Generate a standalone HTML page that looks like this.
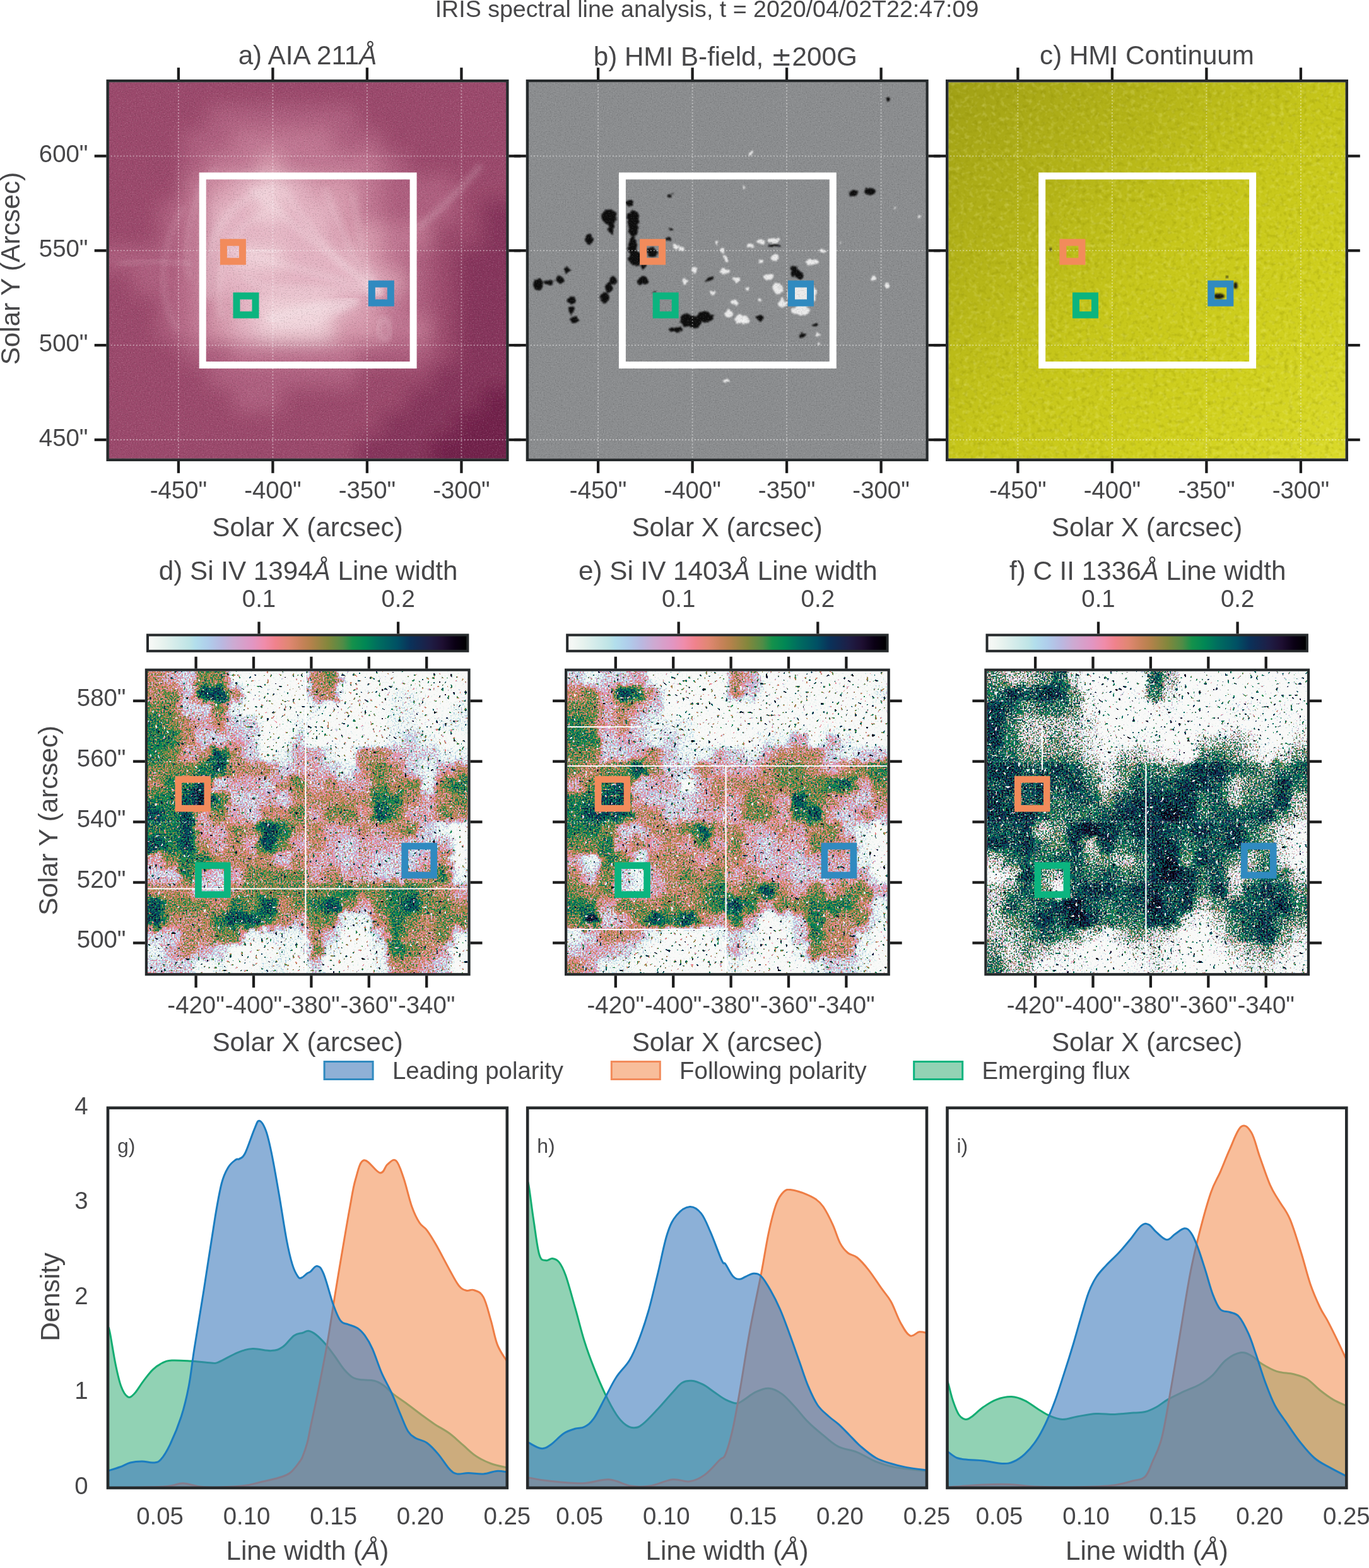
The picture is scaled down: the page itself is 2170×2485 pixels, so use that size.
<!DOCTYPE html>
<html><head><meta charset="utf-8"><title>IRIS spectral line analysis</title>
<style>html,body{margin:0;padding:0;background:#fff;} svg{display:block;}</style></head>
<body><svg xmlns="http://www.w3.org/2000/svg" width="2170" height="2485" viewBox="0 0 2170 2485" font-family='"Liberation Sans", Arial, sans-serif' fill="#474749">
<rect x="0" y="0" width="2170" height="2485" fill="#ffffff"/>
<defs><linearGradient id="cbar" x1="0" x2="1" y1="0" y2="0"><stop offset="0.0" stop-color="rgb(250, 250, 248)"/><stop offset="0.05" stop-color="rgb(230, 242, 238)"/><stop offset="0.13" stop-color="rgb(190, 228, 230)"/><stop offset="0.15" stop-color="rgb(178, 222, 236)"/><stop offset="0.19" stop-color="rgb(175, 205, 235)"/><stop offset="0.23" stop-color="rgb(185, 185, 225)"/><stop offset="0.27" stop-color="rgb(205, 170, 210)"/><stop offset="0.327" stop-color="rgb(225, 150, 195)"/><stop offset="0.366" stop-color="rgb(240, 140, 170)"/><stop offset="0.4" stop-color="rgb(240, 130, 140)"/><stop offset="0.44" stop-color="rgb(225, 135, 115)"/><stop offset="0.48" stop-color="rgb(200, 130, 90)"/><stop offset="0.51" stop-color="rgb(180, 130, 75)"/><stop offset="0.564" stop-color="rgb(130, 135, 60)"/><stop offset="0.61" stop-color="rgb(80, 140, 70)"/><stop offset="0.64" stop-color="rgb(20, 145, 75)"/><stop offset="0.68" stop-color="rgb(0, 135, 85)"/><stop offset="0.72" stop-color="rgb(0, 110, 95)"/><stop offset="0.78" stop-color="rgb(0, 80, 100)"/><stop offset="0.82" stop-color="rgb(10, 50, 90)"/><stop offset="0.88" stop-color="rgb(30, 30, 70)"/><stop offset="0.92" stop-color="rgb(30, 15, 50)"/><stop offset="0.96" stop-color="rgb(10, 0, 20)"/><stop offset="1.0" stop-color="rgb(0, 0, 0)"/></linearGradient><filter id="mblur" x="-5%" y="-5%" width="110%" height="110%"><feGaussianBlur stdDeviation="5"/></filter>
<filter id="ablur" x="-5%" y="-5%" width="110%" height="110%"><feGaussianBlur stdDeviation="14"/></filter>
<filter id="lblur" x="-20%" y="-20%" width="140%" height="140%"><feGaussianBlur stdDeviation="5"/></filter>
<filter id="rough" x="-10%" y="-10%" width="120%" height="120%"><feTurbulence type="fractalNoise" baseFrequency="0.12" numOctaves="2" seed="8" result="t"/><feDisplacementMap in="SourceGraphic" in2="t" scale="9" xChannelSelector="R" yChannelSelector="G" result="d"/><feGaussianBlur in="d" stdDeviation="1.2"/></filter>
<filter id="bblur" x="-20%" y="-20%" width="140%" height="140%"><feGaussianBlur stdDeviation="1.5"/></filter>
<filter id="grainw" x="0" y="0" width="100%" height="100%"><feTurbulence type="fractalNoise" baseFrequency="0.5" numOctaves="1" seed="3"/><feColorMatrix type="matrix" values="0 0 0 0 1  0 0 0 0 1  0 0 0 0 1  2.2 0 0 0 -1.15"/></filter>
<filter id="graind" x="0" y="0" width="100%" height="100%"><feTurbulence type="fractalNoise" baseFrequency="0.5" numOctaves="1" seed="11"/><feColorMatrix type="matrix" values="0 0 0 0 0  0 0 0 0 0  0 0 0 0 0  2.2 0 0 0 -1.15"/></filter>
<linearGradient id="cgrad" x1="0" y1="0" x2="1" y2="1"><stop offset="0" stop-color="#a0a016"/><stop offset="0.25" stop-color="#b2b218"/><stop offset="0.5" stop-color="#c6c61a"/><stop offset="0.75" stop-color="#d0d01e"/><stop offset="1" stop-color="#dada2a"/></linearGradient>
<pattern id="speck" x="0" y="0" width="108.0" height="108.0" patternUnits="userSpaceOnUse"><rect x="0.0" y="3.6" width="3.6" height="3.6" fill="#ffffff"/><rect x="0.0" y="7.2" width="3.6" height="3.6" fill="#c0e4ea"/><rect x="0.0" y="10.8" width="3.6" height="3.6" fill="#ffffff"/><rect x="0.0" y="18.0" width="3.6" height="3.6" fill="#ffffff"/><rect x="0.0" y="25.2" width="3.6" height="3.6" fill="#ffffff"/><rect x="0.0" y="32.4" width="3.6" height="3.6" fill="#ffffff"/><rect x="0.0" y="46.8" width="3.6" height="3.6" fill="#c8d0f0"/><rect x="0.0" y="50.4" width="3.6" height="3.6" fill="#e88aa8"/><rect x="0.0" y="54.0" width="3.6" height="3.6" fill="#ffffff"/><rect x="0.0" y="61.2" width="3.6" height="3.6" fill="#ffffff"/><rect x="0.0" y="75.6" width="3.6" height="3.6" fill="#e88aa8"/><rect x="0.0" y="86.4" width="3.6" height="3.6" fill="#ffffff"/><rect x="3.6" y="10.8" width="3.6" height="3.6" fill="#e88aa8"/><rect x="3.6" y="14.4" width="3.6" height="3.6" fill="#1e7a50"/><rect x="3.6" y="36.0" width="3.6" height="3.6" fill="#c8d0f0"/><rect x="3.6" y="39.6" width="3.6" height="3.6" fill="#0e3c48"/><rect x="3.6" y="43.2" width="3.6" height="3.6" fill="#9a7a48"/><rect x="3.6" y="54.0" width="3.6" height="3.6" fill="#c0e4ea"/><rect x="3.6" y="97.2" width="3.6" height="3.6" fill="#1e7a50"/><rect x="7.2" y="14.4" width="3.6" height="3.6" fill="#9a7a48"/><rect x="7.2" y="28.8" width="3.6" height="3.6" fill="#1e7a50"/><rect x="7.2" y="32.4" width="3.6" height="3.6" fill="#e88aa8"/><rect x="7.2" y="46.8" width="3.6" height="3.6" fill="#c8d0f0"/><rect x="7.2" y="82.8" width="3.6" height="3.6" fill="#ffffff"/><rect x="7.2" y="86.4" width="3.6" height="3.6" fill="#e88aa8"/><rect x="7.2" y="90.0" width="3.6" height="3.6" fill="#ffffff"/><rect x="7.2" y="97.2" width="3.6" height="3.6" fill="#c8d0f0"/><rect x="10.8" y="3.6" width="3.6" height="3.6" fill="#c0e4ea"/><rect x="10.8" y="50.4" width="3.6" height="3.6" fill="#e88aa8"/><rect x="10.8" y="57.6" width="3.6" height="3.6" fill="#ffffff"/><rect x="10.8" y="61.2" width="3.6" height="3.6" fill="#ffffff"/><rect x="10.8" y="75.6" width="3.6" height="3.6" fill="#e88aa8"/><rect x="10.8" y="82.8" width="3.6" height="3.6" fill="#1e7a50"/><rect x="10.8" y="97.2" width="3.6" height="3.6" fill="#9a7a48"/><rect x="14.4" y="3.6" width="3.6" height="3.6" fill="#ffffff"/><rect x="14.4" y="25.2" width="3.6" height="3.6" fill="#c0e4ea"/><rect x="14.4" y="50.4" width="3.6" height="3.6" fill="#1e7a50"/><rect x="14.4" y="90.0" width="3.6" height="3.6" fill="#e88aa8"/><rect x="18.0" y="3.6" width="3.6" height="3.6" fill="#ffffff"/><rect x="18.0" y="14.4" width="3.6" height="3.6" fill="#0e3c48"/><rect x="18.0" y="43.2" width="3.6" height="3.6" fill="#e88aa8"/><rect x="18.0" y="57.6" width="3.6" height="3.6" fill="#0e3c48"/><rect x="18.0" y="64.8" width="3.6" height="3.6" fill="#ffffff"/><rect x="18.0" y="82.8" width="3.6" height="3.6" fill="#0e3c48"/><rect x="18.0" y="86.4" width="3.6" height="3.6" fill="#c8d0f0"/><rect x="18.0" y="97.2" width="3.6" height="3.6" fill="#ffffff"/><rect x="18.0" y="100.8" width="3.6" height="3.6" fill="#ffffff"/><rect x="18.0" y="104.4" width="3.6" height="3.6" fill="#9a7a48"/><rect x="21.6" y="3.6" width="3.6" height="3.6" fill="#9a7a48"/><rect x="21.6" y="18.0" width="3.6" height="3.6" fill="#ffffff"/><rect x="21.6" y="28.8" width="3.6" height="3.6" fill="#ffffff"/><rect x="21.6" y="43.2" width="3.6" height="3.6" fill="#1e7a50"/><rect x="21.6" y="46.8" width="3.6" height="3.6" fill="#c0e4ea"/><rect x="21.6" y="64.8" width="3.6" height="3.6" fill="#0e3c48"/><rect x="21.6" y="90.0" width="3.6" height="3.6" fill="#ffffff"/><rect x="21.6" y="97.2" width="3.6" height="3.6" fill="#9a7a48"/><rect x="25.2" y="3.6" width="3.6" height="3.6" fill="#ffffff"/><rect x="25.2" y="32.4" width="3.6" height="3.6" fill="#c0e4ea"/><rect x="25.2" y="36.0" width="3.6" height="3.6" fill="#e88aa8"/><rect x="28.8" y="10.8" width="3.6" height="3.6" fill="#ffffff"/><rect x="28.8" y="28.8" width="3.6" height="3.6" fill="#1e7a50"/><rect x="28.8" y="39.6" width="3.6" height="3.6" fill="#0e3c48"/><rect x="28.8" y="43.2" width="3.6" height="3.6" fill="#ffffff"/><rect x="28.8" y="50.4" width="3.6" height="3.6" fill="#ffffff"/><rect x="28.8" y="68.4" width="3.6" height="3.6" fill="#c8d0f0"/><rect x="28.8" y="86.4" width="3.6" height="3.6" fill="#0e3c48"/><rect x="28.8" y="90.0" width="3.6" height="3.6" fill="#c0e4ea"/><rect x="32.4" y="7.2" width="3.6" height="3.6" fill="#e88aa8"/><rect x="32.4" y="14.4" width="3.6" height="3.6" fill="#1e7a50"/><rect x="32.4" y="25.2" width="3.6" height="3.6" fill="#ffffff"/><rect x="32.4" y="68.4" width="3.6" height="3.6" fill="#ffffff"/><rect x="32.4" y="75.6" width="3.6" height="3.6" fill="#ffffff"/><rect x="32.4" y="82.8" width="3.6" height="3.6" fill="#e88aa8"/><rect x="32.4" y="86.4" width="3.6" height="3.6" fill="#ffffff"/><rect x="36.0" y="0.0" width="3.6" height="3.6" fill="#c0e4ea"/><rect x="36.0" y="18.0" width="3.6" height="3.6" fill="#1e7a50"/><rect x="36.0" y="28.8" width="3.6" height="3.6" fill="#9a7a48"/><rect x="36.0" y="36.0" width="3.6" height="3.6" fill="#0e3c48"/><rect x="36.0" y="46.8" width="3.6" height="3.6" fill="#ffffff"/><rect x="36.0" y="57.6" width="3.6" height="3.6" fill="#9a7a48"/><rect x="36.0" y="93.6" width="3.6" height="3.6" fill="#e88aa8"/><rect x="39.6" y="10.8" width="3.6" height="3.6" fill="#ffffff"/><rect x="39.6" y="14.4" width="3.6" height="3.6" fill="#1e7a50"/><rect x="39.6" y="21.6" width="3.6" height="3.6" fill="#c8d0f0"/><rect x="39.6" y="46.8" width="3.6" height="3.6" fill="#9a7a48"/><rect x="39.6" y="50.4" width="3.6" height="3.6" fill="#0e3c48"/><rect x="39.6" y="79.2" width="3.6" height="3.6" fill="#c8d0f0"/><rect x="39.6" y="82.8" width="3.6" height="3.6" fill="#1e7a50"/><rect x="39.6" y="90.0" width="3.6" height="3.6" fill="#c0e4ea"/><rect x="39.6" y="97.2" width="3.6" height="3.6" fill="#ffffff"/><rect x="39.6" y="100.8" width="3.6" height="3.6" fill="#ffffff"/><rect x="43.2" y="7.2" width="3.6" height="3.6" fill="#c0e4ea"/><rect x="43.2" y="14.4" width="3.6" height="3.6" fill="#c8d0f0"/><rect x="43.2" y="36.0" width="3.6" height="3.6" fill="#c0e4ea"/><rect x="43.2" y="50.4" width="3.6" height="3.6" fill="#c0e4ea"/><rect x="43.2" y="64.8" width="3.6" height="3.6" fill="#e88aa8"/><rect x="43.2" y="68.4" width="3.6" height="3.6" fill="#ffffff"/><rect x="43.2" y="72.0" width="3.6" height="3.6" fill="#0e3c48"/><rect x="43.2" y="86.4" width="3.6" height="3.6" fill="#ffffff"/><rect x="43.2" y="100.8" width="3.6" height="3.6" fill="#ffffff"/><rect x="46.8" y="10.8" width="3.6" height="3.6" fill="#9a7a48"/><rect x="46.8" y="18.0" width="3.6" height="3.6" fill="#1e7a50"/><rect x="46.8" y="43.2" width="3.6" height="3.6" fill="#1e7a50"/><rect x="46.8" y="57.6" width="3.6" height="3.6" fill="#ffffff"/><rect x="46.8" y="75.6" width="3.6" height="3.6" fill="#9a7a48"/><rect x="46.8" y="79.2" width="3.6" height="3.6" fill="#1e7a50"/><rect x="46.8" y="86.4" width="3.6" height="3.6" fill="#e88aa8"/><rect x="50.4" y="0.0" width="3.6" height="3.6" fill="#c0e4ea"/><rect x="50.4" y="3.6" width="3.6" height="3.6" fill="#ffffff"/><rect x="50.4" y="10.8" width="3.6" height="3.6" fill="#9a7a48"/><rect x="50.4" y="14.4" width="3.6" height="3.6" fill="#c0e4ea"/><rect x="50.4" y="28.8" width="3.6" height="3.6" fill="#e88aa8"/><rect x="50.4" y="32.4" width="3.6" height="3.6" fill="#ffffff"/><rect x="50.4" y="36.0" width="3.6" height="3.6" fill="#c0e4ea"/><rect x="50.4" y="57.6" width="3.6" height="3.6" fill="#0e3c48"/><rect x="50.4" y="72.0" width="3.6" height="3.6" fill="#ffffff"/><rect x="50.4" y="97.2" width="3.6" height="3.6" fill="#0e3c48"/><rect x="50.4" y="100.8" width="3.6" height="3.6" fill="#0e3c48"/><rect x="54.0" y="0.0" width="3.6" height="3.6" fill="#e88aa8"/><rect x="54.0" y="39.6" width="3.6" height="3.6" fill="#ffffff"/><rect x="54.0" y="43.2" width="3.6" height="3.6" fill="#1e7a50"/><rect x="54.0" y="50.4" width="3.6" height="3.6" fill="#1e7a50"/><rect x="54.0" y="72.0" width="3.6" height="3.6" fill="#c8d0f0"/><rect x="54.0" y="90.0" width="3.6" height="3.6" fill="#c8d0f0"/><rect x="57.6" y="0.0" width="3.6" height="3.6" fill="#c0e4ea"/><rect x="57.6" y="3.6" width="3.6" height="3.6" fill="#9a7a48"/><rect x="57.6" y="39.6" width="3.6" height="3.6" fill="#ffffff"/><rect x="57.6" y="43.2" width="3.6" height="3.6" fill="#c0e4ea"/><rect x="57.6" y="68.4" width="3.6" height="3.6" fill="#e88aa8"/><rect x="57.6" y="75.6" width="3.6" height="3.6" fill="#c0e4ea"/><rect x="57.6" y="79.2" width="3.6" height="3.6" fill="#e88aa8"/><rect x="57.6" y="90.0" width="3.6" height="3.6" fill="#ffffff"/><rect x="61.2" y="7.2" width="3.6" height="3.6" fill="#1e7a50"/><rect x="61.2" y="32.4" width="3.6" height="3.6" fill="#e88aa8"/><rect x="61.2" y="57.6" width="3.6" height="3.6" fill="#c8d0f0"/><rect x="61.2" y="75.6" width="3.6" height="3.6" fill="#c8d0f0"/><rect x="61.2" y="104.4" width="3.6" height="3.6" fill="#ffffff"/><rect x="64.8" y="21.6" width="3.6" height="3.6" fill="#ffffff"/><rect x="64.8" y="39.6" width="3.6" height="3.6" fill="#1e7a50"/><rect x="64.8" y="54.0" width="3.6" height="3.6" fill="#1e7a50"/><rect x="64.8" y="75.6" width="3.6" height="3.6" fill="#1e7a50"/><rect x="64.8" y="104.4" width="3.6" height="3.6" fill="#c8d0f0"/><rect x="68.4" y="7.2" width="3.6" height="3.6" fill="#9a7a48"/><rect x="68.4" y="18.0" width="3.6" height="3.6" fill="#e88aa8"/><rect x="68.4" y="32.4" width="3.6" height="3.6" fill="#0e3c48"/><rect x="68.4" y="46.8" width="3.6" height="3.6" fill="#1e7a50"/><rect x="68.4" y="57.6" width="3.6" height="3.6" fill="#e88aa8"/><rect x="68.4" y="90.0" width="3.6" height="3.6" fill="#e88aa8"/><rect x="68.4" y="100.8" width="3.6" height="3.6" fill="#ffffff"/><rect x="72.0" y="0.0" width="3.6" height="3.6" fill="#ffffff"/><rect x="72.0" y="7.2" width="3.6" height="3.6" fill="#ffffff"/><rect x="72.0" y="14.4" width="3.6" height="3.6" fill="#9a7a48"/><rect x="72.0" y="39.6" width="3.6" height="3.6" fill="#c0e4ea"/><rect x="72.0" y="46.8" width="3.6" height="3.6" fill="#c8d0f0"/><rect x="72.0" y="61.2" width="3.6" height="3.6" fill="#ffffff"/><rect x="72.0" y="75.6" width="3.6" height="3.6" fill="#e88aa8"/><rect x="72.0" y="93.6" width="3.6" height="3.6" fill="#9a7a48"/><rect x="72.0" y="97.2" width="3.6" height="3.6" fill="#c0e4ea"/><rect x="72.0" y="104.4" width="3.6" height="3.6" fill="#0e3c48"/><rect x="75.6" y="32.4" width="3.6" height="3.6" fill="#e88aa8"/><rect x="75.6" y="72.0" width="3.6" height="3.6" fill="#ffffff"/><rect x="75.6" y="75.6" width="3.6" height="3.6" fill="#e88aa8"/><rect x="75.6" y="79.2" width="3.6" height="3.6" fill="#9a7a48"/><rect x="75.6" y="104.4" width="3.6" height="3.6" fill="#1e7a50"/><rect x="79.2" y="25.2" width="3.6" height="3.6" fill="#e88aa8"/><rect x="79.2" y="32.4" width="3.6" height="3.6" fill="#c8d0f0"/><rect x="79.2" y="36.0" width="3.6" height="3.6" fill="#ffffff"/><rect x="79.2" y="46.8" width="3.6" height="3.6" fill="#c8d0f0"/><rect x="79.2" y="61.2" width="3.6" height="3.6" fill="#ffffff"/><rect x="79.2" y="75.6" width="3.6" height="3.6" fill="#ffffff"/><rect x="79.2" y="100.8" width="3.6" height="3.6" fill="#1e7a50"/><rect x="82.8" y="10.8" width="3.6" height="3.6" fill="#e88aa8"/><rect x="82.8" y="14.4" width="3.6" height="3.6" fill="#e88aa8"/><rect x="82.8" y="18.0" width="3.6" height="3.6" fill="#e88aa8"/><rect x="82.8" y="50.4" width="3.6" height="3.6" fill="#9a7a48"/><rect x="82.8" y="75.6" width="3.6" height="3.6" fill="#e88aa8"/><rect x="82.8" y="104.4" width="3.6" height="3.6" fill="#0e3c48"/><rect x="86.4" y="0.0" width="3.6" height="3.6" fill="#0e3c48"/><rect x="86.4" y="7.2" width="3.6" height="3.6" fill="#1e7a50"/><rect x="86.4" y="10.8" width="3.6" height="3.6" fill="#e88aa8"/><rect x="86.4" y="32.4" width="3.6" height="3.6" fill="#ffffff"/><rect x="86.4" y="43.2" width="3.6" height="3.6" fill="#ffffff"/><rect x="86.4" y="54.0" width="3.6" height="3.6" fill="#c0e4ea"/><rect x="86.4" y="57.6" width="3.6" height="3.6" fill="#ffffff"/><rect x="86.4" y="79.2" width="3.6" height="3.6" fill="#0e3c48"/><rect x="86.4" y="86.4" width="3.6" height="3.6" fill="#0e3c48"/><rect x="90.0" y="0.0" width="3.6" height="3.6" fill="#ffffff"/><rect x="90.0" y="18.0" width="3.6" height="3.6" fill="#ffffff"/><rect x="90.0" y="21.6" width="3.6" height="3.6" fill="#ffffff"/><rect x="90.0" y="32.4" width="3.6" height="3.6" fill="#0e3c48"/><rect x="90.0" y="39.6" width="3.6" height="3.6" fill="#0e3c48"/><rect x="90.0" y="54.0" width="3.6" height="3.6" fill="#9a7a48"/><rect x="90.0" y="75.6" width="3.6" height="3.6" fill="#9a7a48"/><rect x="90.0" y="90.0" width="3.6" height="3.6" fill="#ffffff"/><rect x="93.6" y="0.0" width="3.6" height="3.6" fill="#9a7a48"/><rect x="93.6" y="3.6" width="3.6" height="3.6" fill="#e88aa8"/><rect x="93.6" y="7.2" width="3.6" height="3.6" fill="#c0e4ea"/><rect x="93.6" y="10.8" width="3.6" height="3.6" fill="#0e3c48"/><rect x="93.6" y="14.4" width="3.6" height="3.6" fill="#e88aa8"/><rect x="93.6" y="25.2" width="3.6" height="3.6" fill="#c0e4ea"/><rect x="93.6" y="79.2" width="3.6" height="3.6" fill="#ffffff"/><rect x="93.6" y="104.4" width="3.6" height="3.6" fill="#9a7a48"/><rect x="97.2" y="3.6" width="3.6" height="3.6" fill="#0e3c48"/><rect x="97.2" y="10.8" width="3.6" height="3.6" fill="#9a7a48"/><rect x="97.2" y="21.6" width="3.6" height="3.6" fill="#ffffff"/><rect x="97.2" y="25.2" width="3.6" height="3.6" fill="#0e3c48"/><rect x="97.2" y="36.0" width="3.6" height="3.6" fill="#c0e4ea"/><rect x="97.2" y="50.4" width="3.6" height="3.6" fill="#ffffff"/><rect x="97.2" y="64.8" width="3.6" height="3.6" fill="#9a7a48"/><rect x="100.8" y="32.4" width="3.6" height="3.6" fill="#c8d0f0"/><rect x="100.8" y="36.0" width="3.6" height="3.6" fill="#1e7a50"/><rect x="100.8" y="46.8" width="3.6" height="3.6" fill="#1e7a50"/><rect x="100.8" y="50.4" width="3.6" height="3.6" fill="#c0e4ea"/><rect x="100.8" y="54.0" width="3.6" height="3.6" fill="#0e3c48"/><rect x="100.8" y="100.8" width="3.6" height="3.6" fill="#0e3c48"/><rect x="104.4" y="3.6" width="3.6" height="3.6" fill="#ffffff"/><rect x="104.4" y="57.6" width="3.6" height="3.6" fill="#9a7a48"/><rect x="104.4" y="68.4" width="3.6" height="3.6" fill="#ffffff"/><rect x="104.4" y="93.6" width="3.6" height="3.6" fill="#0e3c48"/><rect x="104.4" y="104.4" width="3.6" height="3.6" fill="#e88aa8"/></pattern>
<filter id="mapf" x="-2%" y="-2%" width="104%" height="104%" color-interpolation-filters="sRGB"><feGaussianBlur in="SourceGraphic" stdDeviation="5" result="f0"/><feTurbulence type="fractalNoise" baseFrequency="0.07" numOctaves="2" seed="21" result="dt"/><feDisplacementMap in="f0" in2="dt" scale="22" xChannelSelector="R" yChannelSelector="G" result="f"/><feTurbulence type="fractalNoise" baseFrequency="0.42" numOctaves="1" seed="4" result="t"/><feColorMatrix in="t" type="matrix" values="1 0 0 0 0  1 0 0 0 0  1 0 0 0 0  0 0 0 0 1" result="n"/><feComposite in="f" in2="n" operator="arithmetic" k1="0" k2="1" k3="0.8" k4="-0.4" result="s"/><feTurbulence type="fractalNoise" baseFrequency="0.22" numOctaves="1" seed="9" result="t2"/><feColorMatrix in="t2" type="matrix" values="0 2.0 0 0 -0.5  0 2.0 0 0 -0.5  0 2.0 0 0 -0.5  1 0 0 0 0" result="sp0"/><feComponentTransfer in="sp0" result="sp"><feFuncA type="discrete" tableValues="0 0 0 0 0 0 0 0 0 0 0 0 0 1 1 1 1 1 1 1"/></feComponentTransfer><feComposite in="sp" in2="s" operator="over" result="v0"/><feComponentTransfer in="v0" result="v"><feFuncR type="table" tableValues="0 0.01 0.07 0.24 0.4 0.5 0.6 0.7 0.8 0.9 1.0"/><feFuncG type="table" tableValues="0 0.01 0.07 0.24 0.4 0.5 0.6 0.7 0.8 0.9 1.0"/><feFuncB type="table" tableValues="0 0.01 0.07 0.24 0.4 0.5 0.6 0.7 0.8 0.9 1.0"/></feComponentTransfer><feComponentTransfer in="v"><feFuncR type="table" tableValues="0.980 0.941 0.902 0.853 0.804 0.755 0.698 0.691 0.696 0.721 0.765 0.811 0.845 0.880 0.917 0.941 0.941 0.904 0.858 0.797 0.732 0.651 0.561 0.463 0.356 0.196 0.059 0.010 0.000 0.000 0.000 0.000 0.020 0.046 0.078 0.111 0.118 0.108 0.059 0.025 0.000"/><feFuncG type="table" tableValues="0.980 0.965 0.949 0.932 0.915 0.898 0.871 0.829 0.784 0.735 0.696 0.660 0.625 0.591 0.565 0.539 0.510 0.522 0.525 0.512 0.510 0.515 0.524 0.534 0.545 0.559 0.559 0.534 0.480 0.422 0.373 0.324 0.255 0.190 0.157 0.124 0.088 0.051 0.015 0.000 0.000"/><feFuncB type="table" tableValues="0.973 0.953 0.933 0.924 0.914 0.904 0.925 0.923 0.912 0.887 0.853 0.818 0.793 0.767 0.707 0.636 0.549 0.488 0.426 0.365 0.314 0.278 0.251 0.245 0.266 0.284 0.304 0.328 0.353 0.374 0.382 0.391 0.373 0.346 0.314 0.281 0.235 0.181 0.108 0.049 0.000"/></feComponentTransfer></filter>
<filter id="mapff" x="-2%" y="-2%" width="104%" height="104%" color-interpolation-filters="sRGB"><feGaussianBlur in="SourceGraphic" stdDeviation="5" result="f0"/><feTurbulence type="fractalNoise" baseFrequency="0.07" numOctaves="2" seed="21" result="dt"/><feDisplacementMap in="f0" in2="dt" scale="22" xChannelSelector="R" yChannelSelector="G" result="f"/><feTurbulence type="fractalNoise" baseFrequency="0.42" numOctaves="1" seed="4" result="t"/><feColorMatrix in="t" type="matrix" values="1 0 0 0 0  1 0 0 0 0  1 0 0 0 0  0 0 0 0 1" result="n"/><feComposite in="f" in2="n" operator="arithmetic" k1="0" k2="1" k3="1.3" k4="-0.65" result="s"/><feTurbulence type="fractalNoise" baseFrequency="0.22" numOctaves="1" seed="9" result="t2"/><feColorMatrix in="t2" type="matrix" values="0 2.0 0 0 -0.5  0 2.0 0 0 -0.5  0 2.0 0 0 -0.5  1 0 0 0 0" result="sp0"/><feComponentTransfer in="sp0" result="sp"><feFuncA type="discrete" tableValues="0 0 0 0 0 0 0 0 0 0 0 0 0 1 1 1 1 1 1 1"/></feComponentTransfer><feComposite in="sp" in2="s" operator="over" result="v0"/><feComponentTransfer in="v0" result="v"><feFuncR type="table" tableValues="0 0 0.01 0.05 0.3 0.62 0.7 0.77 0.85 0.92 1"/><feFuncG type="table" tableValues="0 0 0.01 0.05 0.3 0.62 0.7 0.77 0.85 0.92 1"/><feFuncB type="table" tableValues="0 0 0.01 0.05 0.3 0.62 0.7 0.77 0.85 0.92 1"/></feComponentTransfer><feComponentTransfer in="v"><feFuncR type="table" tableValues="0.980 0.941 0.902 0.853 0.804 0.755 0.698 0.691 0.696 0.721 0.765 0.811 0.845 0.880 0.917 0.941 0.941 0.904 0.858 0.797 0.732 0.651 0.561 0.463 0.356 0.196 0.059 0.010 0.000 0.000 0.000 0.000 0.020 0.046 0.078 0.111 0.118 0.108 0.059 0.025 0.000"/><feFuncG type="table" tableValues="0.980 0.965 0.949 0.932 0.915 0.898 0.871 0.829 0.784 0.735 0.696 0.660 0.625 0.591 0.565 0.539 0.510 0.522 0.525 0.512 0.510 0.515 0.524 0.534 0.545 0.559 0.559 0.534 0.480 0.422 0.373 0.324 0.255 0.190 0.157 0.124 0.088 0.051 0.015 0.000 0.000"/><feFuncB type="table" tableValues="0.973 0.953 0.933 0.924 0.914 0.904 0.925 0.923 0.912 0.887 0.853 0.818 0.793 0.767 0.707 0.636 0.549 0.488 0.426 0.365 0.314 0.278 0.251 0.245 0.266 0.284 0.304 0.328 0.353 0.374 0.382 0.391 0.373 0.346 0.314 0.281 0.235 0.181 0.108 0.049 0.000"/></feComponentTransfer></filter>
<filter id="grainc" x="0" y="0" width="100%" height="100%"><feTurbulence type="fractalNoise" baseFrequency="0.14" numOctaves="2" seed="5"/><feColorMatrix type="matrix" values="0 0 0 0 0.25  0 0 0 0 0.25  0 0 0 0 0  -2.4 0 0 0 1.2"/></filter>
<filter id="graincw" x="0" y="0" width="100%" height="100%"><feTurbulence type="fractalNoise" baseFrequency="0.14" numOctaves="2" seed="15"/><feColorMatrix type="matrix" values="0 0 0 0 1  0 0 0 0 1  0 0 0 0 0.5  -2.4 0 0 0 1.2"/></filter></defs>
<text x="1120.5" y="27.0" font-size="37.6" text-anchor="middle">IRIS spectral line analysis, t = 2020/04/02T22:47:09</text>
<g id="img0"><clipPath id="pclip0"><rect x="172.7" y="130.2" width="629.6" height="596.6"/></clipPath>
<g clip-path="url(#pclip0)">
<g filter="url(#ablur)">
<rect x="133.3" y="92.9" width="40.0" height="37.9" fill="#9b486c"/>
<rect x="172.7" y="92.9" width="40.0" height="37.9" fill="#9b486c"/>
<rect x="212.0" y="92.9" width="40.0" height="37.9" fill="#9b486c"/>
<rect x="251.4" y="92.9" width="40.0" height="37.9" fill="#9b486c"/>
<rect x="290.8" y="92.9" width="40.0" height="37.9" fill="#9b486c"/>
<rect x="330.1" y="92.9" width="40.0" height="37.9" fill="#9b486c"/>
<rect x="369.4" y="92.9" width="40.0" height="37.9" fill="#9b486c"/>
<rect x="408.8" y="92.9" width="40.0" height="37.9" fill="#9b486c"/>
<rect x="448.1" y="92.9" width="40.0" height="37.9" fill="#9b486c"/>
<rect x="487.5" y="92.9" width="40.0" height="37.9" fill="#9b486c"/>
<rect x="526.9" y="92.9" width="40.0" height="37.9" fill="#9b486c"/>
<rect x="566.2" y="92.9" width="40.0" height="37.9" fill="#9b486c"/>
<rect x="605.5" y="92.9" width="40.0" height="37.9" fill="#9b486c"/>
<rect x="644.9" y="92.9" width="40.0" height="37.9" fill="#9b486c"/>
<rect x="684.2" y="92.9" width="40.0" height="37.9" fill="#9b486c"/>
<rect x="723.6" y="92.9" width="40.0" height="37.9" fill="#9b486c"/>
<rect x="763.0" y="92.9" width="40.0" height="37.9" fill="#9b486c"/>
<rect x="802.3" y="92.9" width="40.0" height="37.9" fill="#9b486c"/>
<rect x="133.3" y="130.2" width="40.0" height="37.9" fill="#9b486c"/>
<rect x="172.7" y="130.2" width="40.0" height="37.9" fill="#9b486c"/>
<rect x="212.0" y="130.2" width="40.0" height="37.9" fill="#9b486c"/>
<rect x="251.4" y="130.2" width="40.0" height="37.9" fill="#9b486c"/>
<rect x="290.8" y="130.2" width="40.0" height="37.9" fill="#9b486c"/>
<rect x="330.1" y="130.2" width="40.0" height="37.9" fill="#9b486c"/>
<rect x="369.4" y="130.2" width="40.0" height="37.9" fill="#9b486c"/>
<rect x="408.8" y="130.2" width="40.0" height="37.9" fill="#9b486c"/>
<rect x="448.1" y="130.2" width="40.0" height="37.9" fill="#9b486c"/>
<rect x="487.5" y="130.2" width="40.0" height="37.9" fill="#9b486c"/>
<rect x="526.9" y="130.2" width="40.0" height="37.9" fill="#9b486c"/>
<rect x="566.2" y="130.2" width="40.0" height="37.9" fill="#9b486c"/>
<rect x="605.5" y="130.2" width="40.0" height="37.9" fill="#9b486c"/>
<rect x="644.9" y="130.2" width="40.0" height="37.9" fill="#9b486c"/>
<rect x="684.2" y="130.2" width="40.0" height="37.9" fill="#9b486c"/>
<rect x="723.6" y="130.2" width="40.0" height="37.9" fill="#9b486c"/>
<rect x="763.0" y="130.2" width="40.0" height="37.9" fill="#9b486c"/>
<rect x="802.3" y="130.2" width="40.0" height="37.9" fill="#9b486c"/>
<rect x="133.3" y="167.5" width="40.0" height="37.9" fill="#9b486c"/>
<rect x="172.7" y="167.5" width="40.0" height="37.9" fill="#9b486c"/>
<rect x="212.0" y="167.5" width="40.0" height="37.9" fill="#9b486c"/>
<rect x="251.4" y="167.5" width="40.0" height="37.9" fill="#9b486c"/>
<rect x="290.8" y="167.5" width="40.0" height="37.9" fill="#9b486c"/>
<rect x="330.1" y="167.5" width="40.0" height="37.9" fill="#ae5e7f"/>
<rect x="369.4" y="167.5" width="40.0" height="37.9" fill="#ae5e7f"/>
<rect x="408.8" y="167.5" width="40.0" height="37.9" fill="#ae5e7f"/>
<rect x="448.1" y="167.5" width="40.0" height="37.9" fill="#ae5e7f"/>
<rect x="487.5" y="167.5" width="40.0" height="37.9" fill="#ae5e7f"/>
<rect x="526.9" y="167.5" width="40.0" height="37.9" fill="#ae5e7f"/>
<rect x="566.2" y="167.5" width="40.0" height="37.9" fill="#9b486c"/>
<rect x="605.5" y="167.5" width="40.0" height="37.9" fill="#9b486c"/>
<rect x="644.9" y="167.5" width="40.0" height="37.9" fill="#9b486c"/>
<rect x="684.2" y="167.5" width="40.0" height="37.9" fill="#9b486c"/>
<rect x="723.6" y="167.5" width="40.0" height="37.9" fill="#9b486c"/>
<rect x="763.0" y="167.5" width="40.0" height="37.9" fill="#9b486c"/>
<rect x="802.3" y="167.5" width="40.0" height="37.9" fill="#9b486c"/>
<rect x="133.3" y="204.8" width="40.0" height="37.9" fill="#9b486c"/>
<rect x="172.7" y="204.8" width="40.0" height="37.9" fill="#9b486c"/>
<rect x="212.0" y="204.8" width="40.0" height="37.9" fill="#9b486c"/>
<rect x="251.4" y="204.8" width="40.0" height="37.9" fill="#9b486c"/>
<rect x="290.8" y="204.8" width="40.0" height="37.9" fill="#ae5e7f"/>
<rect x="330.1" y="204.8" width="40.0" height="37.9" fill="#ae5e7f"/>
<rect x="369.4" y="204.8" width="40.0" height="37.9" fill="#c07692"/>
<rect x="408.8" y="204.8" width="40.0" height="37.9" fill="#c07692"/>
<rect x="448.1" y="204.8" width="40.0" height="37.9" fill="#c07692"/>
<rect x="487.5" y="204.8" width="40.0" height="37.9" fill="#c07692"/>
<rect x="526.9" y="204.8" width="40.0" height="37.9" fill="#ae5e7f"/>
<rect x="566.2" y="204.8" width="40.0" height="37.9" fill="#ae5e7f"/>
<rect x="605.5" y="204.8" width="40.0" height="37.9" fill="#9b486c"/>
<rect x="644.9" y="204.8" width="40.0" height="37.9" fill="#9b486c"/>
<rect x="684.2" y="204.8" width="40.0" height="37.9" fill="#9b486c"/>
<rect x="723.6" y="204.8" width="40.0" height="37.9" fill="#9b486c"/>
<rect x="763.0" y="204.8" width="40.0" height="37.9" fill="#9b486c"/>
<rect x="802.3" y="204.8" width="40.0" height="37.9" fill="#9b486c"/>
<rect x="133.3" y="242.1" width="40.0" height="37.9" fill="#9b486c"/>
<rect x="172.7" y="242.1" width="40.0" height="37.9" fill="#9b486c"/>
<rect x="212.0" y="242.1" width="40.0" height="37.9" fill="#9b486c"/>
<rect x="251.4" y="242.1" width="40.0" height="37.9" fill="#9b486c"/>
<rect x="290.8" y="242.1" width="40.0" height="37.9" fill="#ae5e7f"/>
<rect x="330.1" y="242.1" width="40.0" height="37.9" fill="#c07692"/>
<rect x="369.4" y="242.1" width="40.0" height="37.9" fill="#c07692"/>
<rect x="408.8" y="242.1" width="40.0" height="37.9" fill="#d698ac"/>
<rect x="448.1" y="242.1" width="40.0" height="37.9" fill="#c07692"/>
<rect x="487.5" y="242.1" width="40.0" height="37.9" fill="#c07692"/>
<rect x="526.9" y="242.1" width="40.0" height="37.9" fill="#c07692"/>
<rect x="566.2" y="242.1" width="40.0" height="37.9" fill="#c07692"/>
<rect x="605.5" y="242.1" width="40.0" height="37.9" fill="#ae5e7f"/>
<rect x="644.9" y="242.1" width="40.0" height="37.9" fill="#9b486c"/>
<rect x="684.2" y="242.1" width="40.0" height="37.9" fill="#9b486c"/>
<rect x="723.6" y="242.1" width="40.0" height="37.9" fill="#9b486c"/>
<rect x="763.0" y="242.1" width="40.0" height="37.9" fill="#9b486c"/>
<rect x="802.3" y="242.1" width="40.0" height="37.9" fill="#9b486c"/>
<rect x="133.3" y="279.3" width="40.0" height="37.9" fill="#9b486c"/>
<rect x="172.7" y="279.3" width="40.0" height="37.9" fill="#9b486c"/>
<rect x="212.0" y="279.3" width="40.0" height="37.9" fill="#9b486c"/>
<rect x="251.4" y="279.3" width="40.0" height="37.9" fill="#9b486c"/>
<rect x="290.8" y="279.3" width="40.0" height="37.9" fill="#c07692"/>
<rect x="330.1" y="279.3" width="40.0" height="37.9" fill="#d698ac"/>
<rect x="369.4" y="279.3" width="40.0" height="37.9" fill="#e4b4c3"/>
<rect x="408.8" y="279.3" width="40.0" height="37.9" fill="#f0d0d8"/>
<rect x="448.1" y="279.3" width="40.0" height="37.9" fill="#e4b4c3"/>
<rect x="487.5" y="279.3" width="40.0" height="37.9" fill="#d698ac"/>
<rect x="526.9" y="279.3" width="40.0" height="37.9" fill="#d698ac"/>
<rect x="566.2" y="279.3" width="40.0" height="37.9" fill="#c07692"/>
<rect x="605.5" y="279.3" width="40.0" height="37.9" fill="#ae5e7f"/>
<rect x="644.9" y="279.3" width="40.0" height="37.9" fill="#ae5e7f"/>
<rect x="684.2" y="279.3" width="40.0" height="37.9" fill="#ae5e7f"/>
<rect x="723.6" y="279.3" width="40.0" height="37.9" fill="#9b486c"/>
<rect x="763.0" y="279.3" width="40.0" height="37.9" fill="#9b486c"/>
<rect x="802.3" y="279.3" width="40.0" height="37.9" fill="#9b486c"/>
<rect x="133.3" y="316.6" width="40.0" height="37.9" fill="#9b486c"/>
<rect x="172.7" y="316.6" width="40.0" height="37.9" fill="#9b486c"/>
<rect x="212.0" y="316.6" width="40.0" height="37.9" fill="#9b486c"/>
<rect x="251.4" y="316.6" width="40.0" height="37.9" fill="#ae5e7f"/>
<rect x="290.8" y="316.6" width="40.0" height="37.9" fill="#c07692"/>
<rect x="330.1" y="316.6" width="40.0" height="37.9" fill="#e4b4c3"/>
<rect x="369.4" y="316.6" width="40.0" height="37.9" fill="#e4b4c3"/>
<rect x="408.8" y="316.6" width="40.0" height="37.9" fill="#f0d0d8"/>
<rect x="448.1" y="316.6" width="40.0" height="37.9" fill="#e4b4c3"/>
<rect x="487.5" y="316.6" width="40.0" height="37.9" fill="#e4b4c3"/>
<rect x="526.9" y="316.6" width="40.0" height="37.9" fill="#d698ac"/>
<rect x="566.2" y="316.6" width="40.0" height="37.9" fill="#c07692"/>
<rect x="605.5" y="316.6" width="40.0" height="37.9" fill="#ae5e7f"/>
<rect x="644.9" y="316.6" width="40.0" height="37.9" fill="#ae5e7f"/>
<rect x="684.2" y="316.6" width="40.0" height="37.9" fill="#ae5e7f"/>
<rect x="723.6" y="316.6" width="40.0" height="37.9" fill="#9b486c"/>
<rect x="763.0" y="316.6" width="40.0" height="37.9" fill="#86345c"/>
<rect x="802.3" y="316.6" width="40.0" height="37.9" fill="#86345c"/>
<rect x="133.3" y="353.9" width="40.0" height="37.9" fill="#9b486c"/>
<rect x="172.7" y="353.9" width="40.0" height="37.9" fill="#9b486c"/>
<rect x="212.0" y="353.9" width="40.0" height="37.9" fill="#9b486c"/>
<rect x="251.4" y="353.9" width="40.0" height="37.9" fill="#ae5e7f"/>
<rect x="290.8" y="353.9" width="40.0" height="37.9" fill="#c07692"/>
<rect x="330.1" y="353.9" width="40.0" height="37.9" fill="#e4b4c3"/>
<rect x="369.4" y="353.9" width="40.0" height="37.9" fill="#e4b4c3"/>
<rect x="408.8" y="353.9" width="40.0" height="37.9" fill="#e4b4c3"/>
<rect x="448.1" y="353.9" width="40.0" height="37.9" fill="#e4b4c3"/>
<rect x="487.5" y="353.9" width="40.0" height="37.9" fill="#e4b4c3"/>
<rect x="526.9" y="353.9" width="40.0" height="37.9" fill="#d698ac"/>
<rect x="566.2" y="353.9" width="40.0" height="37.9" fill="#d698ac"/>
<rect x="605.5" y="353.9" width="40.0" height="37.9" fill="#c07692"/>
<rect x="644.9" y="353.9" width="40.0" height="37.9" fill="#c07692"/>
<rect x="684.2" y="353.9" width="40.0" height="37.9" fill="#9b486c"/>
<rect x="723.6" y="353.9" width="40.0" height="37.9" fill="#9b486c"/>
<rect x="763.0" y="353.9" width="40.0" height="37.9" fill="#86345c"/>
<rect x="802.3" y="353.9" width="40.0" height="37.9" fill="#86345c"/>
<rect x="133.3" y="391.2" width="40.0" height="37.9" fill="#ae5e7f"/>
<rect x="172.7" y="391.2" width="40.0" height="37.9" fill="#ae5e7f"/>
<rect x="212.0" y="391.2" width="40.0" height="37.9" fill="#ae5e7f"/>
<rect x="251.4" y="391.2" width="40.0" height="37.9" fill="#ae5e7f"/>
<rect x="290.8" y="391.2" width="40.0" height="37.9" fill="#c07692"/>
<rect x="330.1" y="391.2" width="40.0" height="37.9" fill="#e4b4c3"/>
<rect x="369.4" y="391.2" width="40.0" height="37.9" fill="#f0d0d8"/>
<rect x="408.8" y="391.2" width="40.0" height="37.9" fill="#f0d0d8"/>
<rect x="448.1" y="391.2" width="40.0" height="37.9" fill="#e4b4c3"/>
<rect x="487.5" y="391.2" width="40.0" height="37.9" fill="#e4b4c3"/>
<rect x="526.9" y="391.2" width="40.0" height="37.9" fill="#e4b4c3"/>
<rect x="566.2" y="391.2" width="40.0" height="37.9" fill="#d698ac"/>
<rect x="605.5" y="391.2" width="40.0" height="37.9" fill="#c07692"/>
<rect x="644.9" y="391.2" width="40.0" height="37.9" fill="#ae5e7f"/>
<rect x="684.2" y="391.2" width="40.0" height="37.9" fill="#9b486c"/>
<rect x="723.6" y="391.2" width="40.0" height="37.9" fill="#86345c"/>
<rect x="763.0" y="391.2" width="40.0" height="37.9" fill="#86345c"/>
<rect x="802.3" y="391.2" width="40.0" height="37.9" fill="#86345c"/>
<rect x="133.3" y="428.5" width="40.0" height="37.9" fill="#9b486c"/>
<rect x="172.7" y="428.5" width="40.0" height="37.9" fill="#9b486c"/>
<rect x="212.0" y="428.5" width="40.0" height="37.9" fill="#ae5e7f"/>
<rect x="251.4" y="428.5" width="40.0" height="37.9" fill="#ae5e7f"/>
<rect x="290.8" y="428.5" width="40.0" height="37.9" fill="#c07692"/>
<rect x="330.1" y="428.5" width="40.0" height="37.9" fill="#e4b4c3"/>
<rect x="369.4" y="428.5" width="40.0" height="37.9" fill="#e4b4c3"/>
<rect x="408.8" y="428.5" width="40.0" height="37.9" fill="#e4b4c3"/>
<rect x="448.1" y="428.5" width="40.0" height="37.9" fill="#e4b4c3"/>
<rect x="487.5" y="428.5" width="40.0" height="37.9" fill="#e4b4c3"/>
<rect x="526.9" y="428.5" width="40.0" height="37.9" fill="#e4b4c3"/>
<rect x="566.2" y="428.5" width="40.0" height="37.9" fill="#e4b4c3"/>
<rect x="605.5" y="428.5" width="40.0" height="37.9" fill="#d698ac"/>
<rect x="644.9" y="428.5" width="40.0" height="37.9" fill="#ae5e7f"/>
<rect x="684.2" y="428.5" width="40.0" height="37.9" fill="#9b486c"/>
<rect x="723.6" y="428.5" width="40.0" height="37.9" fill="#86345c"/>
<rect x="763.0" y="428.5" width="40.0" height="37.9" fill="#86345c"/>
<rect x="802.3" y="428.5" width="40.0" height="37.9" fill="#86345c"/>
<rect x="133.3" y="465.8" width="40.0" height="37.9" fill="#9b486c"/>
<rect x="172.7" y="465.8" width="40.0" height="37.9" fill="#9b486c"/>
<rect x="212.0" y="465.8" width="40.0" height="37.9" fill="#9b486c"/>
<rect x="251.4" y="465.8" width="40.0" height="37.9" fill="#ae5e7f"/>
<rect x="290.8" y="465.8" width="40.0" height="37.9" fill="#c07692"/>
<rect x="330.1" y="465.8" width="40.0" height="37.9" fill="#d698ac"/>
<rect x="369.4" y="465.8" width="40.0" height="37.9" fill="#e4b4c3"/>
<rect x="408.8" y="465.8" width="40.0" height="37.9" fill="#f0d0d8"/>
<rect x="448.1" y="465.8" width="40.0" height="37.9" fill="#f0d0d8"/>
<rect x="487.5" y="465.8" width="40.0" height="37.9" fill="#f0d0d8"/>
<rect x="526.9" y="465.8" width="40.0" height="37.9" fill="#e4b4c3"/>
<rect x="566.2" y="465.8" width="40.0" height="37.9" fill="#d698ac"/>
<rect x="605.5" y="465.8" width="40.0" height="37.9" fill="#c07692"/>
<rect x="644.9" y="465.8" width="40.0" height="37.9" fill="#ae5e7f"/>
<rect x="684.2" y="465.8" width="40.0" height="37.9" fill="#9b486c"/>
<rect x="723.6" y="465.8" width="40.0" height="37.9" fill="#86345c"/>
<rect x="763.0" y="465.8" width="40.0" height="37.9" fill="#86345c"/>
<rect x="802.3" y="465.8" width="40.0" height="37.9" fill="#86345c"/>
<rect x="133.3" y="503.1" width="40.0" height="37.9" fill="#9b486c"/>
<rect x="172.7" y="503.1" width="40.0" height="37.9" fill="#9b486c"/>
<rect x="212.0" y="503.1" width="40.0" height="37.9" fill="#9b486c"/>
<rect x="251.4" y="503.1" width="40.0" height="37.9" fill="#ae5e7f"/>
<rect x="290.8" y="503.1" width="40.0" height="37.9" fill="#c07692"/>
<rect x="330.1" y="503.1" width="40.0" height="37.9" fill="#d698ac"/>
<rect x="369.4" y="503.1" width="40.0" height="37.9" fill="#e4b4c3"/>
<rect x="408.8" y="503.1" width="40.0" height="37.9" fill="#f0d0d8"/>
<rect x="448.1" y="503.1" width="40.0" height="37.9" fill="#f0d0d8"/>
<rect x="487.5" y="503.1" width="40.0" height="37.9" fill="#f0d0d8"/>
<rect x="526.9" y="503.1" width="40.0" height="37.9" fill="#d698ac"/>
<rect x="566.2" y="503.1" width="40.0" height="37.9" fill="#d698ac"/>
<rect x="605.5" y="503.1" width="40.0" height="37.9" fill="#c07692"/>
<rect x="644.9" y="503.1" width="40.0" height="37.9" fill="#c07692"/>
<rect x="684.2" y="503.1" width="40.0" height="37.9" fill="#9b486c"/>
<rect x="723.6" y="503.1" width="40.0" height="37.9" fill="#86345c"/>
<rect x="763.0" y="503.1" width="40.0" height="37.9" fill="#86345c"/>
<rect x="802.3" y="503.1" width="40.0" height="37.9" fill="#86345c"/>
<rect x="133.3" y="540.4" width="40.0" height="37.9" fill="#9b486c"/>
<rect x="172.7" y="540.4" width="40.0" height="37.9" fill="#9b486c"/>
<rect x="212.0" y="540.4" width="40.0" height="37.9" fill="#9b486c"/>
<rect x="251.4" y="540.4" width="40.0" height="37.9" fill="#9b486c"/>
<rect x="290.8" y="540.4" width="40.0" height="37.9" fill="#ae5e7f"/>
<rect x="330.1" y="540.4" width="40.0" height="37.9" fill="#ae5e7f"/>
<rect x="369.4" y="540.4" width="40.0" height="37.9" fill="#c07692"/>
<rect x="408.8" y="540.4" width="40.0" height="37.9" fill="#c07692"/>
<rect x="448.1" y="540.4" width="40.0" height="37.9" fill="#c07692"/>
<rect x="487.5" y="540.4" width="40.0" height="37.9" fill="#c07692"/>
<rect x="526.9" y="540.4" width="40.0" height="37.9" fill="#c07692"/>
<rect x="566.2" y="540.4" width="40.0" height="37.9" fill="#ae5e7f"/>
<rect x="605.5" y="540.4" width="40.0" height="37.9" fill="#ae5e7f"/>
<rect x="644.9" y="540.4" width="40.0" height="37.9" fill="#ae5e7f"/>
<rect x="684.2" y="540.4" width="40.0" height="37.9" fill="#9b486c"/>
<rect x="723.6" y="540.4" width="40.0" height="37.9" fill="#86345c"/>
<rect x="763.0" y="540.4" width="40.0" height="37.9" fill="#86345c"/>
<rect x="802.3" y="540.4" width="40.0" height="37.9" fill="#86345c"/>
<rect x="133.3" y="577.6" width="40.0" height="37.9" fill="#9b486c"/>
<rect x="172.7" y="577.6" width="40.0" height="37.9" fill="#9b486c"/>
<rect x="212.0" y="577.6" width="40.0" height="37.9" fill="#9b486c"/>
<rect x="251.4" y="577.6" width="40.0" height="37.9" fill="#9b486c"/>
<rect x="290.8" y="577.6" width="40.0" height="37.9" fill="#9b486c"/>
<rect x="330.1" y="577.6" width="40.0" height="37.9" fill="#ae5e7f"/>
<rect x="369.4" y="577.6" width="40.0" height="37.9" fill="#ae5e7f"/>
<rect x="408.8" y="577.6" width="40.0" height="37.9" fill="#ae5e7f"/>
<rect x="448.1" y="577.6" width="40.0" height="37.9" fill="#ae5e7f"/>
<rect x="487.5" y="577.6" width="40.0" height="37.9" fill="#ae5e7f"/>
<rect x="526.9" y="577.6" width="40.0" height="37.9" fill="#ae5e7f"/>
<rect x="566.2" y="577.6" width="40.0" height="37.9" fill="#9b486c"/>
<rect x="605.5" y="577.6" width="40.0" height="37.9" fill="#9b486c"/>
<rect x="644.9" y="577.6" width="40.0" height="37.9" fill="#9b486c"/>
<rect x="684.2" y="577.6" width="40.0" height="37.9" fill="#86345c"/>
<rect x="723.6" y="577.6" width="40.0" height="37.9" fill="#86345c"/>
<rect x="763.0" y="577.6" width="40.0" height="37.9" fill="#86345c"/>
<rect x="802.3" y="577.6" width="40.0" height="37.9" fill="#86345c"/>
<rect x="133.3" y="614.9" width="40.0" height="37.9" fill="#9b486c"/>
<rect x="172.7" y="614.9" width="40.0" height="37.9" fill="#9b486c"/>
<rect x="212.0" y="614.9" width="40.0" height="37.9" fill="#9b486c"/>
<rect x="251.4" y="614.9" width="40.0" height="37.9" fill="#9b486c"/>
<rect x="290.8" y="614.9" width="40.0" height="37.9" fill="#9b486c"/>
<rect x="330.1" y="614.9" width="40.0" height="37.9" fill="#9b486c"/>
<rect x="369.4" y="614.9" width="40.0" height="37.9" fill="#ae5e7f"/>
<rect x="408.8" y="614.9" width="40.0" height="37.9" fill="#ae5e7f"/>
<rect x="448.1" y="614.9" width="40.0" height="37.9" fill="#9b486c"/>
<rect x="487.5" y="614.9" width="40.0" height="37.9" fill="#9b486c"/>
<rect x="526.9" y="614.9" width="40.0" height="37.9" fill="#9b486c"/>
<rect x="566.2" y="614.9" width="40.0" height="37.9" fill="#9b486c"/>
<rect x="605.5" y="614.9" width="40.0" height="37.9" fill="#9b486c"/>
<rect x="644.9" y="614.9" width="40.0" height="37.9" fill="#86345c"/>
<rect x="684.2" y="614.9" width="40.0" height="37.9" fill="#86345c"/>
<rect x="723.6" y="614.9" width="40.0" height="37.9" fill="#86345c"/>
<rect x="763.0" y="614.9" width="40.0" height="37.9" fill="#72224c"/>
<rect x="802.3" y="614.9" width="40.0" height="37.9" fill="#72224c"/>
<rect x="133.3" y="652.2" width="40.0" height="37.9" fill="#9b486c"/>
<rect x="172.7" y="652.2" width="40.0" height="37.9" fill="#9b486c"/>
<rect x="212.0" y="652.2" width="40.0" height="37.9" fill="#9b486c"/>
<rect x="251.4" y="652.2" width="40.0" height="37.9" fill="#9b486c"/>
<rect x="290.8" y="652.2" width="40.0" height="37.9" fill="#9b486c"/>
<rect x="330.1" y="652.2" width="40.0" height="37.9" fill="#9b486c"/>
<rect x="369.4" y="652.2" width="40.0" height="37.9" fill="#9b486c"/>
<rect x="408.8" y="652.2" width="40.0" height="37.9" fill="#9b486c"/>
<rect x="448.1" y="652.2" width="40.0" height="37.9" fill="#9b486c"/>
<rect x="487.5" y="652.2" width="40.0" height="37.9" fill="#9b486c"/>
<rect x="526.9" y="652.2" width="40.0" height="37.9" fill="#9b486c"/>
<rect x="566.2" y="652.2" width="40.0" height="37.9" fill="#9b486c"/>
<rect x="605.5" y="652.2" width="40.0" height="37.9" fill="#86345c"/>
<rect x="644.9" y="652.2" width="40.0" height="37.9" fill="#86345c"/>
<rect x="684.2" y="652.2" width="40.0" height="37.9" fill="#86345c"/>
<rect x="723.6" y="652.2" width="40.0" height="37.9" fill="#72224c"/>
<rect x="763.0" y="652.2" width="40.0" height="37.9" fill="#72224c"/>
<rect x="802.3" y="652.2" width="40.0" height="37.9" fill="#72224c"/>
<rect x="133.3" y="689.5" width="40.0" height="37.9" fill="#9b486c"/>
<rect x="172.7" y="689.5" width="40.0" height="37.9" fill="#9b486c"/>
<rect x="212.0" y="689.5" width="40.0" height="37.9" fill="#9b486c"/>
<rect x="251.4" y="689.5" width="40.0" height="37.9" fill="#9b486c"/>
<rect x="290.8" y="689.5" width="40.0" height="37.9" fill="#9b486c"/>
<rect x="330.1" y="689.5" width="40.0" height="37.9" fill="#9b486c"/>
<rect x="369.4" y="689.5" width="40.0" height="37.9" fill="#9b486c"/>
<rect x="408.8" y="689.5" width="40.0" height="37.9" fill="#9b486c"/>
<rect x="448.1" y="689.5" width="40.0" height="37.9" fill="#9b486c"/>
<rect x="487.5" y="689.5" width="40.0" height="37.9" fill="#9b486c"/>
<rect x="526.9" y="689.5" width="40.0" height="37.9" fill="#9b486c"/>
<rect x="566.2" y="689.5" width="40.0" height="37.9" fill="#86345c"/>
<rect x="605.5" y="689.5" width="40.0" height="37.9" fill="#86345c"/>
<rect x="644.9" y="689.5" width="40.0" height="37.9" fill="#86345c"/>
<rect x="684.2" y="689.5" width="40.0" height="37.9" fill="#72224c"/>
<rect x="723.6" y="689.5" width="40.0" height="37.9" fill="#72224c"/>
<rect x="763.0" y="689.5" width="40.0" height="37.9" fill="#72224c"/>
<rect x="802.3" y="689.5" width="40.0" height="37.9" fill="#72224c"/>
<rect x="133.3" y="726.8" width="40.0" height="37.9" fill="#9b486c"/>
<rect x="172.7" y="726.8" width="40.0" height="37.9" fill="#9b486c"/>
<rect x="212.0" y="726.8" width="40.0" height="37.9" fill="#9b486c"/>
<rect x="251.4" y="726.8" width="40.0" height="37.9" fill="#9b486c"/>
<rect x="290.8" y="726.8" width="40.0" height="37.9" fill="#9b486c"/>
<rect x="330.1" y="726.8" width="40.0" height="37.9" fill="#9b486c"/>
<rect x="369.4" y="726.8" width="40.0" height="37.9" fill="#9b486c"/>
<rect x="408.8" y="726.8" width="40.0" height="37.9" fill="#9b486c"/>
<rect x="448.1" y="726.8" width="40.0" height="37.9" fill="#9b486c"/>
<rect x="487.5" y="726.8" width="40.0" height="37.9" fill="#9b486c"/>
<rect x="526.9" y="726.8" width="40.0" height="37.9" fill="#9b486c"/>
<rect x="566.2" y="726.8" width="40.0" height="37.9" fill="#86345c"/>
<rect x="605.5" y="726.8" width="40.0" height="37.9" fill="#86345c"/>
<rect x="644.9" y="726.8" width="40.0" height="37.9" fill="#86345c"/>
<rect x="684.2" y="726.8" width="40.0" height="37.9" fill="#72224c"/>
<rect x="723.6" y="726.8" width="40.0" height="37.9" fill="#72224c"/>
<rect x="763.0" y="726.8" width="40.0" height="37.9" fill="#72224c"/>
<rect x="802.3" y="726.8" width="40.0" height="37.9" fill="#72224c"/>
</g>
<ellipse cx="609" cy="522" rx="9" ry="17" fill="none" stroke="#f0d8e0" stroke-width="6" opacity="0.35" filter="url(#lblur)"/>
<path d="M 600 462 C 540 420, 470 360, 400 300" fill="none" stroke="#f6e6ea" stroke-width="11.7" stroke-linecap="round" opacity="0.24" filter="url(#lblur)"/>
<path d="M 600 462 C 550 430, 500 380, 450 300" fill="none" stroke="#f6e6ea" stroke-width="10.4" stroke-linecap="round" opacity="0.22" filter="url(#lblur)"/>
<path d="M 600 462 C 560 420, 540 360, 515 300" fill="none" stroke="#f6e6ea" stroke-width="10.4" stroke-linecap="round" opacity="0.20" filter="url(#lblur)"/>
<path d="M 600 462 C 575 420, 570 370, 560 310" fill="none" stroke="#f6e6ea" stroke-width="9.1" stroke-linecap="round" opacity="0.18" filter="url(#lblur)"/>
<path d="M 600 462 C 530 440, 450 420, 380 400" fill="none" stroke="#f6e6ea" stroke-width="11.7" stroke-linecap="round" opacity="0.24" filter="url(#lblur)"/>
<path d="M 600 465 C 520 450, 430 470, 390 440" fill="none" stroke="#f6e6ea" stroke-width="10.4" stroke-linecap="round" opacity="0.20" filter="url(#lblur)"/>
<path d="M 330 470 C 320 390, 350 320, 430 300" fill="none" stroke="#f6e6ea" stroke-width="13.0" stroke-linecap="round" opacity="0.24" filter="url(#lblur)"/>
<path d="M 350 500 C 340 430, 360 360, 420 340" fill="none" stroke="#f6e6ea" stroke-width="10.4" stroke-linecap="round" opacity="0.20" filter="url(#lblur)"/>
<path d="M 430 505 C 470 495, 520 485, 560 478" fill="none" stroke="#f6e6ea" stroke-width="18.2" stroke-linecap="round" opacity="0.44" filter="url(#lblur)"/>
<path d="M 440 515 C 480 520, 520 500, 545 488" fill="none" stroke="#f6e6ea" stroke-width="13.0" stroke-linecap="round" opacity="0.28" filter="url(#lblur)"/>
<path d="M 395 398 C 410 395, 425 395, 440 400" fill="none" stroke="#f6e6ea" stroke-width="10.4" stroke-linecap="round" opacity="0.40" filter="url(#lblur)"/>
<path d="M 665 360 C 700 330, 730 300, 760 265" fill="none" stroke="#f6e6ea" stroke-width="10.4" stroke-linecap="round" opacity="0.20" filter="url(#lblur)"/>
<path d="M 300 440 C 290 380, 300 320, 340 270" fill="none" stroke="#f6e6ea" stroke-width="9.1" stroke-linecap="round" opacity="0.14" filter="url(#lblur)"/>
<path d="M 280 520 C 250 470, 250 400, 290 330" fill="none" stroke="#f6e6ea" stroke-width="9.1" stroke-linecap="round" opacity="0.12" filter="url(#lblur)"/>
<path d="M 190 420 C 230 410, 270 410, 300 420" fill="none" stroke="#f6e6ea" stroke-width="10.4" stroke-linecap="round" opacity="0.12" filter="url(#lblur)"/>
<rect x="172.7" y="130.2" width="629.6" height="596.6" filter="url(#grainw)" opacity="0.22"/>
<rect x="172.7" y="130.2" width="629.6" height="596.6" filter="url(#graind)" opacity="0.22"/>
</g></g>
<line x1="282.9" y1="128.2" x2="282.9" y2="728.8" stroke="#ffffff" stroke-width="1.8" stroke-dasharray="2 3" opacity="0.45"/>
<line x1="432.4" y1="128.2" x2="432.4" y2="728.8" stroke="#ffffff" stroke-width="1.8" stroke-dasharray="2 3" opacity="0.45"/>
<line x1="581.9" y1="128.2" x2="581.9" y2="728.8" stroke="#ffffff" stroke-width="1.8" stroke-dasharray="2 3" opacity="0.45"/>
<line x1="731.4" y1="128.2" x2="731.4" y2="728.8" stroke="#ffffff" stroke-width="1.8" stroke-dasharray="2 3" opacity="0.45"/>
<line x1="170.7" y1="247.3" x2="804.3" y2="247.3" stroke="#ffffff" stroke-width="1.8" stroke-dasharray="2 3" opacity="0.45"/>
<line x1="170.7" y1="397.2" x2="804.3" y2="397.2" stroke="#ffffff" stroke-width="1.8" stroke-dasharray="2 3" opacity="0.45"/>
<line x1="170.7" y1="547.1" x2="804.3" y2="547.1" stroke="#ffffff" stroke-width="1.8" stroke-dasharray="2 3" opacity="0.45"/>
<line x1="170.7" y1="697.0" x2="804.3" y2="697.0" stroke="#ffffff" stroke-width="1.8" stroke-dasharray="2 3" opacity="0.45"/>
<rect x="321.2" y="278.9" width="333.9" height="299.6" fill="none" stroke="#ffffff" stroke-width="11"/>
<rect x="354.4" y="384.2" width="30" height="30" fill="none" stroke="#f28b5b" stroke-width="11"/>
<rect x="375.0" y="469.0" width="30" height="30" fill="none" stroke="#0bb47f" stroke-width="11"/>
<rect x="589.3" y="450.0" width="30" height="30" fill="none" stroke="#308ac0" stroke-width="11"/>
<rect x="170.7" y="128.2" width="633.6" height="600.6" fill="none" stroke="#262a2c" stroke-width="4.4"/>
<line x1="282.9" y1="126.2" x2="282.9" y2="107.2" stroke="#1c1c1c" stroke-width="4.3"/>
<line x1="282.9" y1="730.8" x2="282.9" y2="749.8" stroke="#1c1c1c" stroke-width="4.3"/>
<line x1="432.4" y1="126.2" x2="432.4" y2="107.2" stroke="#1c1c1c" stroke-width="4.3"/>
<line x1="432.4" y1="730.8" x2="432.4" y2="749.8" stroke="#1c1c1c" stroke-width="4.3"/>
<line x1="581.9" y1="126.2" x2="581.9" y2="107.2" stroke="#1c1c1c" stroke-width="4.3"/>
<line x1="581.9" y1="730.8" x2="581.9" y2="749.8" stroke="#1c1c1c" stroke-width="4.3"/>
<line x1="731.4" y1="126.2" x2="731.4" y2="107.2" stroke="#1c1c1c" stroke-width="4.3"/>
<line x1="731.4" y1="730.8" x2="731.4" y2="749.8" stroke="#1c1c1c" stroke-width="4.3"/>
<line x1="168.7" y1="247.3" x2="149.7" y2="247.3" stroke="#1c1c1c" stroke-width="4.3"/>
<line x1="806.3" y1="247.3" x2="825.3" y2="247.3" stroke="#1c1c1c" stroke-width="4.3"/>
<line x1="168.7" y1="397.2" x2="149.7" y2="397.2" stroke="#1c1c1c" stroke-width="4.3"/>
<line x1="806.3" y1="397.2" x2="825.3" y2="397.2" stroke="#1c1c1c" stroke-width="4.3"/>
<line x1="168.7" y1="547.1" x2="149.7" y2="547.1" stroke="#1c1c1c" stroke-width="4.3"/>
<line x1="806.3" y1="547.1" x2="825.3" y2="547.1" stroke="#1c1c1c" stroke-width="4.3"/>
<line x1="168.7" y1="697.0" x2="149.7" y2="697.0" stroke="#1c1c1c" stroke-width="4.3"/>
<line x1="806.3" y1="697.0" x2="825.3" y2="697.0" stroke="#1c1c1c" stroke-width="4.3"/>
<text x="282.9" y="790.3" font-size="38.4" text-anchor="middle">-450"</text>
<text x="432.4" y="790.3" font-size="38.4" text-anchor="middle">-400"</text>
<text x="581.9" y="790.3" font-size="38.4" text-anchor="middle">-350"</text>
<text x="731.4" y="790.3" font-size="38.4" text-anchor="middle">-300"</text>
<text x="487.5" y="850.0" font-size="42.2" text-anchor="middle">Solar X (arcsec)</text>
<text x="487.5" y="102.2" font-size="42.2" text-anchor="middle">a) AIA 211<tspan font-style="italic">Å</tspan></text>
<g id="img1"><clipPath id="pclip1"><rect x="837.9" y="130.2" width="629.6" height="596.6"/></clipPath>
<g clip-path="url(#pclip1)">
<rect x="837.9" y="130.2" width="629.6" height="596.6" fill="#8b8d8f"/>
<g filter="url(#rough)">
<ellipse cx="998.0" cy="322.0" rx="5.1" ry="5.1" fill="#0c0c0e"/>
<ellipse cx="1003.0" cy="354.0" rx="9.3" ry="20.4" fill="#0c0c0e"/>
<ellipse cx="1003.0" cy="397.5" rx="7.6" ry="23.4" fill="#0c0c0e"/>
<ellipse cx="1009.5" cy="410.5" rx="8.1" ry="13.2" fill="#0c0c0e"/>
<ellipse cx="1034.0" cy="399.5" rx="8.5" ry="8.1" fill="#0c0c0e"/>
<ellipse cx="1063.0" cy="310.0" rx="4.2" ry="3.4" fill="#0c0c0e"/>
<ellipse cx="1063.0" cy="363.0" rx="2.5" ry="2.5" fill="#0c0c0e"/>
<ellipse cx="1060.0" cy="379.0" rx="3.4" ry="2.5" fill="#0c0c0e"/>
<ellipse cx="1019.0" cy="445.0" rx="9.3" ry="6.8" fill="#0c0c0e"/>
<ellipse cx="1020.0" cy="423.0" rx="3.4" ry="3.4" fill="#0c0c0e"/>
<ellipse cx="1037.0" cy="463.0" rx="2.5" ry="1.7" fill="#0c0c0e"/>
<ellipse cx="1088.0" cy="507.5" rx="10.2" ry="10.6" fill="#0c0c0e"/>
<ellipse cx="1101.5" cy="510.0" rx="11.5" ry="9.3" fill="#0c0c0e"/>
<ellipse cx="1116.5" cy="502.5" rx="14.0" ry="8.1" fill="#0c0c0e"/>
<ellipse cx="1072.0" cy="522.0" rx="10.2" ry="4.2" fill="#0c0c0e"/>
<ellipse cx="1125.0" cy="442.0" rx="5.1" ry="2.5" fill="#0c0c0e"/>
<ellipse cx="1129.0" cy="500.0" rx="3.4" ry="2.5" fill="#0c0c0e"/>
<ellipse cx="1205.0" cy="504.0" rx="5.1" ry="4.2" fill="#0c0c0e"/>
<ellipse cx="1258.5" cy="429.5" rx="6.4" ry="8.9" fill="#0c0c0e"/>
<ellipse cx="1265.5" cy="435.0" rx="6.4" ry="8.5" fill="#0c0c0e"/>
<ellipse cx="1237.0" cy="457.0" rx="3.4" ry="3.4" fill="#0c0c0e"/>
<ellipse cx="1227.0" cy="389.0" rx="8.5" ry="2.5" fill="#0c0c0e"/>
<ellipse cx="1292.0" cy="515.0" rx="2.5" ry="3.4" fill="#0c0c0e"/>
<ellipse cx="1273.0" cy="531.0" rx="6.8" ry="3.4" fill="#0c0c0e"/>
<ellipse cx="853.0" cy="451.0" rx="7.6" ry="9.3" fill="#0c0c0e"/>
<ellipse cx="870.0" cy="447.0" rx="8.5" ry="4.2" fill="#0c0c0e"/>
<ellipse cx="888.0" cy="444.0" rx="8.5" ry="5.1" fill="#0c0c0e"/>
<ellipse cx="899.0" cy="427.5" rx="4.2" ry="4.7" fill="#0c0c0e"/>
<ellipse cx="906.0" cy="476.0" rx="7.6" ry="6.0" fill="#0c0c0e"/>
<ellipse cx="911.5" cy="507.0" rx="6.4" ry="5.1" fill="#0c0c0e"/>
<ellipse cx="906.0" cy="491.0" rx="3.4" ry="7.6" fill="#0c0c0e"/>
<ellipse cx="933.0" cy="379.5" rx="6.0" ry="8.9" fill="#0c0c0e"/>
<ellipse cx="965.0" cy="344.0" rx="11.9" ry="11.9" fill="#0c0c0e"/>
<ellipse cx="968.5" cy="362.0" rx="5.5" ry="8.5" fill="#0c0c0e"/>
<ellipse cx="958.5" cy="471.5" rx="6.4" ry="9.8" fill="#0c0c0e"/>
<ellipse cx="965.0" cy="455.0" rx="6.0" ry="8.5" fill="#0c0c0e"/>
<ellipse cx="972.0" cy="444.5" rx="6.0" ry="6.4" fill="#0c0c0e"/>
<ellipse cx="1352.0" cy="306.0" rx="6.8" ry="5.1" fill="#0c0c0e"/>
<ellipse cx="1379.0" cy="303.5" rx="9.3" ry="5.5" fill="#0c0c0e"/>
<ellipse cx="1408.0" cy="158.5" rx="3.4" ry="3.0" fill="#0c0c0e"/>
<ellipse cx="1072.0" cy="391.0" rx="4.2" ry="3.5" fill="#f4f4f4" opacity="0.9"/>
<ellipse cx="1081.0" cy="395.0" rx="4.9" ry="3.5" fill="#f4f4f4" opacity="0.9"/>
<ellipse cx="1100.5" cy="428.0" rx="5.9" ry="4.9" fill="#f4f4f4" opacity="0.9"/>
<ellipse cx="1086.0" cy="445.0" rx="4.2" ry="5.6" fill="#f4f4f4" opacity="0.9"/>
<ellipse cx="1136.0" cy="384.0" rx="2.1" ry="2.8" fill="#f4f4f4" opacity="0.9"/>
<ellipse cx="1145.5" cy="397.0" rx="3.1" ry="4.9" fill="#f4f4f4" opacity="0.9"/>
<ellipse cx="1150.5" cy="409.5" rx="3.1" ry="5.2" fill="#f4f4f4" opacity="0.9"/>
<ellipse cx="1149.0" cy="430.0" rx="8.4" ry="3.5" fill="#f4f4f4" opacity="0.9"/>
<ellipse cx="1167.0" cy="444.0" rx="4.2" ry="4.9" fill="#f4f4f4" opacity="0.9"/>
<ellipse cx="1188.5" cy="390.0" rx="5.2" ry="3.5" fill="#f4f4f4" opacity="0.9"/>
<ellipse cx="1205.0" cy="383.0" rx="7.0" ry="3.5" fill="#f4f4f4" opacity="0.9"/>
<ellipse cx="1226.5" cy="381.0" rx="10.1" ry="3.5" fill="#f4f4f4" opacity="0.9"/>
<ellipse cx="1228.0" cy="408.5" rx="6.3" ry="5.9" fill="#f4f4f4" opacity="0.9"/>
<ellipse cx="1218.0" cy="439.0" rx="7.7" ry="4.2" fill="#f4f4f4" opacity="0.9"/>
<ellipse cx="1203.0" cy="475.0" rx="2.8" ry="2.8" fill="#f4f4f4" opacity="0.9"/>
<ellipse cx="1165.0" cy="479.0" rx="5.6" ry="4.2" fill="#f4f4f4" opacity="0.9"/>
<ellipse cx="1155.0" cy="497.0" rx="7.0" ry="5.6" fill="#f4f4f4" opacity="0.9"/>
<ellipse cx="1175.5" cy="506.0" rx="10.8" ry="7.7" fill="#f4f4f4" opacity="0.9"/>
<ellipse cx="1177.5" cy="510.5" rx="5.2" ry="3.8" fill="#f4f4f4" opacity="0.9"/>
<ellipse cx="1233.0" cy="457.5" rx="8.4" ry="8.8" fill="#f4f4f4" opacity="0.9"/>
<ellipse cx="1271.5" cy="466.0" rx="23.4" ry="20.3" fill="#f4f4f4" opacity="0.9"/>
<ellipse cx="1270.0" cy="491.5" rx="14.0" ry="8.0" fill="#f4f4f4" opacity="0.9"/>
<ellipse cx="1240.0" cy="480.0" rx="7.0" ry="7.0" fill="#f4f4f4" opacity="0.9"/>
<ellipse cx="1287.0" cy="415.0" rx="9.8" ry="4.2" fill="#f4f4f4" opacity="0.9"/>
<ellipse cx="1305.0" cy="398.0" rx="5.6" ry="2.8" fill="#f4f4f4" opacity="0.9"/>
<ellipse cx="1332.0" cy="385.0" rx="1.4" ry="2.1" fill="#f4f4f4" opacity="0.9"/>
<ellipse cx="1180.0" cy="296.0" rx="2.1" ry="2.8" fill="#f4f4f4" opacity="0.9"/>
<ellipse cx="1296.0" cy="530.0" rx="3.5" ry="2.1" fill="#f4f4f4" opacity="0.9"/>
<ellipse cx="1298.0" cy="544.0" rx="2.1" ry="2.1" fill="#f4f4f4" opacity="0.9"/>
<ellipse cx="1190.5" cy="242.0" rx="2.4" ry="3.5" fill="#f4f4f4" opacity="0.9"/>
<ellipse cx="1152.5" cy="604.5" rx="3.8" ry="2.4" fill="#f4f4f4" opacity="0.9"/>
<ellipse cx="1384.5" cy="442.0" rx="3.8" ry="3.5" fill="#f4f4f4" opacity="0.9"/>
<ellipse cx="1406.5" cy="452.5" rx="3.8" ry="3.8" fill="#f4f4f4" opacity="0.9"/>
<ellipse cx="1457.5" cy="343.0" rx="2.4" ry="2.1" fill="#f4f4f4" opacity="0.9"/>
<ellipse cx="1418.5" cy="329.5" rx="2.4" ry="2.4" fill="#f4f4f4" opacity="0.9"/>
<ellipse cx="1205.0" cy="415.0" rx="3.5" ry="3.5" fill="#f4f4f4" opacity="0.9"/>
<ellipse cx="1130.0" cy="464.0" rx="3.5" ry="2.8" fill="#f4f4f4" opacity="0.9"/>
<ellipse cx="1185.0" cy="458.5" rx="3.5" ry="2.4" fill="#f4f4f4" opacity="0.9"/>
</g>
<rect x="837.9" y="130.2" width="629.6" height="596.6" filter="url(#grainw)" opacity="0.2"/>
<rect x="837.9" y="130.2" width="629.6" height="596.6" filter="url(#graind)" opacity="0.2"/>
</g></g>
<line x1="948.1" y1="128.2" x2="948.1" y2="728.8" stroke="#ffffff" stroke-width="1.8" stroke-dasharray="2 3" opacity="0.45"/>
<line x1="1097.6" y1="128.2" x2="1097.6" y2="728.8" stroke="#ffffff" stroke-width="1.8" stroke-dasharray="2 3" opacity="0.45"/>
<line x1="1247.1" y1="128.2" x2="1247.1" y2="728.8" stroke="#ffffff" stroke-width="1.8" stroke-dasharray="2 3" opacity="0.45"/>
<line x1="1396.6" y1="128.2" x2="1396.6" y2="728.8" stroke="#ffffff" stroke-width="1.8" stroke-dasharray="2 3" opacity="0.45"/>
<line x1="835.9" y1="247.3" x2="1469.5" y2="247.3" stroke="#ffffff" stroke-width="1.8" stroke-dasharray="2 3" opacity="0.45"/>
<line x1="835.9" y1="397.2" x2="1469.5" y2="397.2" stroke="#ffffff" stroke-width="1.8" stroke-dasharray="2 3" opacity="0.45"/>
<line x1="835.9" y1="547.1" x2="1469.5" y2="547.1" stroke="#ffffff" stroke-width="1.8" stroke-dasharray="2 3" opacity="0.45"/>
<line x1="835.9" y1="697.0" x2="1469.5" y2="697.0" stroke="#ffffff" stroke-width="1.8" stroke-dasharray="2 3" opacity="0.45"/>
<rect x="986.4" y="278.9" width="333.9" height="299.6" fill="none" stroke="#ffffff" stroke-width="11"/>
<rect x="1019.6" y="384.2" width="30" height="30" fill="none" stroke="#f28b5b" stroke-width="11"/>
<rect x="1040.2" y="469.0" width="30" height="30" fill="none" stroke="#0bb47f" stroke-width="11"/>
<rect x="1254.5" y="450.0" width="30" height="30" fill="none" stroke="#308ac0" stroke-width="11"/>
<rect x="835.9" y="128.2" width="633.6" height="600.6" fill="none" stroke="#262a2c" stroke-width="4.4"/>
<line x1="948.1" y1="126.2" x2="948.1" y2="107.2" stroke="#1c1c1c" stroke-width="4.3"/>
<line x1="948.1" y1="730.8" x2="948.1" y2="749.8" stroke="#1c1c1c" stroke-width="4.3"/>
<line x1="1097.6" y1="126.2" x2="1097.6" y2="107.2" stroke="#1c1c1c" stroke-width="4.3"/>
<line x1="1097.6" y1="730.8" x2="1097.6" y2="749.8" stroke="#1c1c1c" stroke-width="4.3"/>
<line x1="1247.1" y1="126.2" x2="1247.1" y2="107.2" stroke="#1c1c1c" stroke-width="4.3"/>
<line x1="1247.1" y1="730.8" x2="1247.1" y2="749.8" stroke="#1c1c1c" stroke-width="4.3"/>
<line x1="1396.6" y1="126.2" x2="1396.6" y2="107.2" stroke="#1c1c1c" stroke-width="4.3"/>
<line x1="1396.6" y1="730.8" x2="1396.6" y2="749.8" stroke="#1c1c1c" stroke-width="4.3"/>
<line x1="833.9" y1="247.3" x2="814.9" y2="247.3" stroke="#1c1c1c" stroke-width="4.3"/>
<line x1="1471.5" y1="247.3" x2="1490.5" y2="247.3" stroke="#1c1c1c" stroke-width="4.3"/>
<line x1="833.9" y1="397.2" x2="814.9" y2="397.2" stroke="#1c1c1c" stroke-width="4.3"/>
<line x1="1471.5" y1="397.2" x2="1490.5" y2="397.2" stroke="#1c1c1c" stroke-width="4.3"/>
<line x1="833.9" y1="547.1" x2="814.9" y2="547.1" stroke="#1c1c1c" stroke-width="4.3"/>
<line x1="1471.5" y1="547.1" x2="1490.5" y2="547.1" stroke="#1c1c1c" stroke-width="4.3"/>
<line x1="833.9" y1="697.0" x2="814.9" y2="697.0" stroke="#1c1c1c" stroke-width="4.3"/>
<line x1="1471.5" y1="697.0" x2="1490.5" y2="697.0" stroke="#1c1c1c" stroke-width="4.3"/>
<text x="948.1" y="790.3" font-size="38.4" text-anchor="middle">-450"</text>
<text x="1097.6" y="790.3" font-size="38.4" text-anchor="middle">-400"</text>
<text x="1247.1" y="790.3" font-size="38.4" text-anchor="middle">-350"</text>
<text x="1396.6" y="790.3" font-size="38.4" text-anchor="middle">-300"</text>
<text x="1152.7" y="850.0" font-size="42.2" text-anchor="middle">Solar X (arcsec)</text>
<text x="1149.7" y="104.2" font-size="42.2" text-anchor="middle">b) HMI B-field, <tspan font-family="DejaVu Sans" font-size="40">±</tspan>200G</text>
<g id="img2"><clipPath id="pclip2"><rect x="1503.2" y="130.2" width="629.6" height="596.6"/></clipPath>
<g clip-path="url(#pclip2)">
<rect x="1503.2" y="130.2" width="629.6" height="596.6" fill="url(#cgrad)"/>
<ellipse cx="1932.0" cy="469.5" rx="9.0" ry="4.5" fill="#141408" filter="url(#bblur)"/>
<ellipse cx="1958.5" cy="452.5" rx="3.5" ry="5.5" fill="#141408" filter="url(#bblur)"/>
<ellipse cx="1945.0" cy="439.0" rx="2.0" ry="2.0" fill="#141408" filter="url(#bblur)"/>
<ellipse cx="1665.5" cy="395.0" rx="1.5" ry="3.0" fill="#141408" filter="url(#bblur)"/>
<rect x="1503.2" y="130.2" width="629.6" height="596.6" filter="url(#grainc)" opacity="0.35"/>
<rect x="1503.2" y="130.2" width="629.6" height="596.6" filter="url(#graincw)" opacity="0.25"/>
</g></g>
<line x1="1613.4" y1="128.2" x2="1613.4" y2="728.8" stroke="#ffffff" stroke-width="1.8" stroke-dasharray="2 3" opacity="0.45"/>
<line x1="1762.9" y1="128.2" x2="1762.9" y2="728.8" stroke="#ffffff" stroke-width="1.8" stroke-dasharray="2 3" opacity="0.45"/>
<line x1="1912.4" y1="128.2" x2="1912.4" y2="728.8" stroke="#ffffff" stroke-width="1.8" stroke-dasharray="2 3" opacity="0.45"/>
<line x1="2061.9" y1="128.2" x2="2061.9" y2="728.8" stroke="#ffffff" stroke-width="1.8" stroke-dasharray="2 3" opacity="0.45"/>
<line x1="1501.2" y1="247.3" x2="2134.8" y2="247.3" stroke="#ffffff" stroke-width="1.8" stroke-dasharray="2 3" opacity="0.45"/>
<line x1="1501.2" y1="397.2" x2="2134.8" y2="397.2" stroke="#ffffff" stroke-width="1.8" stroke-dasharray="2 3" opacity="0.45"/>
<line x1="1501.2" y1="547.1" x2="2134.8" y2="547.1" stroke="#ffffff" stroke-width="1.8" stroke-dasharray="2 3" opacity="0.45"/>
<line x1="1501.2" y1="697.0" x2="2134.8" y2="697.0" stroke="#ffffff" stroke-width="1.8" stroke-dasharray="2 3" opacity="0.45"/>
<rect x="1651.7" y="278.9" width="333.9" height="299.6" fill="none" stroke="#ffffff" stroke-width="11"/>
<rect x="1684.9" y="384.2" width="30" height="30" fill="none" stroke="#f28b5b" stroke-width="11"/>
<rect x="1705.5" y="469.0" width="30" height="30" fill="none" stroke="#0bb47f" stroke-width="11"/>
<rect x="1919.8" y="450.0" width="30" height="30" fill="none" stroke="#308ac0" stroke-width="11"/>
<rect x="1501.2" y="128.2" width="633.6" height="600.6" fill="none" stroke="#262a2c" stroke-width="4.4"/>
<line x1="1613.4" y1="126.2" x2="1613.4" y2="107.2" stroke="#1c1c1c" stroke-width="4.3"/>
<line x1="1613.4" y1="730.8" x2="1613.4" y2="749.8" stroke="#1c1c1c" stroke-width="4.3"/>
<line x1="1762.9" y1="126.2" x2="1762.9" y2="107.2" stroke="#1c1c1c" stroke-width="4.3"/>
<line x1="1762.9" y1="730.8" x2="1762.9" y2="749.8" stroke="#1c1c1c" stroke-width="4.3"/>
<line x1="1912.4" y1="126.2" x2="1912.4" y2="107.2" stroke="#1c1c1c" stroke-width="4.3"/>
<line x1="1912.4" y1="730.8" x2="1912.4" y2="749.8" stroke="#1c1c1c" stroke-width="4.3"/>
<line x1="2061.9" y1="126.2" x2="2061.9" y2="107.2" stroke="#1c1c1c" stroke-width="4.3"/>
<line x1="2061.9" y1="730.8" x2="2061.9" y2="749.8" stroke="#1c1c1c" stroke-width="4.3"/>
<line x1="1499.2" y1="247.3" x2="1480.2" y2="247.3" stroke="#1c1c1c" stroke-width="4.3"/>
<line x1="2136.8" y1="247.3" x2="2155.8" y2="247.3" stroke="#1c1c1c" stroke-width="4.3"/>
<line x1="1499.2" y1="397.2" x2="1480.2" y2="397.2" stroke="#1c1c1c" stroke-width="4.3"/>
<line x1="2136.8" y1="397.2" x2="2155.8" y2="397.2" stroke="#1c1c1c" stroke-width="4.3"/>
<line x1="1499.2" y1="547.1" x2="1480.2" y2="547.1" stroke="#1c1c1c" stroke-width="4.3"/>
<line x1="2136.8" y1="547.1" x2="2155.8" y2="547.1" stroke="#1c1c1c" stroke-width="4.3"/>
<line x1="1499.2" y1="697.0" x2="1480.2" y2="697.0" stroke="#1c1c1c" stroke-width="4.3"/>
<line x1="2136.8" y1="697.0" x2="2155.8" y2="697.0" stroke="#1c1c1c" stroke-width="4.3"/>
<text x="1613.4" y="790.3" font-size="38.4" text-anchor="middle">-450"</text>
<text x="1762.9" y="790.3" font-size="38.4" text-anchor="middle">-400"</text>
<text x="1912.4" y="790.3" font-size="38.4" text-anchor="middle">-350"</text>
<text x="2061.9" y="790.3" font-size="38.4" text-anchor="middle">-300"</text>
<text x="1818.0" y="850.0" font-size="42.2" text-anchor="middle">Solar X (arcsec)</text>
<text x="1818.0" y="102.2" font-size="42.2" text-anchor="middle">c) HMI Continuum</text>
<text x="139.5" y="257.1" font-size="38.4" text-anchor="end">600"</text>
<text x="139.5" y="407.0" font-size="38.4" text-anchor="end">550"</text>
<text x="139.5" y="556.9" font-size="38.4" text-anchor="end">500"</text>
<text x="139.5" y="706.8" font-size="38.4" text-anchor="end">450"</text>
<text x="31.0" y="425.5" font-size="42.2" text-anchor="middle" transform="rotate(-90 31.0 425.5)">Solar Y (Arcsec)</text>
<g id="map0"><clipPath id="mclip0"><rect x="233.9" y="1063.7" width="507.6" height="478.5"/></clipPath>
<g clip-path="url(#mclip0)">
<g filter="url(#mapf)">
<rect x="208.5" y="1039.8" width="26.0" height="24.5" fill="#787878"/>
<rect x="233.9" y="1039.8" width="26.0" height="24.5" fill="#787878"/>
<rect x="259.3" y="1039.8" width="26.0" height="24.5" fill="#595959"/>
<rect x="284.7" y="1039.8" width="26.0" height="24.5" fill="#424242"/>
<rect x="310.0" y="1039.8" width="26.0" height="24.5" fill="#919191"/>
<rect x="335.4" y="1039.8" width="26.0" height="24.5" fill="#919191"/>
<rect x="360.8" y="1039.8" width="26.0" height="24.5" fill="#000000"/>
<rect x="386.2" y="1039.8" width="26.0" height="24.5" fill="#000000"/>
<rect x="411.6" y="1039.8" width="26.0" height="24.5" fill="#000000"/>
<rect x="436.9" y="1039.8" width="26.0" height="24.5" fill="#000000"/>
<rect x="462.3" y="1039.8" width="26.0" height="24.5" fill="#000000"/>
<rect x="487.7" y="1039.8" width="26.0" height="24.5" fill="#787878"/>
<rect x="513.1" y="1039.8" width="26.0" height="24.5" fill="#919191"/>
<rect x="538.5" y="1039.8" width="26.0" height="24.5" fill="#000000"/>
<rect x="563.8" y="1039.8" width="26.0" height="24.5" fill="#000000"/>
<rect x="589.2" y="1039.8" width="26.0" height="24.5" fill="#000000"/>
<rect x="614.6" y="1039.8" width="26.0" height="24.5" fill="#000000"/>
<rect x="640.0" y="1039.8" width="26.0" height="24.5" fill="#000000"/>
<rect x="665.4" y="1039.8" width="26.0" height="24.5" fill="#000000"/>
<rect x="690.7" y="1039.8" width="26.0" height="24.5" fill="#000000"/>
<rect x="716.1" y="1039.8" width="26.0" height="24.5" fill="#000000"/>
<rect x="741.5" y="1039.8" width="26.0" height="24.5" fill="#000000"/>
<rect x="208.5" y="1063.7" width="26.0" height="24.5" fill="#787878"/>
<rect x="233.9" y="1063.7" width="26.0" height="24.5" fill="#787878"/>
<rect x="259.3" y="1063.7" width="26.0" height="24.5" fill="#595959"/>
<rect x="284.7" y="1063.7" width="26.0" height="24.5" fill="#424242"/>
<rect x="310.0" y="1063.7" width="26.0" height="24.5" fill="#919191"/>
<rect x="335.4" y="1063.7" width="26.0" height="24.5" fill="#919191"/>
<rect x="360.8" y="1063.7" width="26.0" height="24.5" fill="#000000"/>
<rect x="386.2" y="1063.7" width="26.0" height="24.5" fill="#000000"/>
<rect x="411.6" y="1063.7" width="26.0" height="24.5" fill="#000000"/>
<rect x="436.9" y="1063.7" width="26.0" height="24.5" fill="#000000"/>
<rect x="462.3" y="1063.7" width="26.0" height="24.5" fill="#000000"/>
<rect x="487.7" y="1063.7" width="26.0" height="24.5" fill="#787878"/>
<rect x="513.1" y="1063.7" width="26.0" height="24.5" fill="#919191"/>
<rect x="538.5" y="1063.7" width="26.0" height="24.5" fill="#000000"/>
<rect x="563.8" y="1063.7" width="26.0" height="24.5" fill="#000000"/>
<rect x="589.2" y="1063.7" width="26.0" height="24.5" fill="#000000"/>
<rect x="614.6" y="1063.7" width="26.0" height="24.5" fill="#000000"/>
<rect x="640.0" y="1063.7" width="26.0" height="24.5" fill="#000000"/>
<rect x="665.4" y="1063.7" width="26.0" height="24.5" fill="#000000"/>
<rect x="690.7" y="1063.7" width="26.0" height="24.5" fill="#000000"/>
<rect x="716.1" y="1063.7" width="26.0" height="24.5" fill="#000000"/>
<rect x="741.5" y="1063.7" width="26.0" height="24.5" fill="#000000"/>
<rect x="208.5" y="1087.6" width="26.0" height="24.5" fill="#787878"/>
<rect x="233.9" y="1087.6" width="26.0" height="24.5" fill="#787878"/>
<rect x="259.3" y="1087.6" width="26.0" height="24.5" fill="#919191"/>
<rect x="284.7" y="1087.6" width="26.0" height="24.5" fill="#424242"/>
<rect x="310.0" y="1087.6" width="26.0" height="24.5" fill="#c9c9c9"/>
<rect x="335.4" y="1087.6" width="26.0" height="24.5" fill="#c9c9c9"/>
<rect x="360.8" y="1087.6" width="26.0" height="24.5" fill="#787878"/>
<rect x="386.2" y="1087.6" width="26.0" height="24.5" fill="#000000"/>
<rect x="411.6" y="1087.6" width="26.0" height="24.5" fill="#000000"/>
<rect x="436.9" y="1087.6" width="26.0" height="24.5" fill="#000000"/>
<rect x="462.3" y="1087.6" width="26.0" height="24.5" fill="#000000"/>
<rect x="487.7" y="1087.6" width="26.0" height="24.5" fill="#787878"/>
<rect x="513.1" y="1087.6" width="26.0" height="24.5" fill="#787878"/>
<rect x="538.5" y="1087.6" width="26.0" height="24.5" fill="#000000"/>
<rect x="563.8" y="1087.6" width="26.0" height="24.5" fill="#000000"/>
<rect x="589.2" y="1087.6" width="26.0" height="24.5" fill="#000000"/>
<rect x="614.6" y="1087.6" width="26.0" height="24.5" fill="#1f1f1f"/>
<rect x="640.0" y="1087.6" width="26.0" height="24.5" fill="#1f1f1f"/>
<rect x="665.4" y="1087.6" width="26.0" height="24.5" fill="#000000"/>
<rect x="690.7" y="1087.6" width="26.0" height="24.5" fill="#000000"/>
<rect x="716.1" y="1087.6" width="26.0" height="24.5" fill="#000000"/>
<rect x="741.5" y="1087.6" width="26.0" height="24.5" fill="#000000"/>
<rect x="208.5" y="1111.5" width="26.0" height="24.5" fill="#919191"/>
<rect x="233.9" y="1111.5" width="26.0" height="24.5" fill="#919191"/>
<rect x="259.3" y="1111.5" width="26.0" height="24.5" fill="#919191"/>
<rect x="284.7" y="1111.5" width="26.0" height="24.5" fill="#424242"/>
<rect x="310.0" y="1111.5" width="26.0" height="24.5" fill="#424242"/>
<rect x="335.4" y="1111.5" width="26.0" height="24.5" fill="#919191"/>
<rect x="360.8" y="1111.5" width="26.0" height="24.5" fill="#1f1f1f"/>
<rect x="386.2" y="1111.5" width="26.0" height="24.5" fill="#000000"/>
<rect x="411.6" y="1111.5" width="26.0" height="24.5" fill="#000000"/>
<rect x="436.9" y="1111.5" width="26.0" height="24.5" fill="#000000"/>
<rect x="462.3" y="1111.5" width="26.0" height="24.5" fill="#000000"/>
<rect x="487.7" y="1111.5" width="26.0" height="24.5" fill="#1f1f1f"/>
<rect x="513.1" y="1111.5" width="26.0" height="24.5" fill="#000000"/>
<rect x="538.5" y="1111.5" width="26.0" height="24.5" fill="#000000"/>
<rect x="563.8" y="1111.5" width="26.0" height="24.5" fill="#000000"/>
<rect x="589.2" y="1111.5" width="26.0" height="24.5" fill="#000000"/>
<rect x="614.6" y="1111.5" width="26.0" height="24.5" fill="#1f1f1f"/>
<rect x="640.0" y="1111.5" width="26.0" height="24.5" fill="#1f1f1f"/>
<rect x="665.4" y="1111.5" width="26.0" height="24.5" fill="#000000"/>
<rect x="690.7" y="1111.5" width="26.0" height="24.5" fill="#000000"/>
<rect x="716.1" y="1111.5" width="26.0" height="24.5" fill="#1f1f1f"/>
<rect x="741.5" y="1111.5" width="26.0" height="24.5" fill="#1f1f1f"/>
<rect x="208.5" y="1135.5" width="26.0" height="24.5" fill="#ababab"/>
<rect x="233.9" y="1135.5" width="26.0" height="24.5" fill="#ababab"/>
<rect x="259.3" y="1135.5" width="26.0" height="24.5" fill="#919191"/>
<rect x="284.7" y="1135.5" width="26.0" height="24.5" fill="#787878"/>
<rect x="310.0" y="1135.5" width="26.0" height="24.5" fill="#595959"/>
<rect x="335.4" y="1135.5" width="26.0" height="24.5" fill="#787878"/>
<rect x="360.8" y="1135.5" width="26.0" height="24.5" fill="#424242"/>
<rect x="386.2" y="1135.5" width="26.0" height="24.5" fill="#424242"/>
<rect x="411.6" y="1135.5" width="26.0" height="24.5" fill="#000000"/>
<rect x="436.9" y="1135.5" width="26.0" height="24.5" fill="#000000"/>
<rect x="462.3" y="1135.5" width="26.0" height="24.5" fill="#1f1f1f"/>
<rect x="487.7" y="1135.5" width="26.0" height="24.5" fill="#000000"/>
<rect x="513.1" y="1135.5" width="26.0" height="24.5" fill="#000000"/>
<rect x="538.5" y="1135.5" width="26.0" height="24.5" fill="#000000"/>
<rect x="563.8" y="1135.5" width="26.0" height="24.5" fill="#000000"/>
<rect x="589.2" y="1135.5" width="26.0" height="24.5" fill="#000000"/>
<rect x="614.6" y="1135.5" width="26.0" height="24.5" fill="#1f1f1f"/>
<rect x="640.0" y="1135.5" width="26.0" height="24.5" fill="#1f1f1f"/>
<rect x="665.4" y="1135.5" width="26.0" height="24.5" fill="#000000"/>
<rect x="690.7" y="1135.5" width="26.0" height="24.5" fill="#1f1f1f"/>
<rect x="716.1" y="1135.5" width="26.0" height="24.5" fill="#1f1f1f"/>
<rect x="741.5" y="1135.5" width="26.0" height="24.5" fill="#1f1f1f"/>
<rect x="208.5" y="1159.4" width="26.0" height="24.5" fill="#ababab"/>
<rect x="233.9" y="1159.4" width="26.0" height="24.5" fill="#ababab"/>
<rect x="259.3" y="1159.4" width="26.0" height="24.5" fill="#ababab"/>
<rect x="284.7" y="1159.4" width="26.0" height="24.5" fill="#787878"/>
<rect x="310.0" y="1159.4" width="26.0" height="24.5" fill="#424242"/>
<rect x="335.4" y="1159.4" width="26.0" height="24.5" fill="#424242"/>
<rect x="360.8" y="1159.4" width="26.0" height="24.5" fill="#595959"/>
<rect x="386.2" y="1159.4" width="26.0" height="24.5" fill="#424242"/>
<rect x="411.6" y="1159.4" width="26.0" height="24.5" fill="#000000"/>
<rect x="436.9" y="1159.4" width="26.0" height="24.5" fill="#000000"/>
<rect x="462.3" y="1159.4" width="26.0" height="24.5" fill="#424242"/>
<rect x="487.7" y="1159.4" width="26.0" height="24.5" fill="#000000"/>
<rect x="513.1" y="1159.4" width="26.0" height="24.5" fill="#000000"/>
<rect x="538.5" y="1159.4" width="26.0" height="24.5" fill="#000000"/>
<rect x="563.8" y="1159.4" width="26.0" height="24.5" fill="#000000"/>
<rect x="589.2" y="1159.4" width="26.0" height="24.5" fill="#000000"/>
<rect x="614.6" y="1159.4" width="26.0" height="24.5" fill="#1f1f1f"/>
<rect x="640.0" y="1159.4" width="26.0" height="24.5" fill="#424242"/>
<rect x="665.4" y="1159.4" width="26.0" height="24.5" fill="#1f1f1f"/>
<rect x="690.7" y="1159.4" width="26.0" height="24.5" fill="#000000"/>
<rect x="716.1" y="1159.4" width="26.0" height="24.5" fill="#000000"/>
<rect x="741.5" y="1159.4" width="26.0" height="24.5" fill="#000000"/>
<rect x="208.5" y="1183.3" width="26.0" height="24.5" fill="#ababab"/>
<rect x="233.9" y="1183.3" width="26.0" height="24.5" fill="#ababab"/>
<rect x="259.3" y="1183.3" width="26.0" height="24.5" fill="#919191"/>
<rect x="284.7" y="1183.3" width="26.0" height="24.5" fill="#595959"/>
<rect x="310.0" y="1183.3" width="26.0" height="24.5" fill="#787878"/>
<rect x="335.4" y="1183.3" width="26.0" height="24.5" fill="#c9c9c9"/>
<rect x="360.8" y="1183.3" width="26.0" height="24.5" fill="#787878"/>
<rect x="386.2" y="1183.3" width="26.0" height="24.5" fill="#424242"/>
<rect x="411.6" y="1183.3" width="26.0" height="24.5" fill="#000000"/>
<rect x="436.9" y="1183.3" width="26.0" height="24.5" fill="#1f1f1f"/>
<rect x="462.3" y="1183.3" width="26.0" height="24.5" fill="#595959"/>
<rect x="487.7" y="1183.3" width="26.0" height="24.5" fill="#595959"/>
<rect x="513.1" y="1183.3" width="26.0" height="24.5" fill="#1f1f1f"/>
<rect x="538.5" y="1183.3" width="26.0" height="24.5" fill="#000000"/>
<rect x="563.8" y="1183.3" width="26.0" height="24.5" fill="#787878"/>
<rect x="589.2" y="1183.3" width="26.0" height="24.5" fill="#787878"/>
<rect x="614.6" y="1183.3" width="26.0" height="24.5" fill="#595959"/>
<rect x="640.0" y="1183.3" width="26.0" height="24.5" fill="#424242"/>
<rect x="665.4" y="1183.3" width="26.0" height="24.5" fill="#424242"/>
<rect x="690.7" y="1183.3" width="26.0" height="24.5" fill="#1f1f1f"/>
<rect x="716.1" y="1183.3" width="26.0" height="24.5" fill="#1f1f1f"/>
<rect x="741.5" y="1183.3" width="26.0" height="24.5" fill="#1f1f1f"/>
<rect x="208.5" y="1207.2" width="26.0" height="24.5" fill="#919191"/>
<rect x="233.9" y="1207.2" width="26.0" height="24.5" fill="#919191"/>
<rect x="259.3" y="1207.2" width="26.0" height="24.5" fill="#919191"/>
<rect x="284.7" y="1207.2" width="26.0" height="24.5" fill="#919191"/>
<rect x="310.0" y="1207.2" width="26.0" height="24.5" fill="#ababab"/>
<rect x="335.4" y="1207.2" width="26.0" height="24.5" fill="#c9c9c9"/>
<rect x="360.8" y="1207.2" width="26.0" height="24.5" fill="#787878"/>
<rect x="386.2" y="1207.2" width="26.0" height="24.5" fill="#787878"/>
<rect x="411.6" y="1207.2" width="26.0" height="24.5" fill="#787878"/>
<rect x="436.9" y="1207.2" width="26.0" height="24.5" fill="#424242"/>
<rect x="462.3" y="1207.2" width="26.0" height="24.5" fill="#595959"/>
<rect x="487.7" y="1207.2" width="26.0" height="24.5" fill="#595959"/>
<rect x="513.1" y="1207.2" width="26.0" height="24.5" fill="#424242"/>
<rect x="538.5" y="1207.2" width="26.0" height="24.5" fill="#1f1f1f"/>
<rect x="563.8" y="1207.2" width="26.0" height="24.5" fill="#787878"/>
<rect x="589.2" y="1207.2" width="26.0" height="24.5" fill="#919191"/>
<rect x="614.6" y="1207.2" width="26.0" height="24.5" fill="#787878"/>
<rect x="640.0" y="1207.2" width="26.0" height="24.5" fill="#424242"/>
<rect x="665.4" y="1207.2" width="26.0" height="24.5" fill="#1f1f1f"/>
<rect x="690.7" y="1207.2" width="26.0" height="24.5" fill="#595959"/>
<rect x="716.1" y="1207.2" width="26.0" height="24.5" fill="#787878"/>
<rect x="741.5" y="1207.2" width="26.0" height="24.5" fill="#787878"/>
<rect x="208.5" y="1231.2" width="26.0" height="24.5" fill="#787878"/>
<rect x="233.9" y="1231.2" width="26.0" height="24.5" fill="#787878"/>
<rect x="259.3" y="1231.2" width="26.0" height="24.5" fill="#ababab"/>
<rect x="284.7" y="1231.2" width="26.0" height="24.5" fill="#ababab"/>
<rect x="310.0" y="1231.2" width="26.0" height="24.5" fill="#c9c9c9"/>
<rect x="335.4" y="1231.2" width="26.0" height="24.5" fill="#424242"/>
<rect x="360.8" y="1231.2" width="26.0" height="24.5" fill="#595959"/>
<rect x="386.2" y="1231.2" width="26.0" height="24.5" fill="#595959"/>
<rect x="411.6" y="1231.2" width="26.0" height="24.5" fill="#424242"/>
<rect x="436.9" y="1231.2" width="26.0" height="24.5" fill="#787878"/>
<rect x="462.3" y="1231.2" width="26.0" height="24.5" fill="#919191"/>
<rect x="487.7" y="1231.2" width="26.0" height="24.5" fill="#595959"/>
<rect x="513.1" y="1231.2" width="26.0" height="24.5" fill="#787878"/>
<rect x="538.5" y="1231.2" width="26.0" height="24.5" fill="#595959"/>
<rect x="563.8" y="1231.2" width="26.0" height="24.5" fill="#595959"/>
<rect x="589.2" y="1231.2" width="26.0" height="24.5" fill="#919191"/>
<rect x="614.6" y="1231.2" width="26.0" height="24.5" fill="#787878"/>
<rect x="640.0" y="1231.2" width="26.0" height="24.5" fill="#919191"/>
<rect x="665.4" y="1231.2" width="26.0" height="24.5" fill="#1f1f1f"/>
<rect x="690.7" y="1231.2" width="26.0" height="24.5" fill="#919191"/>
<rect x="716.1" y="1231.2" width="26.0" height="24.5" fill="#ababab"/>
<rect x="741.5" y="1231.2" width="26.0" height="24.5" fill="#ababab"/>
<rect x="208.5" y="1255.1" width="26.0" height="24.5" fill="#ababab"/>
<rect x="233.9" y="1255.1" width="26.0" height="24.5" fill="#ababab"/>
<rect x="259.3" y="1255.1" width="26.0" height="24.5" fill="#ababab"/>
<rect x="284.7" y="1255.1" width="26.0" height="24.5" fill="#c9c9c9"/>
<rect x="310.0" y="1255.1" width="26.0" height="24.5" fill="#e8e8e8"/>
<rect x="335.4" y="1255.1" width="26.0" height="24.5" fill="#ababab"/>
<rect x="360.8" y="1255.1" width="26.0" height="24.5" fill="#424242"/>
<rect x="386.2" y="1255.1" width="26.0" height="24.5" fill="#424242"/>
<rect x="411.6" y="1255.1" width="26.0" height="24.5" fill="#595959"/>
<rect x="436.9" y="1255.1" width="26.0" height="24.5" fill="#424242"/>
<rect x="462.3" y="1255.1" width="26.0" height="24.5" fill="#787878"/>
<rect x="487.7" y="1255.1" width="26.0" height="24.5" fill="#787878"/>
<rect x="513.1" y="1255.1" width="26.0" height="24.5" fill="#787878"/>
<rect x="538.5" y="1255.1" width="26.0" height="24.5" fill="#787878"/>
<rect x="563.8" y="1255.1" width="26.0" height="24.5" fill="#787878"/>
<rect x="589.2" y="1255.1" width="26.0" height="24.5" fill="#ababab"/>
<rect x="614.6" y="1255.1" width="26.0" height="24.5" fill="#ababab"/>
<rect x="640.0" y="1255.1" width="26.0" height="24.5" fill="#787878"/>
<rect x="665.4" y="1255.1" width="26.0" height="24.5" fill="#595959"/>
<rect x="690.7" y="1255.1" width="26.0" height="24.5" fill="#787878"/>
<rect x="716.1" y="1255.1" width="26.0" height="24.5" fill="#919191"/>
<rect x="741.5" y="1255.1" width="26.0" height="24.5" fill="#919191"/>
<rect x="208.5" y="1279.0" width="26.0" height="24.5" fill="#c9c9c9"/>
<rect x="233.9" y="1279.0" width="26.0" height="24.5" fill="#c9c9c9"/>
<rect x="259.3" y="1279.0" width="26.0" height="24.5" fill="#ababab"/>
<rect x="284.7" y="1279.0" width="26.0" height="24.5" fill="#c9c9c9"/>
<rect x="310.0" y="1279.0" width="26.0" height="24.5" fill="#595959"/>
<rect x="335.4" y="1279.0" width="26.0" height="24.5" fill="#919191"/>
<rect x="360.8" y="1279.0" width="26.0" height="24.5" fill="#595959"/>
<rect x="386.2" y="1279.0" width="26.0" height="24.5" fill="#424242"/>
<rect x="411.6" y="1279.0" width="26.0" height="24.5" fill="#787878"/>
<rect x="436.9" y="1279.0" width="26.0" height="24.5" fill="#787878"/>
<rect x="462.3" y="1279.0" width="26.0" height="24.5" fill="#919191"/>
<rect x="487.7" y="1279.0" width="26.0" height="24.5" fill="#595959"/>
<rect x="513.1" y="1279.0" width="26.0" height="24.5" fill="#919191"/>
<rect x="538.5" y="1279.0" width="26.0" height="24.5" fill="#919191"/>
<rect x="563.8" y="1279.0" width="26.0" height="24.5" fill="#595959"/>
<rect x="589.2" y="1279.0" width="26.0" height="24.5" fill="#c9c9c9"/>
<rect x="614.6" y="1279.0" width="26.0" height="24.5" fill="#919191"/>
<rect x="640.0" y="1279.0" width="26.0" height="24.5" fill="#595959"/>
<rect x="665.4" y="1279.0" width="26.0" height="24.5" fill="#595959"/>
<rect x="690.7" y="1279.0" width="26.0" height="24.5" fill="#919191"/>
<rect x="716.1" y="1279.0" width="26.0" height="24.5" fill="#787878"/>
<rect x="741.5" y="1279.0" width="26.0" height="24.5" fill="#787878"/>
<rect x="208.5" y="1303.0" width="26.0" height="24.5" fill="#ababab"/>
<rect x="233.9" y="1303.0" width="26.0" height="24.5" fill="#ababab"/>
<rect x="259.3" y="1303.0" width="26.0" height="24.5" fill="#ababab"/>
<rect x="284.7" y="1303.0" width="26.0" height="24.5" fill="#c9c9c9"/>
<rect x="310.0" y="1303.0" width="26.0" height="24.5" fill="#595959"/>
<rect x="335.4" y="1303.0" width="26.0" height="24.5" fill="#595959"/>
<rect x="360.8" y="1303.0" width="26.0" height="24.5" fill="#919191"/>
<rect x="386.2" y="1303.0" width="26.0" height="24.5" fill="#787878"/>
<rect x="411.6" y="1303.0" width="26.0" height="24.5" fill="#c9c9c9"/>
<rect x="436.9" y="1303.0" width="26.0" height="24.5" fill="#ababab"/>
<rect x="462.3" y="1303.0" width="26.0" height="24.5" fill="#787878"/>
<rect x="487.7" y="1303.0" width="26.0" height="24.5" fill="#787878"/>
<rect x="513.1" y="1303.0" width="26.0" height="24.5" fill="#595959"/>
<rect x="538.5" y="1303.0" width="26.0" height="24.5" fill="#595959"/>
<rect x="563.8" y="1303.0" width="26.0" height="24.5" fill="#787878"/>
<rect x="589.2" y="1303.0" width="26.0" height="24.5" fill="#595959"/>
<rect x="614.6" y="1303.0" width="26.0" height="24.5" fill="#787878"/>
<rect x="640.0" y="1303.0" width="26.0" height="24.5" fill="#919191"/>
<rect x="665.4" y="1303.0" width="26.0" height="24.5" fill="#424242"/>
<rect x="690.7" y="1303.0" width="26.0" height="24.5" fill="#1f1f1f"/>
<rect x="716.1" y="1303.0" width="26.0" height="24.5" fill="#000000"/>
<rect x="741.5" y="1303.0" width="26.0" height="24.5" fill="#000000"/>
<rect x="208.5" y="1326.9" width="26.0" height="24.5" fill="#c9c9c9"/>
<rect x="233.9" y="1326.9" width="26.0" height="24.5" fill="#c9c9c9"/>
<rect x="259.3" y="1326.9" width="26.0" height="24.5" fill="#ababab"/>
<rect x="284.7" y="1326.9" width="26.0" height="24.5" fill="#c9c9c9"/>
<rect x="310.0" y="1326.9" width="26.0" height="24.5" fill="#787878"/>
<rect x="335.4" y="1326.9" width="26.0" height="24.5" fill="#595959"/>
<rect x="360.8" y="1326.9" width="26.0" height="24.5" fill="#787878"/>
<rect x="386.2" y="1326.9" width="26.0" height="24.5" fill="#595959"/>
<rect x="411.6" y="1326.9" width="26.0" height="24.5" fill="#c9c9c9"/>
<rect x="436.9" y="1326.9" width="26.0" height="24.5" fill="#919191"/>
<rect x="462.3" y="1326.9" width="26.0" height="24.5" fill="#595959"/>
<rect x="487.7" y="1326.9" width="26.0" height="24.5" fill="#787878"/>
<rect x="513.1" y="1326.9" width="26.0" height="24.5" fill="#595959"/>
<rect x="538.5" y="1326.9" width="26.0" height="24.5" fill="#424242"/>
<rect x="563.8" y="1326.9" width="26.0" height="24.5" fill="#595959"/>
<rect x="589.2" y="1326.9" width="26.0" height="24.5" fill="#595959"/>
<rect x="614.6" y="1326.9" width="26.0" height="24.5" fill="#595959"/>
<rect x="640.0" y="1326.9" width="26.0" height="24.5" fill="#424242"/>
<rect x="665.4" y="1326.9" width="26.0" height="24.5" fill="#424242"/>
<rect x="690.7" y="1326.9" width="26.0" height="24.5" fill="#595959"/>
<rect x="716.1" y="1326.9" width="26.0" height="24.5" fill="#000000"/>
<rect x="741.5" y="1326.9" width="26.0" height="24.5" fill="#000000"/>
<rect x="208.5" y="1350.8" width="26.0" height="24.5" fill="#595959"/>
<rect x="233.9" y="1350.8" width="26.0" height="24.5" fill="#595959"/>
<rect x="259.3" y="1350.8" width="26.0" height="24.5" fill="#919191"/>
<rect x="284.7" y="1350.8" width="26.0" height="24.5" fill="#ababab"/>
<rect x="310.0" y="1350.8" width="26.0" height="24.5" fill="#ababab"/>
<rect x="335.4" y="1350.8" width="26.0" height="24.5" fill="#787878"/>
<rect x="360.8" y="1350.8" width="26.0" height="24.5" fill="#787878"/>
<rect x="386.2" y="1350.8" width="26.0" height="24.5" fill="#787878"/>
<rect x="411.6" y="1350.8" width="26.0" height="24.5" fill="#787878"/>
<rect x="436.9" y="1350.8" width="26.0" height="24.5" fill="#424242"/>
<rect x="462.3" y="1350.8" width="26.0" height="24.5" fill="#787878"/>
<rect x="487.7" y="1350.8" width="26.0" height="24.5" fill="#595959"/>
<rect x="513.1" y="1350.8" width="26.0" height="24.5" fill="#595959"/>
<rect x="538.5" y="1350.8" width="26.0" height="24.5" fill="#424242"/>
<rect x="563.8" y="1350.8" width="26.0" height="24.5" fill="#595959"/>
<rect x="589.2" y="1350.8" width="26.0" height="24.5" fill="#424242"/>
<rect x="614.6" y="1350.8" width="26.0" height="24.5" fill="#424242"/>
<rect x="640.0" y="1350.8" width="26.0" height="24.5" fill="#424242"/>
<rect x="665.4" y="1350.8" width="26.0" height="24.5" fill="#595959"/>
<rect x="690.7" y="1350.8" width="26.0" height="24.5" fill="#787878"/>
<rect x="716.1" y="1350.8" width="26.0" height="24.5" fill="#000000"/>
<rect x="741.5" y="1350.8" width="26.0" height="24.5" fill="#000000"/>
<rect x="208.5" y="1374.7" width="26.0" height="24.5" fill="#424242"/>
<rect x="233.9" y="1374.7" width="26.0" height="24.5" fill="#424242"/>
<rect x="259.3" y="1374.7" width="26.0" height="24.5" fill="#424242"/>
<rect x="284.7" y="1374.7" width="26.0" height="24.5" fill="#ababab"/>
<rect x="310.0" y="1374.7" width="26.0" height="24.5" fill="#595959"/>
<rect x="335.4" y="1374.7" width="26.0" height="24.5" fill="#424242"/>
<rect x="360.8" y="1374.7" width="26.0" height="24.5" fill="#595959"/>
<rect x="386.2" y="1374.7" width="26.0" height="24.5" fill="#919191"/>
<rect x="411.6" y="1374.7" width="26.0" height="24.5" fill="#919191"/>
<rect x="436.9" y="1374.7" width="26.0" height="24.5" fill="#919191"/>
<rect x="462.3" y="1374.7" width="26.0" height="24.5" fill="#919191"/>
<rect x="487.7" y="1374.7" width="26.0" height="24.5" fill="#595959"/>
<rect x="513.1" y="1374.7" width="26.0" height="24.5" fill="#787878"/>
<rect x="538.5" y="1374.7" width="26.0" height="24.5" fill="#595959"/>
<rect x="563.8" y="1374.7" width="26.0" height="24.5" fill="#595959"/>
<rect x="589.2" y="1374.7" width="26.0" height="24.5" fill="#424242"/>
<rect x="614.6" y="1374.7" width="26.0" height="24.5" fill="#424242"/>
<rect x="640.0" y="1374.7" width="26.0" height="24.5" fill="#595959"/>
<rect x="665.4" y="1374.7" width="26.0" height="24.5" fill="#787878"/>
<rect x="690.7" y="1374.7" width="26.0" height="24.5" fill="#ababab"/>
<rect x="716.1" y="1374.7" width="26.0" height="24.5" fill="#1f1f1f"/>
<rect x="741.5" y="1374.7" width="26.0" height="24.5" fill="#1f1f1f"/>
<rect x="208.5" y="1398.7" width="26.0" height="24.5" fill="#787878"/>
<rect x="233.9" y="1398.7" width="26.0" height="24.5" fill="#787878"/>
<rect x="259.3" y="1398.7" width="26.0" height="24.5" fill="#787878"/>
<rect x="284.7" y="1398.7" width="26.0" height="24.5" fill="#787878"/>
<rect x="310.0" y="1398.7" width="26.0" height="24.5" fill="#424242"/>
<rect x="335.4" y="1398.7" width="26.0" height="24.5" fill="#424242"/>
<rect x="360.8" y="1398.7" width="26.0" height="24.5" fill="#787878"/>
<rect x="386.2" y="1398.7" width="26.0" height="24.5" fill="#919191"/>
<rect x="411.6" y="1398.7" width="26.0" height="24.5" fill="#919191"/>
<rect x="436.9" y="1398.7" width="26.0" height="24.5" fill="#919191"/>
<rect x="462.3" y="1398.7" width="26.0" height="24.5" fill="#919191"/>
<rect x="487.7" y="1398.7" width="26.0" height="24.5" fill="#919191"/>
<rect x="513.1" y="1398.7" width="26.0" height="24.5" fill="#919191"/>
<rect x="538.5" y="1398.7" width="26.0" height="24.5" fill="#ababab"/>
<rect x="563.8" y="1398.7" width="26.0" height="24.5" fill="#919191"/>
<rect x="589.2" y="1398.7" width="26.0" height="24.5" fill="#919191"/>
<rect x="614.6" y="1398.7" width="26.0" height="24.5" fill="#ababab"/>
<rect x="640.0" y="1398.7" width="26.0" height="24.5" fill="#ababab"/>
<rect x="665.4" y="1398.7" width="26.0" height="24.5" fill="#919191"/>
<rect x="690.7" y="1398.7" width="26.0" height="24.5" fill="#787878"/>
<rect x="716.1" y="1398.7" width="26.0" height="24.5" fill="#595959"/>
<rect x="741.5" y="1398.7" width="26.0" height="24.5" fill="#595959"/>
<rect x="208.5" y="1422.6" width="26.0" height="24.5" fill="#c9c9c9"/>
<rect x="233.9" y="1422.6" width="26.0" height="24.5" fill="#c9c9c9"/>
<rect x="259.3" y="1422.6" width="26.0" height="24.5" fill="#919191"/>
<rect x="284.7" y="1422.6" width="26.0" height="24.5" fill="#919191"/>
<rect x="310.0" y="1422.6" width="26.0" height="24.5" fill="#919191"/>
<rect x="335.4" y="1422.6" width="26.0" height="24.5" fill="#787878"/>
<rect x="360.8" y="1422.6" width="26.0" height="24.5" fill="#ababab"/>
<rect x="386.2" y="1422.6" width="26.0" height="24.5" fill="#919191"/>
<rect x="411.6" y="1422.6" width="26.0" height="24.5" fill="#c9c9c9"/>
<rect x="436.9" y="1422.6" width="26.0" height="24.5" fill="#787878"/>
<rect x="462.3" y="1422.6" width="26.0" height="24.5" fill="#919191"/>
<rect x="487.7" y="1422.6" width="26.0" height="24.5" fill="#ababab"/>
<rect x="513.1" y="1422.6" width="26.0" height="24.5" fill="#c9c9c9"/>
<rect x="538.5" y="1422.6" width="26.0" height="24.5" fill="#919191"/>
<rect x="563.8" y="1422.6" width="26.0" height="24.5" fill="#595959"/>
<rect x="589.2" y="1422.6" width="26.0" height="24.5" fill="#919191"/>
<rect x="614.6" y="1422.6" width="26.0" height="24.5" fill="#ababab"/>
<rect x="640.0" y="1422.6" width="26.0" height="24.5" fill="#c9c9c9"/>
<rect x="665.4" y="1422.6" width="26.0" height="24.5" fill="#919191"/>
<rect x="690.7" y="1422.6" width="26.0" height="24.5" fill="#919191"/>
<rect x="716.1" y="1422.6" width="26.0" height="24.5" fill="#787878"/>
<rect x="741.5" y="1422.6" width="26.0" height="24.5" fill="#787878"/>
<rect x="208.5" y="1446.5" width="26.0" height="24.5" fill="#c9c9c9"/>
<rect x="233.9" y="1446.5" width="26.0" height="24.5" fill="#c9c9c9"/>
<rect x="259.3" y="1446.5" width="26.0" height="24.5" fill="#787878"/>
<rect x="284.7" y="1446.5" width="26.0" height="24.5" fill="#787878"/>
<rect x="310.0" y="1446.5" width="26.0" height="24.5" fill="#787878"/>
<rect x="335.4" y="1446.5" width="26.0" height="24.5" fill="#ababab"/>
<rect x="360.8" y="1446.5" width="26.0" height="24.5" fill="#c9c9c9"/>
<rect x="386.2" y="1446.5" width="26.0" height="24.5" fill="#c9c9c9"/>
<rect x="411.6" y="1446.5" width="26.0" height="24.5" fill="#ababab"/>
<rect x="436.9" y="1446.5" width="26.0" height="24.5" fill="#787878"/>
<rect x="462.3" y="1446.5" width="26.0" height="24.5" fill="#595959"/>
<rect x="487.7" y="1446.5" width="26.0" height="24.5" fill="#919191"/>
<rect x="513.1" y="1446.5" width="26.0" height="24.5" fill="#919191"/>
<rect x="538.5" y="1446.5" width="26.0" height="24.5" fill="#1f1f1f"/>
<rect x="563.8" y="1446.5" width="26.0" height="24.5" fill="#1f1f1f"/>
<rect x="589.2" y="1446.5" width="26.0" height="24.5" fill="#787878"/>
<rect x="614.6" y="1446.5" width="26.0" height="24.5" fill="#ababab"/>
<rect x="640.0" y="1446.5" width="26.0" height="24.5" fill="#919191"/>
<rect x="665.4" y="1446.5" width="26.0" height="24.5" fill="#787878"/>
<rect x="690.7" y="1446.5" width="26.0" height="24.5" fill="#919191"/>
<rect x="716.1" y="1446.5" width="26.0" height="24.5" fill="#919191"/>
<rect x="741.5" y="1446.5" width="26.0" height="24.5" fill="#919191"/>
<rect x="208.5" y="1470.4" width="26.0" height="24.5" fill="#424242"/>
<rect x="233.9" y="1470.4" width="26.0" height="24.5" fill="#424242"/>
<rect x="259.3" y="1470.4" width="26.0" height="24.5" fill="#424242"/>
<rect x="284.7" y="1470.4" width="26.0" height="24.5" fill="#787878"/>
<rect x="310.0" y="1470.4" width="26.0" height="24.5" fill="#787878"/>
<rect x="335.4" y="1470.4" width="26.0" height="24.5" fill="#919191"/>
<rect x="360.8" y="1470.4" width="26.0" height="24.5" fill="#919191"/>
<rect x="386.2" y="1470.4" width="26.0" height="24.5" fill="#1f1f1f"/>
<rect x="411.6" y="1470.4" width="26.0" height="24.5" fill="#1f1f1f"/>
<rect x="436.9" y="1470.4" width="26.0" height="24.5" fill="#1f1f1f"/>
<rect x="462.3" y="1470.4" width="26.0" height="24.5" fill="#1f1f1f"/>
<rect x="487.7" y="1470.4" width="26.0" height="24.5" fill="#787878"/>
<rect x="513.1" y="1470.4" width="26.0" height="24.5" fill="#424242"/>
<rect x="538.5" y="1470.4" width="26.0" height="24.5" fill="#000000"/>
<rect x="563.8" y="1470.4" width="26.0" height="24.5" fill="#000000"/>
<rect x="589.2" y="1470.4" width="26.0" height="24.5" fill="#424242"/>
<rect x="614.6" y="1470.4" width="26.0" height="24.5" fill="#ababab"/>
<rect x="640.0" y="1470.4" width="26.0" height="24.5" fill="#787878"/>
<rect x="665.4" y="1470.4" width="26.0" height="24.5" fill="#787878"/>
<rect x="690.7" y="1470.4" width="26.0" height="24.5" fill="#919191"/>
<rect x="716.1" y="1470.4" width="26.0" height="24.5" fill="#1f1f1f"/>
<rect x="741.5" y="1470.4" width="26.0" height="24.5" fill="#1f1f1f"/>
<rect x="208.5" y="1494.4" width="26.0" height="24.5" fill="#1f1f1f"/>
<rect x="233.9" y="1494.4" width="26.0" height="24.5" fill="#1f1f1f"/>
<rect x="259.3" y="1494.4" width="26.0" height="24.5" fill="#595959"/>
<rect x="284.7" y="1494.4" width="26.0" height="24.5" fill="#787878"/>
<rect x="310.0" y="1494.4" width="26.0" height="24.5" fill="#595959"/>
<rect x="335.4" y="1494.4" width="26.0" height="24.5" fill="#424242"/>
<rect x="360.8" y="1494.4" width="26.0" height="24.5" fill="#000000"/>
<rect x="386.2" y="1494.4" width="26.0" height="24.5" fill="#000000"/>
<rect x="411.6" y="1494.4" width="26.0" height="24.5" fill="#000000"/>
<rect x="436.9" y="1494.4" width="26.0" height="24.5" fill="#1f1f1f"/>
<rect x="462.3" y="1494.4" width="26.0" height="24.5" fill="#000000"/>
<rect x="487.7" y="1494.4" width="26.0" height="24.5" fill="#919191"/>
<rect x="513.1" y="1494.4" width="26.0" height="24.5" fill="#1f1f1f"/>
<rect x="538.5" y="1494.4" width="26.0" height="24.5" fill="#000000"/>
<rect x="563.8" y="1494.4" width="26.0" height="24.5" fill="#000000"/>
<rect x="589.2" y="1494.4" width="26.0" height="24.5" fill="#1f1f1f"/>
<rect x="614.6" y="1494.4" width="26.0" height="24.5" fill="#ababab"/>
<rect x="640.0" y="1494.4" width="26.0" height="24.5" fill="#919191"/>
<rect x="665.4" y="1494.4" width="26.0" height="24.5" fill="#787878"/>
<rect x="690.7" y="1494.4" width="26.0" height="24.5" fill="#595959"/>
<rect x="716.1" y="1494.4" width="26.0" height="24.5" fill="#000000"/>
<rect x="741.5" y="1494.4" width="26.0" height="24.5" fill="#000000"/>
<rect x="208.5" y="1518.3" width="26.0" height="24.5" fill="#424242"/>
<rect x="233.9" y="1518.3" width="26.0" height="24.5" fill="#424242"/>
<rect x="259.3" y="1518.3" width="26.0" height="24.5" fill="#424242"/>
<rect x="284.7" y="1518.3" width="26.0" height="24.5" fill="#424242"/>
<rect x="310.0" y="1518.3" width="26.0" height="24.5" fill="#000000"/>
<rect x="335.4" y="1518.3" width="26.0" height="24.5" fill="#1f1f1f"/>
<rect x="360.8" y="1518.3" width="26.0" height="24.5" fill="#000000"/>
<rect x="386.2" y="1518.3" width="26.0" height="24.5" fill="#000000"/>
<rect x="411.6" y="1518.3" width="26.0" height="24.5" fill="#1f1f1f"/>
<rect x="436.9" y="1518.3" width="26.0" height="24.5" fill="#1f1f1f"/>
<rect x="462.3" y="1518.3" width="26.0" height="24.5" fill="#000000"/>
<rect x="487.7" y="1518.3" width="26.0" height="24.5" fill="#424242"/>
<rect x="513.1" y="1518.3" width="26.0" height="24.5" fill="#000000"/>
<rect x="538.5" y="1518.3" width="26.0" height="24.5" fill="#000000"/>
<rect x="563.8" y="1518.3" width="26.0" height="24.5" fill="#000000"/>
<rect x="589.2" y="1518.3" width="26.0" height="24.5" fill="#1f1f1f"/>
<rect x="614.6" y="1518.3" width="26.0" height="24.5" fill="#787878"/>
<rect x="640.0" y="1518.3" width="26.0" height="24.5" fill="#787878"/>
<rect x="665.4" y="1518.3" width="26.0" height="24.5" fill="#595959"/>
<rect x="690.7" y="1518.3" width="26.0" height="24.5" fill="#424242"/>
<rect x="716.1" y="1518.3" width="26.0" height="24.5" fill="#000000"/>
<rect x="741.5" y="1518.3" width="26.0" height="24.5" fill="#000000"/>
<rect x="208.5" y="1542.2" width="26.0" height="24.5" fill="#424242"/>
<rect x="233.9" y="1542.2" width="26.0" height="24.5" fill="#424242"/>
<rect x="259.3" y="1542.2" width="26.0" height="24.5" fill="#424242"/>
<rect x="284.7" y="1542.2" width="26.0" height="24.5" fill="#424242"/>
<rect x="310.0" y="1542.2" width="26.0" height="24.5" fill="#000000"/>
<rect x="335.4" y="1542.2" width="26.0" height="24.5" fill="#1f1f1f"/>
<rect x="360.8" y="1542.2" width="26.0" height="24.5" fill="#000000"/>
<rect x="386.2" y="1542.2" width="26.0" height="24.5" fill="#000000"/>
<rect x="411.6" y="1542.2" width="26.0" height="24.5" fill="#1f1f1f"/>
<rect x="436.9" y="1542.2" width="26.0" height="24.5" fill="#1f1f1f"/>
<rect x="462.3" y="1542.2" width="26.0" height="24.5" fill="#000000"/>
<rect x="487.7" y="1542.2" width="26.0" height="24.5" fill="#424242"/>
<rect x="513.1" y="1542.2" width="26.0" height="24.5" fill="#000000"/>
<rect x="538.5" y="1542.2" width="26.0" height="24.5" fill="#000000"/>
<rect x="563.8" y="1542.2" width="26.0" height="24.5" fill="#000000"/>
<rect x="589.2" y="1542.2" width="26.0" height="24.5" fill="#1f1f1f"/>
<rect x="614.6" y="1542.2" width="26.0" height="24.5" fill="#787878"/>
<rect x="640.0" y="1542.2" width="26.0" height="24.5" fill="#787878"/>
<rect x="665.4" y="1542.2" width="26.0" height="24.5" fill="#595959"/>
<rect x="690.7" y="1542.2" width="26.0" height="24.5" fill="#424242"/>
<rect x="716.1" y="1542.2" width="26.0" height="24.5" fill="#000000"/>
<rect x="741.5" y="1542.2" width="26.0" height="24.5" fill="#000000"/>
</g>
<line x1="310.6" y1="1063.7" x2="310.6" y2="1542.2" stroke="#fff" stroke-width="1.6" stroke-dasharray="2 3" opacity="0.45"/>
<line x1="402.0" y1="1063.7" x2="402.0" y2="1542.2" stroke="#fff" stroke-width="1.6" stroke-dasharray="2 3" opacity="0.45"/>
<line x1="493.4" y1="1063.7" x2="493.4" y2="1542.2" stroke="#fff" stroke-width="1.6" stroke-dasharray="2 3" opacity="0.45"/>
<line x1="584.8" y1="1063.7" x2="584.8" y2="1542.2" stroke="#fff" stroke-width="1.6" stroke-dasharray="2 3" opacity="0.45"/>
<line x1="676.2" y1="1063.7" x2="676.2" y2="1542.2" stroke="#fff" stroke-width="1.6" stroke-dasharray="2 3" opacity="0.45"/>
<line x1="233.9" y1="1110.8" x2="741.5" y2="1110.8" stroke="#fff" stroke-width="1.6" stroke-dasharray="2 3" opacity="0.45"/>
<line x1="233.9" y1="1206.7" x2="741.5" y2="1206.7" stroke="#fff" stroke-width="1.6" stroke-dasharray="2 3" opacity="0.45"/>
<line x1="233.9" y1="1302.6" x2="741.5" y2="1302.6" stroke="#fff" stroke-width="1.6" stroke-dasharray="2 3" opacity="0.45"/>
<line x1="233.9" y1="1398.5" x2="741.5" y2="1398.5" stroke="#fff" stroke-width="1.6" stroke-dasharray="2 3" opacity="0.45"/>
<line x1="233.9" y1="1494.4" x2="741.5" y2="1494.4" stroke="#fff" stroke-width="1.6" stroke-dasharray="2 3" opacity="0.45"/>
<line x1="233.9" y1="1408.5" x2="740.9" y2="1408.5" stroke="#fff" stroke-width="2.2"/>
<line x1="484.4" y1="1064.0" x2="484.4" y2="1542.0" stroke="#fff" stroke-width="2.2"/>
</g>
<rect x="282.8" y="1235.2" width="46" height="46" fill="none" stroke="#f28b5b" stroke-width="10.7"/>
<rect x="314.4" y="1371.7" width="46" height="46" fill="none" stroke="#0bb47f" stroke-width="10.7"/>
<rect x="641.7" y="1341.0" width="46" height="46" fill="none" stroke="#308ac0" stroke-width="10.7"/></g>
<rect x="231.9" y="1061.7" width="511.6" height="482.5" fill="none" stroke="#262a2c" stroke-width="4.2"/>
<line x1="310.6" y1="1059.7" x2="310.6" y2="1040.7" stroke="#1c1c1c" stroke-width="4.3"/>
<line x1="310.6" y1="1546.2" x2="310.6" y2="1565.2" stroke="#1c1c1c" stroke-width="4.3"/>
<line x1="402.0" y1="1059.7" x2="402.0" y2="1040.7" stroke="#1c1c1c" stroke-width="4.3"/>
<line x1="402.0" y1="1546.2" x2="402.0" y2="1565.2" stroke="#1c1c1c" stroke-width="4.3"/>
<line x1="493.4" y1="1059.7" x2="493.4" y2="1040.7" stroke="#1c1c1c" stroke-width="4.3"/>
<line x1="493.4" y1="1546.2" x2="493.4" y2="1565.2" stroke="#1c1c1c" stroke-width="4.3"/>
<line x1="584.8" y1="1059.7" x2="584.8" y2="1040.7" stroke="#1c1c1c" stroke-width="4.3"/>
<line x1="584.8" y1="1546.2" x2="584.8" y2="1565.2" stroke="#1c1c1c" stroke-width="4.3"/>
<line x1="676.2" y1="1059.7" x2="676.2" y2="1040.7" stroke="#1c1c1c" stroke-width="4.3"/>
<line x1="676.2" y1="1546.2" x2="676.2" y2="1565.2" stroke="#1c1c1c" stroke-width="4.3"/>
<line x1="229.9" y1="1110.8" x2="210.9" y2="1110.8" stroke="#1c1c1c" stroke-width="4.3"/>
<line x1="745.5" y1="1110.8" x2="764.5" y2="1110.8" stroke="#1c1c1c" stroke-width="4.3"/>
<line x1="229.9" y1="1206.7" x2="210.9" y2="1206.7" stroke="#1c1c1c" stroke-width="4.3"/>
<line x1="745.5" y1="1206.7" x2="764.5" y2="1206.7" stroke="#1c1c1c" stroke-width="4.3"/>
<line x1="229.9" y1="1302.6" x2="210.9" y2="1302.6" stroke="#1c1c1c" stroke-width="4.3"/>
<line x1="745.5" y1="1302.6" x2="764.5" y2="1302.6" stroke="#1c1c1c" stroke-width="4.3"/>
<line x1="229.9" y1="1398.5" x2="210.9" y2="1398.5" stroke="#1c1c1c" stroke-width="4.3"/>
<line x1="745.5" y1="1398.5" x2="764.5" y2="1398.5" stroke="#1c1c1c" stroke-width="4.3"/>
<line x1="229.9" y1="1494.4" x2="210.9" y2="1494.4" stroke="#1c1c1c" stroke-width="4.3"/>
<line x1="745.5" y1="1494.4" x2="764.5" y2="1494.4" stroke="#1c1c1c" stroke-width="4.3"/>
<text x="310.6" y="1605.6" font-size="38.4" text-anchor="middle">-420"</text>
<text x="402.0" y="1605.6" font-size="38.4" text-anchor="middle">-400"</text>
<text x="493.4" y="1605.6" font-size="38.4" text-anchor="middle">-380"</text>
<text x="584.8" y="1605.6" font-size="38.4" text-anchor="middle">-360"</text>
<text x="676.2" y="1605.6" font-size="38.4" text-anchor="middle">-340"</text>
<text x="487.7" y="1665.6" font-size="42.2" text-anchor="middle">Solar X (arcsec)</text>
<text x="488.7" y="918.8" font-size="42.2" text-anchor="middle">d) Si IV 1394<tspan font-style="italic">Å</tspan> Line width</text>
<rect x="234.0" y="1006.4" width="507.4" height="25.4" fill="url(#cbar)" stroke="#262a2c" stroke-width="4"/>
<line x1="410.5" y1="1004.4" x2="410.5" y2="985.4" stroke="#1c1c1c" stroke-width="4.3"/>
<text x="410.5" y="962.0" font-size="38.4" text-anchor="middle">0.1</text>
<line x1="631.1" y1="1004.4" x2="631.1" y2="985.4" stroke="#1c1c1c" stroke-width="4.3"/>
<text x="631.1" y="962.0" font-size="38.4" text-anchor="middle">0.2</text>
<g id="map1"><clipPath id="mclip1"><rect x="899.1" y="1063.7" width="507.6" height="478.5"/></clipPath>
<g clip-path="url(#mclip1)">
<g filter="url(#mapf)">
<rect x="873.7" y="1039.8" width="26.0" height="24.5" fill="#424242"/>
<rect x="899.1" y="1039.8" width="26.0" height="24.5" fill="#424242"/>
<rect x="924.5" y="1039.8" width="26.0" height="24.5" fill="#1f1f1f"/>
<rect x="949.9" y="1039.8" width="26.0" height="24.5" fill="#424242"/>
<rect x="975.2" y="1039.8" width="26.0" height="24.5" fill="#424242"/>
<rect x="1000.6" y="1039.8" width="26.0" height="24.5" fill="#595959"/>
<rect x="1026.0" y="1039.8" width="26.0" height="24.5" fill="#000000"/>
<rect x="1051.4" y="1039.8" width="26.0" height="24.5" fill="#000000"/>
<rect x="1076.8" y="1039.8" width="26.0" height="24.5" fill="#000000"/>
<rect x="1102.1" y="1039.8" width="26.0" height="24.5" fill="#000000"/>
<rect x="1127.5" y="1039.8" width="26.0" height="24.5" fill="#000000"/>
<rect x="1152.9" y="1039.8" width="26.0" height="24.5" fill="#787878"/>
<rect x="1178.3" y="1039.8" width="26.0" height="24.5" fill="#595959"/>
<rect x="1203.7" y="1039.8" width="26.0" height="24.5" fill="#000000"/>
<rect x="1229.0" y="1039.8" width="26.0" height="24.5" fill="#000000"/>
<rect x="1254.4" y="1039.8" width="26.0" height="24.5" fill="#000000"/>
<rect x="1279.8" y="1039.8" width="26.0" height="24.5" fill="#000000"/>
<rect x="1305.2" y="1039.8" width="26.0" height="24.5" fill="#000000"/>
<rect x="1330.6" y="1039.8" width="26.0" height="24.5" fill="#000000"/>
<rect x="1355.9" y="1039.8" width="26.0" height="24.5" fill="#000000"/>
<rect x="1381.3" y="1039.8" width="26.0" height="24.5" fill="#000000"/>
<rect x="1406.7" y="1039.8" width="26.0" height="24.5" fill="#000000"/>
<rect x="873.7" y="1063.7" width="26.0" height="24.5" fill="#424242"/>
<rect x="899.1" y="1063.7" width="26.0" height="24.5" fill="#424242"/>
<rect x="924.5" y="1063.7" width="26.0" height="24.5" fill="#1f1f1f"/>
<rect x="949.9" y="1063.7" width="26.0" height="24.5" fill="#424242"/>
<rect x="975.2" y="1063.7" width="26.0" height="24.5" fill="#424242"/>
<rect x="1000.6" y="1063.7" width="26.0" height="24.5" fill="#595959"/>
<rect x="1026.0" y="1063.7" width="26.0" height="24.5" fill="#000000"/>
<rect x="1051.4" y="1063.7" width="26.0" height="24.5" fill="#000000"/>
<rect x="1076.8" y="1063.7" width="26.0" height="24.5" fill="#000000"/>
<rect x="1102.1" y="1063.7" width="26.0" height="24.5" fill="#000000"/>
<rect x="1127.5" y="1063.7" width="26.0" height="24.5" fill="#000000"/>
<rect x="1152.9" y="1063.7" width="26.0" height="24.5" fill="#787878"/>
<rect x="1178.3" y="1063.7" width="26.0" height="24.5" fill="#595959"/>
<rect x="1203.7" y="1063.7" width="26.0" height="24.5" fill="#000000"/>
<rect x="1229.0" y="1063.7" width="26.0" height="24.5" fill="#000000"/>
<rect x="1254.4" y="1063.7" width="26.0" height="24.5" fill="#000000"/>
<rect x="1279.8" y="1063.7" width="26.0" height="24.5" fill="#000000"/>
<rect x="1305.2" y="1063.7" width="26.0" height="24.5" fill="#000000"/>
<rect x="1330.6" y="1063.7" width="26.0" height="24.5" fill="#000000"/>
<rect x="1355.9" y="1063.7" width="26.0" height="24.5" fill="#000000"/>
<rect x="1381.3" y="1063.7" width="26.0" height="24.5" fill="#000000"/>
<rect x="1406.7" y="1063.7" width="26.0" height="24.5" fill="#000000"/>
<rect x="873.7" y="1087.6" width="26.0" height="24.5" fill="#787878"/>
<rect x="899.1" y="1087.6" width="26.0" height="24.5" fill="#787878"/>
<rect x="924.5" y="1087.6" width="26.0" height="24.5" fill="#919191"/>
<rect x="949.9" y="1087.6" width="26.0" height="24.5" fill="#595959"/>
<rect x="975.2" y="1087.6" width="26.0" height="24.5" fill="#c9c9c9"/>
<rect x="1000.6" y="1087.6" width="26.0" height="24.5" fill="#ababab"/>
<rect x="1026.0" y="1087.6" width="26.0" height="24.5" fill="#595959"/>
<rect x="1051.4" y="1087.6" width="26.0" height="24.5" fill="#000000"/>
<rect x="1076.8" y="1087.6" width="26.0" height="24.5" fill="#000000"/>
<rect x="1102.1" y="1087.6" width="26.0" height="24.5" fill="#000000"/>
<rect x="1127.5" y="1087.6" width="26.0" height="24.5" fill="#000000"/>
<rect x="1152.9" y="1087.6" width="26.0" height="24.5" fill="#787878"/>
<rect x="1178.3" y="1087.6" width="26.0" height="24.5" fill="#424242"/>
<rect x="1203.7" y="1087.6" width="26.0" height="24.5" fill="#000000"/>
<rect x="1229.0" y="1087.6" width="26.0" height="24.5" fill="#000000"/>
<rect x="1254.4" y="1087.6" width="26.0" height="24.5" fill="#000000"/>
<rect x="1279.8" y="1087.6" width="26.0" height="24.5" fill="#000000"/>
<rect x="1305.2" y="1087.6" width="26.0" height="24.5" fill="#000000"/>
<rect x="1330.6" y="1087.6" width="26.0" height="24.5" fill="#000000"/>
<rect x="1355.9" y="1087.6" width="26.0" height="24.5" fill="#000000"/>
<rect x="1381.3" y="1087.6" width="26.0" height="24.5" fill="#1f1f1f"/>
<rect x="1406.7" y="1087.6" width="26.0" height="24.5" fill="#1f1f1f"/>
<rect x="873.7" y="1111.5" width="26.0" height="24.5" fill="#919191"/>
<rect x="899.1" y="1111.5" width="26.0" height="24.5" fill="#919191"/>
<rect x="924.5" y="1111.5" width="26.0" height="24.5" fill="#919191"/>
<rect x="949.9" y="1111.5" width="26.0" height="24.5" fill="#595959"/>
<rect x="975.2" y="1111.5" width="26.0" height="24.5" fill="#787878"/>
<rect x="1000.6" y="1111.5" width="26.0" height="24.5" fill="#595959"/>
<rect x="1026.0" y="1111.5" width="26.0" height="24.5" fill="#424242"/>
<rect x="1051.4" y="1111.5" width="26.0" height="24.5" fill="#000000"/>
<rect x="1076.8" y="1111.5" width="26.0" height="24.5" fill="#000000"/>
<rect x="1102.1" y="1111.5" width="26.0" height="24.5" fill="#000000"/>
<rect x="1127.5" y="1111.5" width="26.0" height="24.5" fill="#000000"/>
<rect x="1152.9" y="1111.5" width="26.0" height="24.5" fill="#000000"/>
<rect x="1178.3" y="1111.5" width="26.0" height="24.5" fill="#000000"/>
<rect x="1203.7" y="1111.5" width="26.0" height="24.5" fill="#000000"/>
<rect x="1229.0" y="1111.5" width="26.0" height="24.5" fill="#000000"/>
<rect x="1254.4" y="1111.5" width="26.0" height="24.5" fill="#000000"/>
<rect x="1279.8" y="1111.5" width="26.0" height="24.5" fill="#000000"/>
<rect x="1305.2" y="1111.5" width="26.0" height="24.5" fill="#000000"/>
<rect x="1330.6" y="1111.5" width="26.0" height="24.5" fill="#000000"/>
<rect x="1355.9" y="1111.5" width="26.0" height="24.5" fill="#000000"/>
<rect x="1381.3" y="1111.5" width="26.0" height="24.5" fill="#000000"/>
<rect x="1406.7" y="1111.5" width="26.0" height="24.5" fill="#000000"/>
<rect x="873.7" y="1135.5" width="26.0" height="24.5" fill="#ababab"/>
<rect x="899.1" y="1135.5" width="26.0" height="24.5" fill="#ababab"/>
<rect x="924.5" y="1135.5" width="26.0" height="24.5" fill="#919191"/>
<rect x="949.9" y="1135.5" width="26.0" height="24.5" fill="#595959"/>
<rect x="975.2" y="1135.5" width="26.0" height="24.5" fill="#787878"/>
<rect x="1000.6" y="1135.5" width="26.0" height="24.5" fill="#424242"/>
<rect x="1026.0" y="1135.5" width="26.0" height="24.5" fill="#1f1f1f"/>
<rect x="1051.4" y="1135.5" width="26.0" height="24.5" fill="#1f1f1f"/>
<rect x="1076.8" y="1135.5" width="26.0" height="24.5" fill="#1f1f1f"/>
<rect x="1102.1" y="1135.5" width="26.0" height="24.5" fill="#000000"/>
<rect x="1127.5" y="1135.5" width="26.0" height="24.5" fill="#000000"/>
<rect x="1152.9" y="1135.5" width="26.0" height="24.5" fill="#000000"/>
<rect x="1178.3" y="1135.5" width="26.0" height="24.5" fill="#000000"/>
<rect x="1203.7" y="1135.5" width="26.0" height="24.5" fill="#000000"/>
<rect x="1229.0" y="1135.5" width="26.0" height="24.5" fill="#000000"/>
<rect x="1254.4" y="1135.5" width="26.0" height="24.5" fill="#000000"/>
<rect x="1279.8" y="1135.5" width="26.0" height="24.5" fill="#000000"/>
<rect x="1305.2" y="1135.5" width="26.0" height="24.5" fill="#000000"/>
<rect x="1330.6" y="1135.5" width="26.0" height="24.5" fill="#000000"/>
<rect x="1355.9" y="1135.5" width="26.0" height="24.5" fill="#000000"/>
<rect x="1381.3" y="1135.5" width="26.0" height="24.5" fill="#000000"/>
<rect x="1406.7" y="1135.5" width="26.0" height="24.5" fill="#000000"/>
<rect x="873.7" y="1159.4" width="26.0" height="24.5" fill="#ababab"/>
<rect x="899.1" y="1159.4" width="26.0" height="24.5" fill="#ababab"/>
<rect x="924.5" y="1159.4" width="26.0" height="24.5" fill="#ababab"/>
<rect x="949.9" y="1159.4" width="26.0" height="24.5" fill="#424242"/>
<rect x="975.2" y="1159.4" width="26.0" height="24.5" fill="#595959"/>
<rect x="1000.6" y="1159.4" width="26.0" height="24.5" fill="#424242"/>
<rect x="1026.0" y="1159.4" width="26.0" height="24.5" fill="#1f1f1f"/>
<rect x="1051.4" y="1159.4" width="26.0" height="24.5" fill="#424242"/>
<rect x="1076.8" y="1159.4" width="26.0" height="24.5" fill="#1f1f1f"/>
<rect x="1102.1" y="1159.4" width="26.0" height="24.5" fill="#000000"/>
<rect x="1127.5" y="1159.4" width="26.0" height="24.5" fill="#000000"/>
<rect x="1152.9" y="1159.4" width="26.0" height="24.5" fill="#000000"/>
<rect x="1178.3" y="1159.4" width="26.0" height="24.5" fill="#000000"/>
<rect x="1203.7" y="1159.4" width="26.0" height="24.5" fill="#1f1f1f"/>
<rect x="1229.0" y="1159.4" width="26.0" height="24.5" fill="#1f1f1f"/>
<rect x="1254.4" y="1159.4" width="26.0" height="24.5" fill="#595959"/>
<rect x="1279.8" y="1159.4" width="26.0" height="24.5" fill="#000000"/>
<rect x="1305.2" y="1159.4" width="26.0" height="24.5" fill="#595959"/>
<rect x="1330.6" y="1159.4" width="26.0" height="24.5" fill="#1f1f1f"/>
<rect x="1355.9" y="1159.4" width="26.0" height="24.5" fill="#000000"/>
<rect x="1381.3" y="1159.4" width="26.0" height="24.5" fill="#000000"/>
<rect x="1406.7" y="1159.4" width="26.0" height="24.5" fill="#000000"/>
<rect x="873.7" y="1183.3" width="26.0" height="24.5" fill="#919191"/>
<rect x="899.1" y="1183.3" width="26.0" height="24.5" fill="#919191"/>
<rect x="924.5" y="1183.3" width="26.0" height="24.5" fill="#919191"/>
<rect x="949.9" y="1183.3" width="26.0" height="24.5" fill="#424242"/>
<rect x="975.2" y="1183.3" width="26.0" height="24.5" fill="#424242"/>
<rect x="1000.6" y="1183.3" width="26.0" height="24.5" fill="#595959"/>
<rect x="1026.0" y="1183.3" width="26.0" height="24.5" fill="#787878"/>
<rect x="1051.4" y="1183.3" width="26.0" height="24.5" fill="#424242"/>
<rect x="1076.8" y="1183.3" width="26.0" height="24.5" fill="#1f1f1f"/>
<rect x="1102.1" y="1183.3" width="26.0" height="24.5" fill="#1f1f1f"/>
<rect x="1127.5" y="1183.3" width="26.0" height="24.5" fill="#595959"/>
<rect x="1152.9" y="1183.3" width="26.0" height="24.5" fill="#424242"/>
<rect x="1178.3" y="1183.3" width="26.0" height="24.5" fill="#1f1f1f"/>
<rect x="1203.7" y="1183.3" width="26.0" height="24.5" fill="#595959"/>
<rect x="1229.0" y="1183.3" width="26.0" height="24.5" fill="#787878"/>
<rect x="1254.4" y="1183.3" width="26.0" height="24.5" fill="#787878"/>
<rect x="1279.8" y="1183.3" width="26.0" height="24.5" fill="#787878"/>
<rect x="1305.2" y="1183.3" width="26.0" height="24.5" fill="#424242"/>
<rect x="1330.6" y="1183.3" width="26.0" height="24.5" fill="#1f1f1f"/>
<rect x="1355.9" y="1183.3" width="26.0" height="24.5" fill="#424242"/>
<rect x="1381.3" y="1183.3" width="26.0" height="24.5" fill="#424242"/>
<rect x="1406.7" y="1183.3" width="26.0" height="24.5" fill="#424242"/>
<rect x="873.7" y="1207.2" width="26.0" height="24.5" fill="#919191"/>
<rect x="899.1" y="1207.2" width="26.0" height="24.5" fill="#919191"/>
<rect x="924.5" y="1207.2" width="26.0" height="24.5" fill="#787878"/>
<rect x="949.9" y="1207.2" width="26.0" height="24.5" fill="#919191"/>
<rect x="975.2" y="1207.2" width="26.0" height="24.5" fill="#919191"/>
<rect x="1000.6" y="1207.2" width="26.0" height="24.5" fill="#c9c9c9"/>
<rect x="1026.0" y="1207.2" width="26.0" height="24.5" fill="#787878"/>
<rect x="1051.4" y="1207.2" width="26.0" height="24.5" fill="#424242"/>
<rect x="1076.8" y="1207.2" width="26.0" height="24.5" fill="#424242"/>
<rect x="1102.1" y="1207.2" width="26.0" height="24.5" fill="#787878"/>
<rect x="1127.5" y="1207.2" width="26.0" height="24.5" fill="#595959"/>
<rect x="1152.9" y="1207.2" width="26.0" height="24.5" fill="#595959"/>
<rect x="1178.3" y="1207.2" width="26.0" height="24.5" fill="#595959"/>
<rect x="1203.7" y="1207.2" width="26.0" height="24.5" fill="#787878"/>
<rect x="1229.0" y="1207.2" width="26.0" height="24.5" fill="#919191"/>
<rect x="1254.4" y="1207.2" width="26.0" height="24.5" fill="#919191"/>
<rect x="1279.8" y="1207.2" width="26.0" height="24.5" fill="#787878"/>
<rect x="1305.2" y="1207.2" width="26.0" height="24.5" fill="#595959"/>
<rect x="1330.6" y="1207.2" width="26.0" height="24.5" fill="#787878"/>
<rect x="1355.9" y="1207.2" width="26.0" height="24.5" fill="#919191"/>
<rect x="1381.3" y="1207.2" width="26.0" height="24.5" fill="#ababab"/>
<rect x="1406.7" y="1207.2" width="26.0" height="24.5" fill="#ababab"/>
<rect x="873.7" y="1231.2" width="26.0" height="24.5" fill="#595959"/>
<rect x="899.1" y="1231.2" width="26.0" height="24.5" fill="#595959"/>
<rect x="924.5" y="1231.2" width="26.0" height="24.5" fill="#919191"/>
<rect x="949.9" y="1231.2" width="26.0" height="24.5" fill="#ababab"/>
<rect x="975.2" y="1231.2" width="26.0" height="24.5" fill="#c9c9c9"/>
<rect x="1000.6" y="1231.2" width="26.0" height="24.5" fill="#424242"/>
<rect x="1026.0" y="1231.2" width="26.0" height="24.5" fill="#595959"/>
<rect x="1051.4" y="1231.2" width="26.0" height="24.5" fill="#595959"/>
<rect x="1076.8" y="1231.2" width="26.0" height="24.5" fill="#000000"/>
<rect x="1102.1" y="1231.2" width="26.0" height="24.5" fill="#595959"/>
<rect x="1127.5" y="1231.2" width="26.0" height="24.5" fill="#787878"/>
<rect x="1152.9" y="1231.2" width="26.0" height="24.5" fill="#787878"/>
<rect x="1178.3" y="1231.2" width="26.0" height="24.5" fill="#787878"/>
<rect x="1203.7" y="1231.2" width="26.0" height="24.5" fill="#787878"/>
<rect x="1229.0" y="1231.2" width="26.0" height="24.5" fill="#919191"/>
<rect x="1254.4" y="1231.2" width="26.0" height="24.5" fill="#919191"/>
<rect x="1279.8" y="1231.2" width="26.0" height="24.5" fill="#919191"/>
<rect x="1305.2" y="1231.2" width="26.0" height="24.5" fill="#ababab"/>
<rect x="1330.6" y="1231.2" width="26.0" height="24.5" fill="#c9c9c9"/>
<rect x="1355.9" y="1231.2" width="26.0" height="24.5" fill="#595959"/>
<rect x="1381.3" y="1231.2" width="26.0" height="24.5" fill="#919191"/>
<rect x="1406.7" y="1231.2" width="26.0" height="24.5" fill="#919191"/>
<rect x="873.7" y="1255.1" width="26.0" height="24.5" fill="#ababab"/>
<rect x="899.1" y="1255.1" width="26.0" height="24.5" fill="#ababab"/>
<rect x="924.5" y="1255.1" width="26.0" height="24.5" fill="#ababab"/>
<rect x="949.9" y="1255.1" width="26.0" height="24.5" fill="#c9c9c9"/>
<rect x="975.2" y="1255.1" width="26.0" height="24.5" fill="#c9c9c9"/>
<rect x="1000.6" y="1255.1" width="26.0" height="24.5" fill="#595959"/>
<rect x="1026.0" y="1255.1" width="26.0" height="24.5" fill="#424242"/>
<rect x="1051.4" y="1255.1" width="26.0" height="24.5" fill="#424242"/>
<rect x="1076.8" y="1255.1" width="26.0" height="24.5" fill="#424242"/>
<rect x="1102.1" y="1255.1" width="26.0" height="24.5" fill="#595959"/>
<rect x="1127.5" y="1255.1" width="26.0" height="24.5" fill="#787878"/>
<rect x="1152.9" y="1255.1" width="26.0" height="24.5" fill="#595959"/>
<rect x="1178.3" y="1255.1" width="26.0" height="24.5" fill="#919191"/>
<rect x="1203.7" y="1255.1" width="26.0" height="24.5" fill="#787878"/>
<rect x="1229.0" y="1255.1" width="26.0" height="24.5" fill="#595959"/>
<rect x="1254.4" y="1255.1" width="26.0" height="24.5" fill="#c9c9c9"/>
<rect x="1279.8" y="1255.1" width="26.0" height="24.5" fill="#919191"/>
<rect x="1305.2" y="1255.1" width="26.0" height="24.5" fill="#787878"/>
<rect x="1330.6" y="1255.1" width="26.0" height="24.5" fill="#595959"/>
<rect x="1355.9" y="1255.1" width="26.0" height="24.5" fill="#424242"/>
<rect x="1381.3" y="1255.1" width="26.0" height="24.5" fill="#787878"/>
<rect x="1406.7" y="1255.1" width="26.0" height="24.5" fill="#787878"/>
<rect x="873.7" y="1279.0" width="26.0" height="24.5" fill="#ababab"/>
<rect x="899.1" y="1279.0" width="26.0" height="24.5" fill="#ababab"/>
<rect x="924.5" y="1279.0" width="26.0" height="24.5" fill="#c9c9c9"/>
<rect x="949.9" y="1279.0" width="26.0" height="24.5" fill="#c9c9c9"/>
<rect x="975.2" y="1279.0" width="26.0" height="24.5" fill="#c9c9c9"/>
<rect x="1000.6" y="1279.0" width="26.0" height="24.5" fill="#787878"/>
<rect x="1026.0" y="1279.0" width="26.0" height="24.5" fill="#787878"/>
<rect x="1051.4" y="1279.0" width="26.0" height="24.5" fill="#424242"/>
<rect x="1076.8" y="1279.0" width="26.0" height="24.5" fill="#424242"/>
<rect x="1102.1" y="1279.0" width="26.0" height="24.5" fill="#595959"/>
<rect x="1127.5" y="1279.0" width="26.0" height="24.5" fill="#595959"/>
<rect x="1152.9" y="1279.0" width="26.0" height="24.5" fill="#595959"/>
<rect x="1178.3" y="1279.0" width="26.0" height="24.5" fill="#919191"/>
<rect x="1203.7" y="1279.0" width="26.0" height="24.5" fill="#919191"/>
<rect x="1229.0" y="1279.0" width="26.0" height="24.5" fill="#595959"/>
<rect x="1254.4" y="1279.0" width="26.0" height="24.5" fill="#ababab"/>
<rect x="1279.8" y="1279.0" width="26.0" height="24.5" fill="#c9c9c9"/>
<rect x="1305.2" y="1279.0" width="26.0" height="24.5" fill="#595959"/>
<rect x="1330.6" y="1279.0" width="26.0" height="24.5" fill="#424242"/>
<rect x="1355.9" y="1279.0" width="26.0" height="24.5" fill="#787878"/>
<rect x="1381.3" y="1279.0" width="26.0" height="24.5" fill="#595959"/>
<rect x="1406.7" y="1279.0" width="26.0" height="24.5" fill="#595959"/>
<rect x="873.7" y="1303.0" width="26.0" height="24.5" fill="#ababab"/>
<rect x="899.1" y="1303.0" width="26.0" height="24.5" fill="#ababab"/>
<rect x="924.5" y="1303.0" width="26.0" height="24.5" fill="#ababab"/>
<rect x="949.9" y="1303.0" width="26.0" height="24.5" fill="#919191"/>
<rect x="975.2" y="1303.0" width="26.0" height="24.5" fill="#424242"/>
<rect x="1000.6" y="1303.0" width="26.0" height="24.5" fill="#424242"/>
<rect x="1026.0" y="1303.0" width="26.0" height="24.5" fill="#787878"/>
<rect x="1051.4" y="1303.0" width="26.0" height="24.5" fill="#787878"/>
<rect x="1076.8" y="1303.0" width="26.0" height="24.5" fill="#919191"/>
<rect x="1102.1" y="1303.0" width="26.0" height="24.5" fill="#c9c9c9"/>
<rect x="1127.5" y="1303.0" width="26.0" height="24.5" fill="#787878"/>
<rect x="1152.9" y="1303.0" width="26.0" height="24.5" fill="#787878"/>
<rect x="1178.3" y="1303.0" width="26.0" height="24.5" fill="#595959"/>
<rect x="1203.7" y="1303.0" width="26.0" height="24.5" fill="#595959"/>
<rect x="1229.0" y="1303.0" width="26.0" height="24.5" fill="#787878"/>
<rect x="1254.4" y="1303.0" width="26.0" height="24.5" fill="#595959"/>
<rect x="1279.8" y="1303.0" width="26.0" height="24.5" fill="#787878"/>
<rect x="1305.2" y="1303.0" width="26.0" height="24.5" fill="#919191"/>
<rect x="1330.6" y="1303.0" width="26.0" height="24.5" fill="#424242"/>
<rect x="1355.9" y="1303.0" width="26.0" height="24.5" fill="#1f1f1f"/>
<rect x="1381.3" y="1303.0" width="26.0" height="24.5" fill="#000000"/>
<rect x="1406.7" y="1303.0" width="26.0" height="24.5" fill="#000000"/>
<rect x="873.7" y="1326.9" width="26.0" height="24.5" fill="#919191"/>
<rect x="899.1" y="1326.9" width="26.0" height="24.5" fill="#919191"/>
<rect x="924.5" y="1326.9" width="26.0" height="24.5" fill="#919191"/>
<rect x="949.9" y="1326.9" width="26.0" height="24.5" fill="#ababab"/>
<rect x="975.2" y="1326.9" width="26.0" height="24.5" fill="#595959"/>
<rect x="1000.6" y="1326.9" width="26.0" height="24.5" fill="#787878"/>
<rect x="1026.0" y="1326.9" width="26.0" height="24.5" fill="#595959"/>
<rect x="1051.4" y="1326.9" width="26.0" height="24.5" fill="#787878"/>
<rect x="1076.8" y="1326.9" width="26.0" height="24.5" fill="#595959"/>
<rect x="1102.1" y="1326.9" width="26.0" height="24.5" fill="#919191"/>
<rect x="1127.5" y="1326.9" width="26.0" height="24.5" fill="#595959"/>
<rect x="1152.9" y="1326.9" width="26.0" height="24.5" fill="#919191"/>
<rect x="1178.3" y="1326.9" width="26.0" height="24.5" fill="#595959"/>
<rect x="1203.7" y="1326.9" width="26.0" height="24.5" fill="#424242"/>
<rect x="1229.0" y="1326.9" width="26.0" height="24.5" fill="#595959"/>
<rect x="1254.4" y="1326.9" width="26.0" height="24.5" fill="#595959"/>
<rect x="1279.8" y="1326.9" width="26.0" height="24.5" fill="#919191"/>
<rect x="1305.2" y="1326.9" width="26.0" height="24.5" fill="#787878"/>
<rect x="1330.6" y="1326.9" width="26.0" height="24.5" fill="#787878"/>
<rect x="1355.9" y="1326.9" width="26.0" height="24.5" fill="#1f1f1f"/>
<rect x="1381.3" y="1326.9" width="26.0" height="24.5" fill="#000000"/>
<rect x="1406.7" y="1326.9" width="26.0" height="24.5" fill="#000000"/>
<rect x="873.7" y="1350.8" width="26.0" height="24.5" fill="#595959"/>
<rect x="899.1" y="1350.8" width="26.0" height="24.5" fill="#595959"/>
<rect x="924.5" y="1350.8" width="26.0" height="24.5" fill="#1f1f1f"/>
<rect x="949.9" y="1350.8" width="26.0" height="24.5" fill="#ababab"/>
<rect x="975.2" y="1350.8" width="26.0" height="24.5" fill="#919191"/>
<rect x="1000.6" y="1350.8" width="26.0" height="24.5" fill="#1f1f1f"/>
<rect x="1026.0" y="1350.8" width="26.0" height="24.5" fill="#787878"/>
<rect x="1051.4" y="1350.8" width="26.0" height="24.5" fill="#787878"/>
<rect x="1076.8" y="1350.8" width="26.0" height="24.5" fill="#787878"/>
<rect x="1102.1" y="1350.8" width="26.0" height="24.5" fill="#595959"/>
<rect x="1127.5" y="1350.8" width="26.0" height="24.5" fill="#787878"/>
<rect x="1152.9" y="1350.8" width="26.0" height="24.5" fill="#787878"/>
<rect x="1178.3" y="1350.8" width="26.0" height="24.5" fill="#595959"/>
<rect x="1203.7" y="1350.8" width="26.0" height="24.5" fill="#424242"/>
<rect x="1229.0" y="1350.8" width="26.0" height="24.5" fill="#595959"/>
<rect x="1254.4" y="1350.8" width="26.0" height="24.5" fill="#424242"/>
<rect x="1279.8" y="1350.8" width="26.0" height="24.5" fill="#595959"/>
<rect x="1305.2" y="1350.8" width="26.0" height="24.5" fill="#595959"/>
<rect x="1330.6" y="1350.8" width="26.0" height="24.5" fill="#595959"/>
<rect x="1355.9" y="1350.8" width="26.0" height="24.5" fill="#1f1f1f"/>
<rect x="1381.3" y="1350.8" width="26.0" height="24.5" fill="#000000"/>
<rect x="1406.7" y="1350.8" width="26.0" height="24.5" fill="#000000"/>
<rect x="873.7" y="1374.7" width="26.0" height="24.5" fill="#787878"/>
<rect x="899.1" y="1374.7" width="26.0" height="24.5" fill="#787878"/>
<rect x="924.5" y="1374.7" width="26.0" height="24.5" fill="#424242"/>
<rect x="949.9" y="1374.7" width="26.0" height="24.5" fill="#919191"/>
<rect x="975.2" y="1374.7" width="26.0" height="24.5" fill="#424242"/>
<rect x="1000.6" y="1374.7" width="26.0" height="24.5" fill="#1f1f1f"/>
<rect x="1026.0" y="1374.7" width="26.0" height="24.5" fill="#595959"/>
<rect x="1051.4" y="1374.7" width="26.0" height="24.5" fill="#787878"/>
<rect x="1076.8" y="1374.7" width="26.0" height="24.5" fill="#919191"/>
<rect x="1102.1" y="1374.7" width="26.0" height="24.5" fill="#787878"/>
<rect x="1127.5" y="1374.7" width="26.0" height="24.5" fill="#919191"/>
<rect x="1152.9" y="1374.7" width="26.0" height="24.5" fill="#595959"/>
<rect x="1178.3" y="1374.7" width="26.0" height="24.5" fill="#787878"/>
<rect x="1203.7" y="1374.7" width="26.0" height="24.5" fill="#595959"/>
<rect x="1229.0" y="1374.7" width="26.0" height="24.5" fill="#595959"/>
<rect x="1254.4" y="1374.7" width="26.0" height="24.5" fill="#424242"/>
<rect x="1279.8" y="1374.7" width="26.0" height="24.5" fill="#424242"/>
<rect x="1305.2" y="1374.7" width="26.0" height="24.5" fill="#595959"/>
<rect x="1330.6" y="1374.7" width="26.0" height="24.5" fill="#595959"/>
<rect x="1355.9" y="1374.7" width="26.0" height="24.5" fill="#595959"/>
<rect x="1381.3" y="1374.7" width="26.0" height="24.5" fill="#000000"/>
<rect x="1406.7" y="1374.7" width="26.0" height="24.5" fill="#000000"/>
<rect x="873.7" y="1398.7" width="26.0" height="24.5" fill="#919191"/>
<rect x="899.1" y="1398.7" width="26.0" height="24.5" fill="#919191"/>
<rect x="924.5" y="1398.7" width="26.0" height="24.5" fill="#787878"/>
<rect x="949.9" y="1398.7" width="26.0" height="24.5" fill="#919191"/>
<rect x="975.2" y="1398.7" width="26.0" height="24.5" fill="#424242"/>
<rect x="1000.6" y="1398.7" width="26.0" height="24.5" fill="#1f1f1f"/>
<rect x="1026.0" y="1398.7" width="26.0" height="24.5" fill="#595959"/>
<rect x="1051.4" y="1398.7" width="26.0" height="24.5" fill="#787878"/>
<rect x="1076.8" y="1398.7" width="26.0" height="24.5" fill="#787878"/>
<rect x="1102.1" y="1398.7" width="26.0" height="24.5" fill="#919191"/>
<rect x="1127.5" y="1398.7" width="26.0" height="24.5" fill="#ababab"/>
<rect x="1152.9" y="1398.7" width="26.0" height="24.5" fill="#787878"/>
<rect x="1178.3" y="1398.7" width="26.0" height="24.5" fill="#919191"/>
<rect x="1203.7" y="1398.7" width="26.0" height="24.5" fill="#c9c9c9"/>
<rect x="1229.0" y="1398.7" width="26.0" height="24.5" fill="#787878"/>
<rect x="1254.4" y="1398.7" width="26.0" height="24.5" fill="#595959"/>
<rect x="1279.8" y="1398.7" width="26.0" height="24.5" fill="#919191"/>
<rect x="1305.2" y="1398.7" width="26.0" height="24.5" fill="#595959"/>
<rect x="1330.6" y="1398.7" width="26.0" height="24.5" fill="#919191"/>
<rect x="1355.9" y="1398.7" width="26.0" height="24.5" fill="#919191"/>
<rect x="1381.3" y="1398.7" width="26.0" height="24.5" fill="#595959"/>
<rect x="1406.7" y="1398.7" width="26.0" height="24.5" fill="#595959"/>
<rect x="873.7" y="1422.6" width="26.0" height="24.5" fill="#ababab"/>
<rect x="899.1" y="1422.6" width="26.0" height="24.5" fill="#ababab"/>
<rect x="924.5" y="1422.6" width="26.0" height="24.5" fill="#ababab"/>
<rect x="949.9" y="1422.6" width="26.0" height="24.5" fill="#595959"/>
<rect x="975.2" y="1422.6" width="26.0" height="24.5" fill="#919191"/>
<rect x="1000.6" y="1422.6" width="26.0" height="24.5" fill="#919191"/>
<rect x="1026.0" y="1422.6" width="26.0" height="24.5" fill="#787878"/>
<rect x="1051.4" y="1422.6" width="26.0" height="24.5" fill="#919191"/>
<rect x="1076.8" y="1422.6" width="26.0" height="24.5" fill="#787878"/>
<rect x="1102.1" y="1422.6" width="26.0" height="24.5" fill="#919191"/>
<rect x="1127.5" y="1422.6" width="26.0" height="24.5" fill="#ababab"/>
<rect x="1152.9" y="1422.6" width="26.0" height="24.5" fill="#c9c9c9"/>
<rect x="1178.3" y="1422.6" width="26.0" height="24.5" fill="#ababab"/>
<rect x="1203.7" y="1422.6" width="26.0" height="24.5" fill="#595959"/>
<rect x="1229.0" y="1422.6" width="26.0" height="24.5" fill="#919191"/>
<rect x="1254.4" y="1422.6" width="26.0" height="24.5" fill="#919191"/>
<rect x="1279.8" y="1422.6" width="26.0" height="24.5" fill="#ababab"/>
<rect x="1305.2" y="1422.6" width="26.0" height="24.5" fill="#ababab"/>
<rect x="1330.6" y="1422.6" width="26.0" height="24.5" fill="#ababab"/>
<rect x="1355.9" y="1422.6" width="26.0" height="24.5" fill="#787878"/>
<rect x="1381.3" y="1422.6" width="26.0" height="24.5" fill="#1f1f1f"/>
<rect x="1406.7" y="1422.6" width="26.0" height="24.5" fill="#1f1f1f"/>
<rect x="873.7" y="1446.5" width="26.0" height="24.5" fill="#919191"/>
<rect x="899.1" y="1446.5" width="26.0" height="24.5" fill="#919191"/>
<rect x="924.5" y="1446.5" width="26.0" height="24.5" fill="#e8e8e8"/>
<rect x="949.9" y="1446.5" width="26.0" height="24.5" fill="#424242"/>
<rect x="975.2" y="1446.5" width="26.0" height="24.5" fill="#595959"/>
<rect x="1000.6" y="1446.5" width="26.0" height="24.5" fill="#919191"/>
<rect x="1026.0" y="1446.5" width="26.0" height="24.5" fill="#c9c9c9"/>
<rect x="1051.4" y="1446.5" width="26.0" height="24.5" fill="#ababab"/>
<rect x="1076.8" y="1446.5" width="26.0" height="24.5" fill="#c9c9c9"/>
<rect x="1102.1" y="1446.5" width="26.0" height="24.5" fill="#787878"/>
<rect x="1127.5" y="1446.5" width="26.0" height="24.5" fill="#595959"/>
<rect x="1152.9" y="1446.5" width="26.0" height="24.5" fill="#ababab"/>
<rect x="1178.3" y="1446.5" width="26.0" height="24.5" fill="#595959"/>
<rect x="1203.7" y="1446.5" width="26.0" height="24.5" fill="#000000"/>
<rect x="1229.0" y="1446.5" width="26.0" height="24.5" fill="#1f1f1f"/>
<rect x="1254.4" y="1446.5" width="26.0" height="24.5" fill="#424242"/>
<rect x="1279.8" y="1446.5" width="26.0" height="24.5" fill="#ababab"/>
<rect x="1305.2" y="1446.5" width="26.0" height="24.5" fill="#787878"/>
<rect x="1330.6" y="1446.5" width="26.0" height="24.5" fill="#787878"/>
<rect x="1355.9" y="1446.5" width="26.0" height="24.5" fill="#919191"/>
<rect x="1381.3" y="1446.5" width="26.0" height="24.5" fill="#1f1f1f"/>
<rect x="1406.7" y="1446.5" width="26.0" height="24.5" fill="#1f1f1f"/>
<rect x="873.7" y="1470.4" width="26.0" height="24.5" fill="#1f1f1f"/>
<rect x="899.1" y="1470.4" width="26.0" height="24.5" fill="#1f1f1f"/>
<rect x="924.5" y="1470.4" width="26.0" height="24.5" fill="#424242"/>
<rect x="949.9" y="1470.4" width="26.0" height="24.5" fill="#787878"/>
<rect x="975.2" y="1470.4" width="26.0" height="24.5" fill="#787878"/>
<rect x="1000.6" y="1470.4" width="26.0" height="24.5" fill="#595959"/>
<rect x="1026.0" y="1470.4" width="26.0" height="24.5" fill="#1f1f1f"/>
<rect x="1051.4" y="1470.4" width="26.0" height="24.5" fill="#000000"/>
<rect x="1076.8" y="1470.4" width="26.0" height="24.5" fill="#000000"/>
<rect x="1102.1" y="1470.4" width="26.0" height="24.5" fill="#000000"/>
<rect x="1127.5" y="1470.4" width="26.0" height="24.5" fill="#1f1f1f"/>
<rect x="1152.9" y="1470.4" width="26.0" height="24.5" fill="#424242"/>
<rect x="1178.3" y="1470.4" width="26.0" height="24.5" fill="#1f1f1f"/>
<rect x="1203.7" y="1470.4" width="26.0" height="24.5" fill="#000000"/>
<rect x="1229.0" y="1470.4" width="26.0" height="24.5" fill="#000000"/>
<rect x="1254.4" y="1470.4" width="26.0" height="24.5" fill="#424242"/>
<rect x="1279.8" y="1470.4" width="26.0" height="24.5" fill="#ababab"/>
<rect x="1305.2" y="1470.4" width="26.0" height="24.5" fill="#787878"/>
<rect x="1330.6" y="1470.4" width="26.0" height="24.5" fill="#787878"/>
<rect x="1355.9" y="1470.4" width="26.0" height="24.5" fill="#1f1f1f"/>
<rect x="1381.3" y="1470.4" width="26.0" height="24.5" fill="#000000"/>
<rect x="1406.7" y="1470.4" width="26.0" height="24.5" fill="#000000"/>
<rect x="873.7" y="1494.4" width="26.0" height="24.5" fill="#424242"/>
<rect x="899.1" y="1494.4" width="26.0" height="24.5" fill="#424242"/>
<rect x="924.5" y="1494.4" width="26.0" height="24.5" fill="#595959"/>
<rect x="949.9" y="1494.4" width="26.0" height="24.5" fill="#595959"/>
<rect x="975.2" y="1494.4" width="26.0" height="24.5" fill="#424242"/>
<rect x="1000.6" y="1494.4" width="26.0" height="24.5" fill="#1f1f1f"/>
<rect x="1026.0" y="1494.4" width="26.0" height="24.5" fill="#000000"/>
<rect x="1051.4" y="1494.4" width="26.0" height="24.5" fill="#000000"/>
<rect x="1076.8" y="1494.4" width="26.0" height="24.5" fill="#000000"/>
<rect x="1102.1" y="1494.4" width="26.0" height="24.5" fill="#000000"/>
<rect x="1127.5" y="1494.4" width="26.0" height="24.5" fill="#000000"/>
<rect x="1152.9" y="1494.4" width="26.0" height="24.5" fill="#595959"/>
<rect x="1178.3" y="1494.4" width="26.0" height="24.5" fill="#1f1f1f"/>
<rect x="1203.7" y="1494.4" width="26.0" height="24.5" fill="#000000"/>
<rect x="1229.0" y="1494.4" width="26.0" height="24.5" fill="#000000"/>
<rect x="1254.4" y="1494.4" width="26.0" height="24.5" fill="#1f1f1f"/>
<rect x="1279.8" y="1494.4" width="26.0" height="24.5" fill="#919191"/>
<rect x="1305.2" y="1494.4" width="26.0" height="24.5" fill="#787878"/>
<rect x="1330.6" y="1494.4" width="26.0" height="24.5" fill="#787878"/>
<rect x="1355.9" y="1494.4" width="26.0" height="24.5" fill="#1f1f1f"/>
<rect x="1381.3" y="1494.4" width="26.0" height="24.5" fill="#000000"/>
<rect x="1406.7" y="1494.4" width="26.0" height="24.5" fill="#000000"/>
<rect x="873.7" y="1518.3" width="26.0" height="24.5" fill="#787878"/>
<rect x="899.1" y="1518.3" width="26.0" height="24.5" fill="#787878"/>
<rect x="924.5" y="1518.3" width="26.0" height="24.5" fill="#595959"/>
<rect x="949.9" y="1518.3" width="26.0" height="24.5" fill="#1f1f1f"/>
<rect x="975.2" y="1518.3" width="26.0" height="24.5" fill="#1f1f1f"/>
<rect x="1000.6" y="1518.3" width="26.0" height="24.5" fill="#000000"/>
<rect x="1026.0" y="1518.3" width="26.0" height="24.5" fill="#000000"/>
<rect x="1051.4" y="1518.3" width="26.0" height="24.5" fill="#000000"/>
<rect x="1076.8" y="1518.3" width="26.0" height="24.5" fill="#000000"/>
<rect x="1102.1" y="1518.3" width="26.0" height="24.5" fill="#000000"/>
<rect x="1127.5" y="1518.3" width="26.0" height="24.5" fill="#000000"/>
<rect x="1152.9" y="1518.3" width="26.0" height="24.5" fill="#1f1f1f"/>
<rect x="1178.3" y="1518.3" width="26.0" height="24.5" fill="#000000"/>
<rect x="1203.7" y="1518.3" width="26.0" height="24.5" fill="#000000"/>
<rect x="1229.0" y="1518.3" width="26.0" height="24.5" fill="#000000"/>
<rect x="1254.4" y="1518.3" width="26.0" height="24.5" fill="#000000"/>
<rect x="1279.8" y="1518.3" width="26.0" height="24.5" fill="#1f1f1f"/>
<rect x="1305.2" y="1518.3" width="26.0" height="24.5" fill="#424242"/>
<rect x="1330.6" y="1518.3" width="26.0" height="24.5" fill="#424242"/>
<rect x="1355.9" y="1518.3" width="26.0" height="24.5" fill="#1f1f1f"/>
<rect x="1381.3" y="1518.3" width="26.0" height="24.5" fill="#000000"/>
<rect x="1406.7" y="1518.3" width="26.0" height="24.5" fill="#000000"/>
<rect x="873.7" y="1542.2" width="26.0" height="24.5" fill="#787878"/>
<rect x="899.1" y="1542.2" width="26.0" height="24.5" fill="#787878"/>
<rect x="924.5" y="1542.2" width="26.0" height="24.5" fill="#595959"/>
<rect x="949.9" y="1542.2" width="26.0" height="24.5" fill="#1f1f1f"/>
<rect x="975.2" y="1542.2" width="26.0" height="24.5" fill="#1f1f1f"/>
<rect x="1000.6" y="1542.2" width="26.0" height="24.5" fill="#000000"/>
<rect x="1026.0" y="1542.2" width="26.0" height="24.5" fill="#000000"/>
<rect x="1051.4" y="1542.2" width="26.0" height="24.5" fill="#000000"/>
<rect x="1076.8" y="1542.2" width="26.0" height="24.5" fill="#000000"/>
<rect x="1102.1" y="1542.2" width="26.0" height="24.5" fill="#000000"/>
<rect x="1127.5" y="1542.2" width="26.0" height="24.5" fill="#000000"/>
<rect x="1152.9" y="1542.2" width="26.0" height="24.5" fill="#1f1f1f"/>
<rect x="1178.3" y="1542.2" width="26.0" height="24.5" fill="#000000"/>
<rect x="1203.7" y="1542.2" width="26.0" height="24.5" fill="#000000"/>
<rect x="1229.0" y="1542.2" width="26.0" height="24.5" fill="#000000"/>
<rect x="1254.4" y="1542.2" width="26.0" height="24.5" fill="#000000"/>
<rect x="1279.8" y="1542.2" width="26.0" height="24.5" fill="#1f1f1f"/>
<rect x="1305.2" y="1542.2" width="26.0" height="24.5" fill="#424242"/>
<rect x="1330.6" y="1542.2" width="26.0" height="24.5" fill="#424242"/>
<rect x="1355.9" y="1542.2" width="26.0" height="24.5" fill="#1f1f1f"/>
<rect x="1381.3" y="1542.2" width="26.0" height="24.5" fill="#000000"/>
<rect x="1406.7" y="1542.2" width="26.0" height="24.5" fill="#000000"/>
</g>
<line x1="975.8" y1="1063.7" x2="975.8" y2="1542.2" stroke="#fff" stroke-width="1.6" stroke-dasharray="2 3" opacity="0.45"/>
<line x1="1067.2" y1="1063.7" x2="1067.2" y2="1542.2" stroke="#fff" stroke-width="1.6" stroke-dasharray="2 3" opacity="0.45"/>
<line x1="1158.6" y1="1063.7" x2="1158.6" y2="1542.2" stroke="#fff" stroke-width="1.6" stroke-dasharray="2 3" opacity="0.45"/>
<line x1="1250.0" y1="1063.7" x2="1250.0" y2="1542.2" stroke="#fff" stroke-width="1.6" stroke-dasharray="2 3" opacity="0.45"/>
<line x1="1341.4" y1="1063.7" x2="1341.4" y2="1542.2" stroke="#fff" stroke-width="1.6" stroke-dasharray="2 3" opacity="0.45"/>
<line x1="899.1" y1="1110.8" x2="1406.7" y2="1110.8" stroke="#fff" stroke-width="1.6" stroke-dasharray="2 3" opacity="0.45"/>
<line x1="899.1" y1="1206.7" x2="1406.7" y2="1206.7" stroke="#fff" stroke-width="1.6" stroke-dasharray="2 3" opacity="0.45"/>
<line x1="899.1" y1="1302.6" x2="1406.7" y2="1302.6" stroke="#fff" stroke-width="1.6" stroke-dasharray="2 3" opacity="0.45"/>
<line x1="899.1" y1="1398.5" x2="1406.7" y2="1398.5" stroke="#fff" stroke-width="1.6" stroke-dasharray="2 3" opacity="0.45"/>
<line x1="899.1" y1="1494.4" x2="1406.7" y2="1494.4" stroke="#fff" stroke-width="1.6" stroke-dasharray="2 3" opacity="0.45"/>
<line x1="899.1" y1="1214.0" x2="1406.1" y2="1214.0" stroke="#fff" stroke-width="2.2"/>
<line x1="1150.6" y1="1214.0" x2="1150.6" y2="1542.0" stroke="#fff" stroke-width="2.2"/>
<line x1="899.1" y1="1152.0" x2="1017.1" y2="1152.0" stroke="#fff" stroke-width="2.2"/>
<line x1="899.1" y1="1473.0" x2="1149.1" y2="1473.0" stroke="#fff" stroke-width="2.2"/>
</g>
<rect x="948.0" y="1235.2" width="46" height="46" fill="none" stroke="#f28b5b" stroke-width="10.7"/>
<rect x="979.6" y="1371.7" width="46" height="46" fill="none" stroke="#0bb47f" stroke-width="10.7"/>
<rect x="1306.9" y="1341.0" width="46" height="46" fill="none" stroke="#308ac0" stroke-width="10.7"/></g>
<rect x="897.1" y="1061.7" width="511.6" height="482.5" fill="none" stroke="#262a2c" stroke-width="4.2"/>
<line x1="975.8" y1="1059.7" x2="975.8" y2="1040.7" stroke="#1c1c1c" stroke-width="4.3"/>
<line x1="975.8" y1="1546.2" x2="975.8" y2="1565.2" stroke="#1c1c1c" stroke-width="4.3"/>
<line x1="1067.2" y1="1059.7" x2="1067.2" y2="1040.7" stroke="#1c1c1c" stroke-width="4.3"/>
<line x1="1067.2" y1="1546.2" x2="1067.2" y2="1565.2" stroke="#1c1c1c" stroke-width="4.3"/>
<line x1="1158.6" y1="1059.7" x2="1158.6" y2="1040.7" stroke="#1c1c1c" stroke-width="4.3"/>
<line x1="1158.6" y1="1546.2" x2="1158.6" y2="1565.2" stroke="#1c1c1c" stroke-width="4.3"/>
<line x1="1250.0" y1="1059.7" x2="1250.0" y2="1040.7" stroke="#1c1c1c" stroke-width="4.3"/>
<line x1="1250.0" y1="1546.2" x2="1250.0" y2="1565.2" stroke="#1c1c1c" stroke-width="4.3"/>
<line x1="1341.4" y1="1059.7" x2="1341.4" y2="1040.7" stroke="#1c1c1c" stroke-width="4.3"/>
<line x1="1341.4" y1="1546.2" x2="1341.4" y2="1565.2" stroke="#1c1c1c" stroke-width="4.3"/>
<line x1="895.1" y1="1110.8" x2="876.1" y2="1110.8" stroke="#1c1c1c" stroke-width="4.3"/>
<line x1="1410.7" y1="1110.8" x2="1429.7" y2="1110.8" stroke="#1c1c1c" stroke-width="4.3"/>
<line x1="895.1" y1="1206.7" x2="876.1" y2="1206.7" stroke="#1c1c1c" stroke-width="4.3"/>
<line x1="1410.7" y1="1206.7" x2="1429.7" y2="1206.7" stroke="#1c1c1c" stroke-width="4.3"/>
<line x1="895.1" y1="1302.6" x2="876.1" y2="1302.6" stroke="#1c1c1c" stroke-width="4.3"/>
<line x1="1410.7" y1="1302.6" x2="1429.7" y2="1302.6" stroke="#1c1c1c" stroke-width="4.3"/>
<line x1="895.1" y1="1398.5" x2="876.1" y2="1398.5" stroke="#1c1c1c" stroke-width="4.3"/>
<line x1="1410.7" y1="1398.5" x2="1429.7" y2="1398.5" stroke="#1c1c1c" stroke-width="4.3"/>
<line x1="895.1" y1="1494.4" x2="876.1" y2="1494.4" stroke="#1c1c1c" stroke-width="4.3"/>
<line x1="1410.7" y1="1494.4" x2="1429.7" y2="1494.4" stroke="#1c1c1c" stroke-width="4.3"/>
<text x="975.8" y="1605.6" font-size="38.4" text-anchor="middle">-420"</text>
<text x="1067.2" y="1605.6" font-size="38.4" text-anchor="middle">-400"</text>
<text x="1158.6" y="1605.6" font-size="38.4" text-anchor="middle">-380"</text>
<text x="1250.0" y="1605.6" font-size="38.4" text-anchor="middle">-360"</text>
<text x="1341.4" y="1605.6" font-size="38.4" text-anchor="middle">-340"</text>
<text x="1152.9" y="1665.6" font-size="42.2" text-anchor="middle">Solar X (arcsec)</text>
<text x="1153.9" y="918.8" font-size="42.2" text-anchor="middle">e) Si IV 1403<tspan font-style="italic">Å</tspan> Line width</text>
<rect x="899.2" y="1006.4" width="507.4" height="25.4" fill="url(#cbar)" stroke="#262a2c" stroke-width="4"/>
<line x1="1075.7" y1="1004.4" x2="1075.7" y2="985.4" stroke="#1c1c1c" stroke-width="4.3"/>
<text x="1075.7" y="962.0" font-size="38.4" text-anchor="middle">0.1</text>
<line x1="1296.3" y1="1004.4" x2="1296.3" y2="985.4" stroke="#1c1c1c" stroke-width="4.3"/>
<text x="1296.3" y="962.0" font-size="38.4" text-anchor="middle">0.2</text>
<g id="map2"><clipPath id="mclip2"><rect x="1564.4" y="1063.7" width="507.6" height="478.5"/></clipPath>
<g clip-path="url(#mclip2)">
<g filter="url(#mapff)">
<rect x="1539.0" y="1039.8" width="26.0" height="24.5" fill="#787878"/>
<rect x="1564.4" y="1039.8" width="26.0" height="24.5" fill="#787878"/>
<rect x="1589.8" y="1039.8" width="26.0" height="24.5" fill="#595959"/>
<rect x="1615.2" y="1039.8" width="26.0" height="24.5" fill="#595959"/>
<rect x="1640.5" y="1039.8" width="26.0" height="24.5" fill="#787878"/>
<rect x="1665.9" y="1039.8" width="26.0" height="24.5" fill="#ababab"/>
<rect x="1691.3" y="1039.8" width="26.0" height="24.5" fill="#424242"/>
<rect x="1716.7" y="1039.8" width="26.0" height="24.5" fill="#000000"/>
<rect x="1742.1" y="1039.8" width="26.0" height="24.5" fill="#000000"/>
<rect x="1767.4" y="1039.8" width="26.0" height="24.5" fill="#000000"/>
<rect x="1792.8" y="1039.8" width="26.0" height="24.5" fill="#000000"/>
<rect x="1818.2" y="1039.8" width="26.0" height="24.5" fill="#ababab"/>
<rect x="1843.6" y="1039.8" width="26.0" height="24.5" fill="#595959"/>
<rect x="1869.0" y="1039.8" width="26.0" height="24.5" fill="#000000"/>
<rect x="1894.3" y="1039.8" width="26.0" height="24.5" fill="#000000"/>
<rect x="1919.7" y="1039.8" width="26.0" height="24.5" fill="#000000"/>
<rect x="1945.1" y="1039.8" width="26.0" height="24.5" fill="#000000"/>
<rect x="1970.5" y="1039.8" width="26.0" height="24.5" fill="#000000"/>
<rect x="1995.9" y="1039.8" width="26.0" height="24.5" fill="#000000"/>
<rect x="2021.2" y="1039.8" width="26.0" height="24.5" fill="#000000"/>
<rect x="2046.6" y="1039.8" width="26.0" height="24.5" fill="#000000"/>
<rect x="2072.0" y="1039.8" width="26.0" height="24.5" fill="#000000"/>
<rect x="1539.0" y="1063.7" width="26.0" height="24.5" fill="#787878"/>
<rect x="1564.4" y="1063.7" width="26.0" height="24.5" fill="#787878"/>
<rect x="1589.8" y="1063.7" width="26.0" height="24.5" fill="#595959"/>
<rect x="1615.2" y="1063.7" width="26.0" height="24.5" fill="#595959"/>
<rect x="1640.5" y="1063.7" width="26.0" height="24.5" fill="#787878"/>
<rect x="1665.9" y="1063.7" width="26.0" height="24.5" fill="#ababab"/>
<rect x="1691.3" y="1063.7" width="26.0" height="24.5" fill="#424242"/>
<rect x="1716.7" y="1063.7" width="26.0" height="24.5" fill="#000000"/>
<rect x="1742.1" y="1063.7" width="26.0" height="24.5" fill="#000000"/>
<rect x="1767.4" y="1063.7" width="26.0" height="24.5" fill="#000000"/>
<rect x="1792.8" y="1063.7" width="26.0" height="24.5" fill="#000000"/>
<rect x="1818.2" y="1063.7" width="26.0" height="24.5" fill="#ababab"/>
<rect x="1843.6" y="1063.7" width="26.0" height="24.5" fill="#595959"/>
<rect x="1869.0" y="1063.7" width="26.0" height="24.5" fill="#000000"/>
<rect x="1894.3" y="1063.7" width="26.0" height="24.5" fill="#000000"/>
<rect x="1919.7" y="1063.7" width="26.0" height="24.5" fill="#000000"/>
<rect x="1945.1" y="1063.7" width="26.0" height="24.5" fill="#000000"/>
<rect x="1970.5" y="1063.7" width="26.0" height="24.5" fill="#000000"/>
<rect x="1995.9" y="1063.7" width="26.0" height="24.5" fill="#000000"/>
<rect x="2021.2" y="1063.7" width="26.0" height="24.5" fill="#000000"/>
<rect x="2046.6" y="1063.7" width="26.0" height="24.5" fill="#000000"/>
<rect x="2072.0" y="1063.7" width="26.0" height="24.5" fill="#000000"/>
<rect x="1539.0" y="1087.6" width="26.0" height="24.5" fill="#919191"/>
<rect x="1564.4" y="1087.6" width="26.0" height="24.5" fill="#919191"/>
<rect x="1589.8" y="1087.6" width="26.0" height="24.5" fill="#c9c9c9"/>
<rect x="1615.2" y="1087.6" width="26.0" height="24.5" fill="#ababab"/>
<rect x="1640.5" y="1087.6" width="26.0" height="24.5" fill="#c9c9c9"/>
<rect x="1665.9" y="1087.6" width="26.0" height="24.5" fill="#c9c9c9"/>
<rect x="1691.3" y="1087.6" width="26.0" height="24.5" fill="#787878"/>
<rect x="1716.7" y="1087.6" width="26.0" height="24.5" fill="#1f1f1f"/>
<rect x="1742.1" y="1087.6" width="26.0" height="24.5" fill="#000000"/>
<rect x="1767.4" y="1087.6" width="26.0" height="24.5" fill="#000000"/>
<rect x="1792.8" y="1087.6" width="26.0" height="24.5" fill="#1f1f1f"/>
<rect x="1818.2" y="1087.6" width="26.0" height="24.5" fill="#919191"/>
<rect x="1843.6" y="1087.6" width="26.0" height="24.5" fill="#424242"/>
<rect x="1869.0" y="1087.6" width="26.0" height="24.5" fill="#000000"/>
<rect x="1894.3" y="1087.6" width="26.0" height="24.5" fill="#000000"/>
<rect x="1919.7" y="1087.6" width="26.0" height="24.5" fill="#000000"/>
<rect x="1945.1" y="1087.6" width="26.0" height="24.5" fill="#000000"/>
<rect x="1970.5" y="1087.6" width="26.0" height="24.5" fill="#000000"/>
<rect x="1995.9" y="1087.6" width="26.0" height="24.5" fill="#000000"/>
<rect x="2021.2" y="1087.6" width="26.0" height="24.5" fill="#000000"/>
<rect x="2046.6" y="1087.6" width="26.0" height="24.5" fill="#000000"/>
<rect x="2072.0" y="1087.6" width="26.0" height="24.5" fill="#000000"/>
<rect x="1539.0" y="1111.5" width="26.0" height="24.5" fill="#c9c9c9"/>
<rect x="1564.4" y="1111.5" width="26.0" height="24.5" fill="#c9c9c9"/>
<rect x="1589.8" y="1111.5" width="26.0" height="24.5" fill="#ababab"/>
<rect x="1615.2" y="1111.5" width="26.0" height="24.5" fill="#787878"/>
<rect x="1640.5" y="1111.5" width="26.0" height="24.5" fill="#919191"/>
<rect x="1665.9" y="1111.5" width="26.0" height="24.5" fill="#919191"/>
<rect x="1691.3" y="1111.5" width="26.0" height="24.5" fill="#787878"/>
<rect x="1716.7" y="1111.5" width="26.0" height="24.5" fill="#1f1f1f"/>
<rect x="1742.1" y="1111.5" width="26.0" height="24.5" fill="#000000"/>
<rect x="1767.4" y="1111.5" width="26.0" height="24.5" fill="#000000"/>
<rect x="1792.8" y="1111.5" width="26.0" height="24.5" fill="#000000"/>
<rect x="1818.2" y="1111.5" width="26.0" height="24.5" fill="#1f1f1f"/>
<rect x="1843.6" y="1111.5" width="26.0" height="24.5" fill="#1f1f1f"/>
<rect x="1869.0" y="1111.5" width="26.0" height="24.5" fill="#000000"/>
<rect x="1894.3" y="1111.5" width="26.0" height="24.5" fill="#000000"/>
<rect x="1919.7" y="1111.5" width="26.0" height="24.5" fill="#000000"/>
<rect x="1945.1" y="1111.5" width="26.0" height="24.5" fill="#1f1f1f"/>
<rect x="1970.5" y="1111.5" width="26.0" height="24.5" fill="#1f1f1f"/>
<rect x="1995.9" y="1111.5" width="26.0" height="24.5" fill="#000000"/>
<rect x="2021.2" y="1111.5" width="26.0" height="24.5" fill="#1f1f1f"/>
<rect x="2046.6" y="1111.5" width="26.0" height="24.5" fill="#000000"/>
<rect x="2072.0" y="1111.5" width="26.0" height="24.5" fill="#000000"/>
<rect x="1539.0" y="1135.5" width="26.0" height="24.5" fill="#c9c9c9"/>
<rect x="1564.4" y="1135.5" width="26.0" height="24.5" fill="#c9c9c9"/>
<rect x="1589.8" y="1135.5" width="26.0" height="24.5" fill="#919191"/>
<rect x="1615.2" y="1135.5" width="26.0" height="24.5" fill="#595959"/>
<rect x="1640.5" y="1135.5" width="26.0" height="24.5" fill="#595959"/>
<rect x="1665.9" y="1135.5" width="26.0" height="24.5" fill="#595959"/>
<rect x="1691.3" y="1135.5" width="26.0" height="24.5" fill="#595959"/>
<rect x="1716.7" y="1135.5" width="26.0" height="24.5" fill="#424242"/>
<rect x="1742.1" y="1135.5" width="26.0" height="24.5" fill="#000000"/>
<rect x="1767.4" y="1135.5" width="26.0" height="24.5" fill="#000000"/>
<rect x="1792.8" y="1135.5" width="26.0" height="24.5" fill="#000000"/>
<rect x="1818.2" y="1135.5" width="26.0" height="24.5" fill="#000000"/>
<rect x="1843.6" y="1135.5" width="26.0" height="24.5" fill="#000000"/>
<rect x="1869.0" y="1135.5" width="26.0" height="24.5" fill="#000000"/>
<rect x="1894.3" y="1135.5" width="26.0" height="24.5" fill="#000000"/>
<rect x="1919.7" y="1135.5" width="26.0" height="24.5" fill="#000000"/>
<rect x="1945.1" y="1135.5" width="26.0" height="24.5" fill="#1f1f1f"/>
<rect x="1970.5" y="1135.5" width="26.0" height="24.5" fill="#000000"/>
<rect x="1995.9" y="1135.5" width="26.0" height="24.5" fill="#000000"/>
<rect x="2021.2" y="1135.5" width="26.0" height="24.5" fill="#000000"/>
<rect x="2046.6" y="1135.5" width="26.0" height="24.5" fill="#1f1f1f"/>
<rect x="2072.0" y="1135.5" width="26.0" height="24.5" fill="#1f1f1f"/>
<rect x="1539.0" y="1159.4" width="26.0" height="24.5" fill="#c9c9c9"/>
<rect x="1564.4" y="1159.4" width="26.0" height="24.5" fill="#c9c9c9"/>
<rect x="1589.8" y="1159.4" width="26.0" height="24.5" fill="#919191"/>
<rect x="1615.2" y="1159.4" width="26.0" height="24.5" fill="#595959"/>
<rect x="1640.5" y="1159.4" width="26.0" height="24.5" fill="#595959"/>
<rect x="1665.9" y="1159.4" width="26.0" height="24.5" fill="#787878"/>
<rect x="1691.3" y="1159.4" width="26.0" height="24.5" fill="#595959"/>
<rect x="1716.7" y="1159.4" width="26.0" height="24.5" fill="#424242"/>
<rect x="1742.1" y="1159.4" width="26.0" height="24.5" fill="#1f1f1f"/>
<rect x="1767.4" y="1159.4" width="26.0" height="24.5" fill="#000000"/>
<rect x="1792.8" y="1159.4" width="26.0" height="24.5" fill="#1f1f1f"/>
<rect x="1818.2" y="1159.4" width="26.0" height="24.5" fill="#1f1f1f"/>
<rect x="1843.6" y="1159.4" width="26.0" height="24.5" fill="#000000"/>
<rect x="1869.0" y="1159.4" width="26.0" height="24.5" fill="#000000"/>
<rect x="1894.3" y="1159.4" width="26.0" height="24.5" fill="#424242"/>
<rect x="1919.7" y="1159.4" width="26.0" height="24.5" fill="#595959"/>
<rect x="1945.1" y="1159.4" width="26.0" height="24.5" fill="#595959"/>
<rect x="1970.5" y="1159.4" width="26.0" height="24.5" fill="#424242"/>
<rect x="1995.9" y="1159.4" width="26.0" height="24.5" fill="#000000"/>
<rect x="2021.2" y="1159.4" width="26.0" height="24.5" fill="#000000"/>
<rect x="2046.6" y="1159.4" width="26.0" height="24.5" fill="#424242"/>
<rect x="2072.0" y="1159.4" width="26.0" height="24.5" fill="#424242"/>
<rect x="1539.0" y="1183.3" width="26.0" height="24.5" fill="#ababab"/>
<rect x="1564.4" y="1183.3" width="26.0" height="24.5" fill="#ababab"/>
<rect x="1589.8" y="1183.3" width="26.0" height="24.5" fill="#919191"/>
<rect x="1615.2" y="1183.3" width="26.0" height="24.5" fill="#787878"/>
<rect x="1640.5" y="1183.3" width="26.0" height="24.5" fill="#787878"/>
<rect x="1665.9" y="1183.3" width="26.0" height="24.5" fill="#787878"/>
<rect x="1691.3" y="1183.3" width="26.0" height="24.5" fill="#787878"/>
<rect x="1716.7" y="1183.3" width="26.0" height="24.5" fill="#424242"/>
<rect x="1742.1" y="1183.3" width="26.0" height="24.5" fill="#1f1f1f"/>
<rect x="1767.4" y="1183.3" width="26.0" height="24.5" fill="#595959"/>
<rect x="1792.8" y="1183.3" width="26.0" height="24.5" fill="#595959"/>
<rect x="1818.2" y="1183.3" width="26.0" height="24.5" fill="#424242"/>
<rect x="1843.6" y="1183.3" width="26.0" height="24.5" fill="#1f1f1f"/>
<rect x="1869.0" y="1183.3" width="26.0" height="24.5" fill="#000000"/>
<rect x="1894.3" y="1183.3" width="26.0" height="24.5" fill="#787878"/>
<rect x="1919.7" y="1183.3" width="26.0" height="24.5" fill="#919191"/>
<rect x="1945.1" y="1183.3" width="26.0" height="24.5" fill="#787878"/>
<rect x="1970.5" y="1183.3" width="26.0" height="24.5" fill="#424242"/>
<rect x="1995.9" y="1183.3" width="26.0" height="24.5" fill="#1f1f1f"/>
<rect x="2021.2" y="1183.3" width="26.0" height="24.5" fill="#424242"/>
<rect x="2046.6" y="1183.3" width="26.0" height="24.5" fill="#787878"/>
<rect x="2072.0" y="1183.3" width="26.0" height="24.5" fill="#787878"/>
<rect x="1539.0" y="1207.2" width="26.0" height="24.5" fill="#c9c9c9"/>
<rect x="1564.4" y="1207.2" width="26.0" height="24.5" fill="#c9c9c9"/>
<rect x="1589.8" y="1207.2" width="26.0" height="24.5" fill="#c9c9c9"/>
<rect x="1615.2" y="1207.2" width="26.0" height="24.5" fill="#ababab"/>
<rect x="1640.5" y="1207.2" width="26.0" height="24.5" fill="#ababab"/>
<rect x="1665.9" y="1207.2" width="26.0" height="24.5" fill="#c9c9c9"/>
<rect x="1691.3" y="1207.2" width="26.0" height="24.5" fill="#ababab"/>
<rect x="1716.7" y="1207.2" width="26.0" height="24.5" fill="#787878"/>
<rect x="1742.1" y="1207.2" width="26.0" height="24.5" fill="#424242"/>
<rect x="1767.4" y="1207.2" width="26.0" height="24.5" fill="#787878"/>
<rect x="1792.8" y="1207.2" width="26.0" height="24.5" fill="#919191"/>
<rect x="1818.2" y="1207.2" width="26.0" height="24.5" fill="#919191"/>
<rect x="1843.6" y="1207.2" width="26.0" height="24.5" fill="#787878"/>
<rect x="1869.0" y="1207.2" width="26.0" height="24.5" fill="#ababab"/>
<rect x="1894.3" y="1207.2" width="26.0" height="24.5" fill="#c9c9c9"/>
<rect x="1919.7" y="1207.2" width="26.0" height="24.5" fill="#c9c9c9"/>
<rect x="1945.1" y="1207.2" width="26.0" height="24.5" fill="#ababab"/>
<rect x="1970.5" y="1207.2" width="26.0" height="24.5" fill="#919191"/>
<rect x="1995.9" y="1207.2" width="26.0" height="24.5" fill="#787878"/>
<rect x="2021.2" y="1207.2" width="26.0" height="24.5" fill="#919191"/>
<rect x="2046.6" y="1207.2" width="26.0" height="24.5" fill="#ababab"/>
<rect x="2072.0" y="1207.2" width="26.0" height="24.5" fill="#ababab"/>
<rect x="1539.0" y="1231.2" width="26.0" height="24.5" fill="#ababab"/>
<rect x="1564.4" y="1231.2" width="26.0" height="24.5" fill="#ababab"/>
<rect x="1589.8" y="1231.2" width="26.0" height="24.5" fill="#c9c9c9"/>
<rect x="1615.2" y="1231.2" width="26.0" height="24.5" fill="#ababab"/>
<rect x="1640.5" y="1231.2" width="26.0" height="24.5" fill="#c9c9c9"/>
<rect x="1665.9" y="1231.2" width="26.0" height="24.5" fill="#ababab"/>
<rect x="1691.3" y="1231.2" width="26.0" height="24.5" fill="#c9c9c9"/>
<rect x="1716.7" y="1231.2" width="26.0" height="24.5" fill="#919191"/>
<rect x="1742.1" y="1231.2" width="26.0" height="24.5" fill="#424242"/>
<rect x="1767.4" y="1231.2" width="26.0" height="24.5" fill="#787878"/>
<rect x="1792.8" y="1231.2" width="26.0" height="24.5" fill="#ababab"/>
<rect x="1818.2" y="1231.2" width="26.0" height="24.5" fill="#ababab"/>
<rect x="1843.6" y="1231.2" width="26.0" height="24.5" fill="#ababab"/>
<rect x="1869.0" y="1231.2" width="26.0" height="24.5" fill="#c9c9c9"/>
<rect x="1894.3" y="1231.2" width="26.0" height="24.5" fill="#c9c9c9"/>
<rect x="1919.7" y="1231.2" width="26.0" height="24.5" fill="#ababab"/>
<rect x="1945.1" y="1231.2" width="26.0" height="24.5" fill="#595959"/>
<rect x="1970.5" y="1231.2" width="26.0" height="24.5" fill="#787878"/>
<rect x="1995.9" y="1231.2" width="26.0" height="24.5" fill="#919191"/>
<rect x="2021.2" y="1231.2" width="26.0" height="24.5" fill="#c9c9c9"/>
<rect x="2046.6" y="1231.2" width="26.0" height="24.5" fill="#919191"/>
<rect x="2072.0" y="1231.2" width="26.0" height="24.5" fill="#919191"/>
<rect x="1539.0" y="1255.1" width="26.0" height="24.5" fill="#c9c9c9"/>
<rect x="1564.4" y="1255.1" width="26.0" height="24.5" fill="#c9c9c9"/>
<rect x="1589.8" y="1255.1" width="26.0" height="24.5" fill="#ababab"/>
<rect x="1615.2" y="1255.1" width="26.0" height="24.5" fill="#ababab"/>
<rect x="1640.5" y="1255.1" width="26.0" height="24.5" fill="#c9c9c9"/>
<rect x="1665.9" y="1255.1" width="26.0" height="24.5" fill="#919191"/>
<rect x="1691.3" y="1255.1" width="26.0" height="24.5" fill="#ababab"/>
<rect x="1716.7" y="1255.1" width="26.0" height="24.5" fill="#ababab"/>
<rect x="1742.1" y="1255.1" width="26.0" height="24.5" fill="#787878"/>
<rect x="1767.4" y="1255.1" width="26.0" height="24.5" fill="#ababab"/>
<rect x="1792.8" y="1255.1" width="26.0" height="24.5" fill="#c9c9c9"/>
<rect x="1818.2" y="1255.1" width="26.0" height="24.5" fill="#c9c9c9"/>
<rect x="1843.6" y="1255.1" width="26.0" height="24.5" fill="#c9c9c9"/>
<rect x="1869.0" y="1255.1" width="26.0" height="24.5" fill="#c9c9c9"/>
<rect x="1894.3" y="1255.1" width="26.0" height="24.5" fill="#919191"/>
<rect x="1919.7" y="1255.1" width="26.0" height="24.5" fill="#ababab"/>
<rect x="1945.1" y="1255.1" width="26.0" height="24.5" fill="#595959"/>
<rect x="1970.5" y="1255.1" width="26.0" height="24.5" fill="#919191"/>
<rect x="1995.9" y="1255.1" width="26.0" height="24.5" fill="#919191"/>
<rect x="2021.2" y="1255.1" width="26.0" height="24.5" fill="#c9c9c9"/>
<rect x="2046.6" y="1255.1" width="26.0" height="24.5" fill="#595959"/>
<rect x="2072.0" y="1255.1" width="26.0" height="24.5" fill="#595959"/>
<rect x="1539.0" y="1279.0" width="26.0" height="24.5" fill="#c9c9c9"/>
<rect x="1564.4" y="1279.0" width="26.0" height="24.5" fill="#c9c9c9"/>
<rect x="1589.8" y="1279.0" width="26.0" height="24.5" fill="#c9c9c9"/>
<rect x="1615.2" y="1279.0" width="26.0" height="24.5" fill="#c9c9c9"/>
<rect x="1640.5" y="1279.0" width="26.0" height="24.5" fill="#ababab"/>
<rect x="1665.9" y="1279.0" width="26.0" height="24.5" fill="#919191"/>
<rect x="1691.3" y="1279.0" width="26.0" height="24.5" fill="#919191"/>
<rect x="1716.7" y="1279.0" width="26.0" height="24.5" fill="#919191"/>
<rect x="1742.1" y="1279.0" width="26.0" height="24.5" fill="#ababab"/>
<rect x="1767.4" y="1279.0" width="26.0" height="24.5" fill="#c9c9c9"/>
<rect x="1792.8" y="1279.0" width="26.0" height="24.5" fill="#c9c9c9"/>
<rect x="1818.2" y="1279.0" width="26.0" height="24.5" fill="#c9c9c9"/>
<rect x="1843.6" y="1279.0" width="26.0" height="24.5" fill="#e8e8e8"/>
<rect x="1869.0" y="1279.0" width="26.0" height="24.5" fill="#c9c9c9"/>
<rect x="1894.3" y="1279.0" width="26.0" height="24.5" fill="#919191"/>
<rect x="1919.7" y="1279.0" width="26.0" height="24.5" fill="#ababab"/>
<rect x="1945.1" y="1279.0" width="26.0" height="24.5" fill="#ababab"/>
<rect x="1970.5" y="1279.0" width="26.0" height="24.5" fill="#ababab"/>
<rect x="1995.9" y="1279.0" width="26.0" height="24.5" fill="#c9c9c9"/>
<rect x="2021.2" y="1279.0" width="26.0" height="24.5" fill="#919191"/>
<rect x="2046.6" y="1279.0" width="26.0" height="24.5" fill="#595959"/>
<rect x="2072.0" y="1279.0" width="26.0" height="24.5" fill="#595959"/>
<rect x="1539.0" y="1303.0" width="26.0" height="24.5" fill="#ababab"/>
<rect x="1564.4" y="1303.0" width="26.0" height="24.5" fill="#ababab"/>
<rect x="1589.8" y="1303.0" width="26.0" height="24.5" fill="#ababab"/>
<rect x="1615.2" y="1303.0" width="26.0" height="24.5" fill="#c9c9c9"/>
<rect x="1640.5" y="1303.0" width="26.0" height="24.5" fill="#595959"/>
<rect x="1665.9" y="1303.0" width="26.0" height="24.5" fill="#787878"/>
<rect x="1691.3" y="1303.0" width="26.0" height="24.5" fill="#c9c9c9"/>
<rect x="1716.7" y="1303.0" width="26.0" height="24.5" fill="#e8e8e8"/>
<rect x="1742.1" y="1303.0" width="26.0" height="24.5" fill="#c9c9c9"/>
<rect x="1767.4" y="1303.0" width="26.0" height="24.5" fill="#ababab"/>
<rect x="1792.8" y="1303.0" width="26.0" height="24.5" fill="#c9c9c9"/>
<rect x="1818.2" y="1303.0" width="26.0" height="24.5" fill="#c9c9c9"/>
<rect x="1843.6" y="1303.0" width="26.0" height="24.5" fill="#ababab"/>
<rect x="1869.0" y="1303.0" width="26.0" height="24.5" fill="#ababab"/>
<rect x="1894.3" y="1303.0" width="26.0" height="24.5" fill="#c9c9c9"/>
<rect x="1919.7" y="1303.0" width="26.0" height="24.5" fill="#ababab"/>
<rect x="1945.1" y="1303.0" width="26.0" height="24.5" fill="#c9c9c9"/>
<rect x="1970.5" y="1303.0" width="26.0" height="24.5" fill="#919191"/>
<rect x="1995.9" y="1303.0" width="26.0" height="24.5" fill="#787878"/>
<rect x="2021.2" y="1303.0" width="26.0" height="24.5" fill="#424242"/>
<rect x="2046.6" y="1303.0" width="26.0" height="24.5" fill="#1f1f1f"/>
<rect x="2072.0" y="1303.0" width="26.0" height="24.5" fill="#1f1f1f"/>
<rect x="1539.0" y="1326.9" width="26.0" height="24.5" fill="#c9c9c9"/>
<rect x="1564.4" y="1326.9" width="26.0" height="24.5" fill="#c9c9c9"/>
<rect x="1589.8" y="1326.9" width="26.0" height="24.5" fill="#ababab"/>
<rect x="1615.2" y="1326.9" width="26.0" height="24.5" fill="#c9c9c9"/>
<rect x="1640.5" y="1326.9" width="26.0" height="24.5" fill="#919191"/>
<rect x="1665.9" y="1326.9" width="26.0" height="24.5" fill="#787878"/>
<rect x="1691.3" y="1326.9" width="26.0" height="24.5" fill="#c9c9c9"/>
<rect x="1716.7" y="1326.9" width="26.0" height="24.5" fill="#595959"/>
<rect x="1742.1" y="1326.9" width="26.0" height="24.5" fill="#c9c9c9"/>
<rect x="1767.4" y="1326.9" width="26.0" height="24.5" fill="#919191"/>
<rect x="1792.8" y="1326.9" width="26.0" height="24.5" fill="#ababab"/>
<rect x="1818.2" y="1326.9" width="26.0" height="24.5" fill="#c9c9c9"/>
<rect x="1843.6" y="1326.9" width="26.0" height="24.5" fill="#c9c9c9"/>
<rect x="1869.0" y="1326.9" width="26.0" height="24.5" fill="#919191"/>
<rect x="1894.3" y="1326.9" width="26.0" height="24.5" fill="#ababab"/>
<rect x="1919.7" y="1326.9" width="26.0" height="24.5" fill="#ababab"/>
<rect x="1945.1" y="1326.9" width="26.0" height="24.5" fill="#c9c9c9"/>
<rect x="1970.5" y="1326.9" width="26.0" height="24.5" fill="#919191"/>
<rect x="1995.9" y="1326.9" width="26.0" height="24.5" fill="#787878"/>
<rect x="2021.2" y="1326.9" width="26.0" height="24.5" fill="#424242"/>
<rect x="2046.6" y="1326.9" width="26.0" height="24.5" fill="#1f1f1f"/>
<rect x="2072.0" y="1326.9" width="26.0" height="24.5" fill="#1f1f1f"/>
<rect x="1539.0" y="1350.8" width="26.0" height="24.5" fill="#595959"/>
<rect x="1564.4" y="1350.8" width="26.0" height="24.5" fill="#595959"/>
<rect x="1589.8" y="1350.8" width="26.0" height="24.5" fill="#919191"/>
<rect x="1615.2" y="1350.8" width="26.0" height="24.5" fill="#ababab"/>
<rect x="1640.5" y="1350.8" width="26.0" height="24.5" fill="#919191"/>
<rect x="1665.9" y="1350.8" width="26.0" height="24.5" fill="#ababab"/>
<rect x="1691.3" y="1350.8" width="26.0" height="24.5" fill="#ababab"/>
<rect x="1716.7" y="1350.8" width="26.0" height="24.5" fill="#787878"/>
<rect x="1742.1" y="1350.8" width="26.0" height="24.5" fill="#787878"/>
<rect x="1767.4" y="1350.8" width="26.0" height="24.5" fill="#595959"/>
<rect x="1792.8" y="1350.8" width="26.0" height="24.5" fill="#787878"/>
<rect x="1818.2" y="1350.8" width="26.0" height="24.5" fill="#c9c9c9"/>
<rect x="1843.6" y="1350.8" width="26.0" height="24.5" fill="#e8e8e8"/>
<rect x="1869.0" y="1350.8" width="26.0" height="24.5" fill="#787878"/>
<rect x="1894.3" y="1350.8" width="26.0" height="24.5" fill="#c9c9c9"/>
<rect x="1919.7" y="1350.8" width="26.0" height="24.5" fill="#ababab"/>
<rect x="1945.1" y="1350.8" width="26.0" height="24.5" fill="#787878"/>
<rect x="1970.5" y="1350.8" width="26.0" height="24.5" fill="#595959"/>
<rect x="1995.9" y="1350.8" width="26.0" height="24.5" fill="#919191"/>
<rect x="2021.2" y="1350.8" width="26.0" height="24.5" fill="#424242"/>
<rect x="2046.6" y="1350.8" width="26.0" height="24.5" fill="#1f1f1f"/>
<rect x="2072.0" y="1350.8" width="26.0" height="24.5" fill="#1f1f1f"/>
<rect x="1539.0" y="1374.7" width="26.0" height="24.5" fill="#1f1f1f"/>
<rect x="1564.4" y="1374.7" width="26.0" height="24.5" fill="#1f1f1f"/>
<rect x="1589.8" y="1374.7" width="26.0" height="24.5" fill="#424242"/>
<rect x="1615.2" y="1374.7" width="26.0" height="24.5" fill="#c9c9c9"/>
<rect x="1640.5" y="1374.7" width="26.0" height="24.5" fill="#787878"/>
<rect x="1665.9" y="1374.7" width="26.0" height="24.5" fill="#595959"/>
<rect x="1691.3" y="1374.7" width="26.0" height="24.5" fill="#ababab"/>
<rect x="1716.7" y="1374.7" width="26.0" height="24.5" fill="#919191"/>
<rect x="1742.1" y="1374.7" width="26.0" height="24.5" fill="#ababab"/>
<rect x="1767.4" y="1374.7" width="26.0" height="24.5" fill="#919191"/>
<rect x="1792.8" y="1374.7" width="26.0" height="24.5" fill="#919191"/>
<rect x="1818.2" y="1374.7" width="26.0" height="24.5" fill="#c9c9c9"/>
<rect x="1843.6" y="1374.7" width="26.0" height="24.5" fill="#e8e8e8"/>
<rect x="1869.0" y="1374.7" width="26.0" height="24.5" fill="#c9c9c9"/>
<rect x="1894.3" y="1374.7" width="26.0" height="24.5" fill="#919191"/>
<rect x="1919.7" y="1374.7" width="26.0" height="24.5" fill="#ababab"/>
<rect x="1945.1" y="1374.7" width="26.0" height="24.5" fill="#424242"/>
<rect x="1970.5" y="1374.7" width="26.0" height="24.5" fill="#787878"/>
<rect x="1995.9" y="1374.7" width="26.0" height="24.5" fill="#919191"/>
<rect x="2021.2" y="1374.7" width="26.0" height="24.5" fill="#919191"/>
<rect x="2046.6" y="1374.7" width="26.0" height="24.5" fill="#424242"/>
<rect x="2072.0" y="1374.7" width="26.0" height="24.5" fill="#424242"/>
<rect x="1539.0" y="1398.7" width="26.0" height="24.5" fill="#595959"/>
<rect x="1564.4" y="1398.7" width="26.0" height="24.5" fill="#595959"/>
<rect x="1589.8" y="1398.7" width="26.0" height="24.5" fill="#787878"/>
<rect x="1615.2" y="1398.7" width="26.0" height="24.5" fill="#ababab"/>
<rect x="1640.5" y="1398.7" width="26.0" height="24.5" fill="#787878"/>
<rect x="1665.9" y="1398.7" width="26.0" height="24.5" fill="#1f1f1f"/>
<rect x="1691.3" y="1398.7" width="26.0" height="24.5" fill="#ababab"/>
<rect x="1716.7" y="1398.7" width="26.0" height="24.5" fill="#c9c9c9"/>
<rect x="1742.1" y="1398.7" width="26.0" height="24.5" fill="#c9c9c9"/>
<rect x="1767.4" y="1398.7" width="26.0" height="24.5" fill="#ababab"/>
<rect x="1792.8" y="1398.7" width="26.0" height="24.5" fill="#c9c9c9"/>
<rect x="1818.2" y="1398.7" width="26.0" height="24.5" fill="#c9c9c9"/>
<rect x="1843.6" y="1398.7" width="26.0" height="24.5" fill="#ababab"/>
<rect x="1869.0" y="1398.7" width="26.0" height="24.5" fill="#c9c9c9"/>
<rect x="1894.3" y="1398.7" width="26.0" height="24.5" fill="#919191"/>
<rect x="1919.7" y="1398.7" width="26.0" height="24.5" fill="#c9c9c9"/>
<rect x="1945.1" y="1398.7" width="26.0" height="24.5" fill="#595959"/>
<rect x="1970.5" y="1398.7" width="26.0" height="24.5" fill="#ababab"/>
<rect x="1995.9" y="1398.7" width="26.0" height="24.5" fill="#c9c9c9"/>
<rect x="2021.2" y="1398.7" width="26.0" height="24.5" fill="#ababab"/>
<rect x="2046.6" y="1398.7" width="26.0" height="24.5" fill="#787878"/>
<rect x="2072.0" y="1398.7" width="26.0" height="24.5" fill="#787878"/>
<rect x="1539.0" y="1422.6" width="26.0" height="24.5" fill="#595959"/>
<rect x="1564.4" y="1422.6" width="26.0" height="24.5" fill="#595959"/>
<rect x="1589.8" y="1422.6" width="26.0" height="24.5" fill="#ababab"/>
<rect x="1615.2" y="1422.6" width="26.0" height="24.5" fill="#919191"/>
<rect x="1640.5" y="1422.6" width="26.0" height="24.5" fill="#ababab"/>
<rect x="1665.9" y="1422.6" width="26.0" height="24.5" fill="#c9c9c9"/>
<rect x="1691.3" y="1422.6" width="26.0" height="24.5" fill="#e8e8e8"/>
<rect x="1716.7" y="1422.6" width="26.0" height="24.5" fill="#ababab"/>
<rect x="1742.1" y="1422.6" width="26.0" height="24.5" fill="#919191"/>
<rect x="1767.4" y="1422.6" width="26.0" height="24.5" fill="#ababab"/>
<rect x="1792.8" y="1422.6" width="26.0" height="24.5" fill="#ababab"/>
<rect x="1818.2" y="1422.6" width="26.0" height="24.5" fill="#e8e8e8"/>
<rect x="1843.6" y="1422.6" width="26.0" height="24.5" fill="#ababab"/>
<rect x="1869.0" y="1422.6" width="26.0" height="24.5" fill="#c9c9c9"/>
<rect x="1894.3" y="1422.6" width="26.0" height="24.5" fill="#595959"/>
<rect x="1919.7" y="1422.6" width="26.0" height="24.5" fill="#787878"/>
<rect x="1945.1" y="1422.6" width="26.0" height="24.5" fill="#ababab"/>
<rect x="1970.5" y="1422.6" width="26.0" height="24.5" fill="#ababab"/>
<rect x="1995.9" y="1422.6" width="26.0" height="24.5" fill="#ababab"/>
<rect x="2021.2" y="1422.6" width="26.0" height="24.5" fill="#c9c9c9"/>
<rect x="2046.6" y="1422.6" width="26.0" height="24.5" fill="#919191"/>
<rect x="2072.0" y="1422.6" width="26.0" height="24.5" fill="#919191"/>
<rect x="1539.0" y="1446.5" width="26.0" height="24.5" fill="#595959"/>
<rect x="1564.4" y="1446.5" width="26.0" height="24.5" fill="#595959"/>
<rect x="1589.8" y="1446.5" width="26.0" height="24.5" fill="#787878"/>
<rect x="1615.2" y="1446.5" width="26.0" height="24.5" fill="#919191"/>
<rect x="1640.5" y="1446.5" width="26.0" height="24.5" fill="#c9c9c9"/>
<rect x="1665.9" y="1446.5" width="26.0" height="24.5" fill="#ababab"/>
<rect x="1691.3" y="1446.5" width="26.0" height="24.5" fill="#e8e8e8"/>
<rect x="1716.7" y="1446.5" width="26.0" height="24.5" fill="#c9c9c9"/>
<rect x="1742.1" y="1446.5" width="26.0" height="24.5" fill="#919191"/>
<rect x="1767.4" y="1446.5" width="26.0" height="24.5" fill="#919191"/>
<rect x="1792.8" y="1446.5" width="26.0" height="24.5" fill="#919191"/>
<rect x="1818.2" y="1446.5" width="26.0" height="24.5" fill="#c9c9c9"/>
<rect x="1843.6" y="1446.5" width="26.0" height="24.5" fill="#c9c9c9"/>
<rect x="1869.0" y="1446.5" width="26.0" height="24.5" fill="#424242"/>
<rect x="1894.3" y="1446.5" width="26.0" height="24.5" fill="#1f1f1f"/>
<rect x="1919.7" y="1446.5" width="26.0" height="24.5" fill="#595959"/>
<rect x="1945.1" y="1446.5" width="26.0" height="24.5" fill="#919191"/>
<rect x="1970.5" y="1446.5" width="26.0" height="24.5" fill="#ababab"/>
<rect x="1995.9" y="1446.5" width="26.0" height="24.5" fill="#c9c9c9"/>
<rect x="2021.2" y="1446.5" width="26.0" height="24.5" fill="#919191"/>
<rect x="2046.6" y="1446.5" width="26.0" height="24.5" fill="#787878"/>
<rect x="2072.0" y="1446.5" width="26.0" height="24.5" fill="#787878"/>
<rect x="1539.0" y="1470.4" width="26.0" height="24.5" fill="#595959"/>
<rect x="1564.4" y="1470.4" width="26.0" height="24.5" fill="#595959"/>
<rect x="1589.8" y="1470.4" width="26.0" height="24.5" fill="#595959"/>
<rect x="1615.2" y="1470.4" width="26.0" height="24.5" fill="#787878"/>
<rect x="1640.5" y="1470.4" width="26.0" height="24.5" fill="#ababab"/>
<rect x="1665.9" y="1470.4" width="26.0" height="24.5" fill="#919191"/>
<rect x="1691.3" y="1470.4" width="26.0" height="24.5" fill="#787878"/>
<rect x="1716.7" y="1470.4" width="26.0" height="24.5" fill="#424242"/>
<rect x="1742.1" y="1470.4" width="26.0" height="24.5" fill="#1f1f1f"/>
<rect x="1767.4" y="1470.4" width="26.0" height="24.5" fill="#595959"/>
<rect x="1792.8" y="1470.4" width="26.0" height="24.5" fill="#787878"/>
<rect x="1818.2" y="1470.4" width="26.0" height="24.5" fill="#595959"/>
<rect x="1843.6" y="1470.4" width="26.0" height="24.5" fill="#424242"/>
<rect x="1869.0" y="1470.4" width="26.0" height="24.5" fill="#000000"/>
<rect x="1894.3" y="1470.4" width="26.0" height="24.5" fill="#000000"/>
<rect x="1919.7" y="1470.4" width="26.0" height="24.5" fill="#424242"/>
<rect x="1945.1" y="1470.4" width="26.0" height="24.5" fill="#787878"/>
<rect x="1970.5" y="1470.4" width="26.0" height="24.5" fill="#ababab"/>
<rect x="1995.9" y="1470.4" width="26.0" height="24.5" fill="#c9c9c9"/>
<rect x="2021.2" y="1470.4" width="26.0" height="24.5" fill="#787878"/>
<rect x="2046.6" y="1470.4" width="26.0" height="24.5" fill="#424242"/>
<rect x="2072.0" y="1470.4" width="26.0" height="24.5" fill="#424242"/>
<rect x="1539.0" y="1494.4" width="26.0" height="24.5" fill="#787878"/>
<rect x="1564.4" y="1494.4" width="26.0" height="24.5" fill="#787878"/>
<rect x="1589.8" y="1494.4" width="26.0" height="24.5" fill="#424242"/>
<rect x="1615.2" y="1494.4" width="26.0" height="24.5" fill="#787878"/>
<rect x="1640.5" y="1494.4" width="26.0" height="24.5" fill="#595959"/>
<rect x="1665.9" y="1494.4" width="26.0" height="24.5" fill="#424242"/>
<rect x="1691.3" y="1494.4" width="26.0" height="24.5" fill="#1f1f1f"/>
<rect x="1716.7" y="1494.4" width="26.0" height="24.5" fill="#000000"/>
<rect x="1742.1" y="1494.4" width="26.0" height="24.5" fill="#000000"/>
<rect x="1767.4" y="1494.4" width="26.0" height="24.5" fill="#1f1f1f"/>
<rect x="1792.8" y="1494.4" width="26.0" height="24.5" fill="#424242"/>
<rect x="1818.2" y="1494.4" width="26.0" height="24.5" fill="#424242"/>
<rect x="1843.6" y="1494.4" width="26.0" height="24.5" fill="#1f1f1f"/>
<rect x="1869.0" y="1494.4" width="26.0" height="24.5" fill="#000000"/>
<rect x="1894.3" y="1494.4" width="26.0" height="24.5" fill="#000000"/>
<rect x="1919.7" y="1494.4" width="26.0" height="24.5" fill="#1f1f1f"/>
<rect x="1945.1" y="1494.4" width="26.0" height="24.5" fill="#424242"/>
<rect x="1970.5" y="1494.4" width="26.0" height="24.5" fill="#595959"/>
<rect x="1995.9" y="1494.4" width="26.0" height="24.5" fill="#787878"/>
<rect x="2021.2" y="1494.4" width="26.0" height="24.5" fill="#424242"/>
<rect x="2046.6" y="1494.4" width="26.0" height="24.5" fill="#1f1f1f"/>
<rect x="2072.0" y="1494.4" width="26.0" height="24.5" fill="#1f1f1f"/>
<rect x="1539.0" y="1518.3" width="26.0" height="24.5" fill="#919191"/>
<rect x="1564.4" y="1518.3" width="26.0" height="24.5" fill="#919191"/>
<rect x="1589.8" y="1518.3" width="26.0" height="24.5" fill="#595959"/>
<rect x="1615.2" y="1518.3" width="26.0" height="24.5" fill="#595959"/>
<rect x="1640.5" y="1518.3" width="26.0" height="24.5" fill="#1f1f1f"/>
<rect x="1665.9" y="1518.3" width="26.0" height="24.5" fill="#1f1f1f"/>
<rect x="1691.3" y="1518.3" width="26.0" height="24.5" fill="#1f1f1f"/>
<rect x="1716.7" y="1518.3" width="26.0" height="24.5" fill="#1f1f1f"/>
<rect x="1742.1" y="1518.3" width="26.0" height="24.5" fill="#000000"/>
<rect x="1767.4" y="1518.3" width="26.0" height="24.5" fill="#000000"/>
<rect x="1792.8" y="1518.3" width="26.0" height="24.5" fill="#1f1f1f"/>
<rect x="1818.2" y="1518.3" width="26.0" height="24.5" fill="#424242"/>
<rect x="1843.6" y="1518.3" width="26.0" height="24.5" fill="#1f1f1f"/>
<rect x="1869.0" y="1518.3" width="26.0" height="24.5" fill="#000000"/>
<rect x="1894.3" y="1518.3" width="26.0" height="24.5" fill="#000000"/>
<rect x="1919.7" y="1518.3" width="26.0" height="24.5" fill="#000000"/>
<rect x="1945.1" y="1518.3" width="26.0" height="24.5" fill="#1f1f1f"/>
<rect x="1970.5" y="1518.3" width="26.0" height="24.5" fill="#424242"/>
<rect x="1995.9" y="1518.3" width="26.0" height="24.5" fill="#424242"/>
<rect x="2021.2" y="1518.3" width="26.0" height="24.5" fill="#1f1f1f"/>
<rect x="2046.6" y="1518.3" width="26.0" height="24.5" fill="#1f1f1f"/>
<rect x="2072.0" y="1518.3" width="26.0" height="24.5" fill="#1f1f1f"/>
<rect x="1539.0" y="1542.2" width="26.0" height="24.5" fill="#919191"/>
<rect x="1564.4" y="1542.2" width="26.0" height="24.5" fill="#919191"/>
<rect x="1589.8" y="1542.2" width="26.0" height="24.5" fill="#595959"/>
<rect x="1615.2" y="1542.2" width="26.0" height="24.5" fill="#595959"/>
<rect x="1640.5" y="1542.2" width="26.0" height="24.5" fill="#1f1f1f"/>
<rect x="1665.9" y="1542.2" width="26.0" height="24.5" fill="#1f1f1f"/>
<rect x="1691.3" y="1542.2" width="26.0" height="24.5" fill="#1f1f1f"/>
<rect x="1716.7" y="1542.2" width="26.0" height="24.5" fill="#1f1f1f"/>
<rect x="1742.1" y="1542.2" width="26.0" height="24.5" fill="#000000"/>
<rect x="1767.4" y="1542.2" width="26.0" height="24.5" fill="#000000"/>
<rect x="1792.8" y="1542.2" width="26.0" height="24.5" fill="#1f1f1f"/>
<rect x="1818.2" y="1542.2" width="26.0" height="24.5" fill="#424242"/>
<rect x="1843.6" y="1542.2" width="26.0" height="24.5" fill="#1f1f1f"/>
<rect x="1869.0" y="1542.2" width="26.0" height="24.5" fill="#000000"/>
<rect x="1894.3" y="1542.2" width="26.0" height="24.5" fill="#000000"/>
<rect x="1919.7" y="1542.2" width="26.0" height="24.5" fill="#000000"/>
<rect x="1945.1" y="1542.2" width="26.0" height="24.5" fill="#1f1f1f"/>
<rect x="1970.5" y="1542.2" width="26.0" height="24.5" fill="#424242"/>
<rect x="1995.9" y="1542.2" width="26.0" height="24.5" fill="#424242"/>
<rect x="2021.2" y="1542.2" width="26.0" height="24.5" fill="#1f1f1f"/>
<rect x="2046.6" y="1542.2" width="26.0" height="24.5" fill="#1f1f1f"/>
<rect x="2072.0" y="1542.2" width="26.0" height="24.5" fill="#1f1f1f"/>
</g>
<line x1="1641.1" y1="1063.7" x2="1641.1" y2="1542.2" stroke="#fff" stroke-width="1.6" stroke-dasharray="2 3" opacity="0.45"/>
<line x1="1732.5" y1="1063.7" x2="1732.5" y2="1542.2" stroke="#fff" stroke-width="1.6" stroke-dasharray="2 3" opacity="0.45"/>
<line x1="1823.9" y1="1063.7" x2="1823.9" y2="1542.2" stroke="#fff" stroke-width="1.6" stroke-dasharray="2 3" opacity="0.45"/>
<line x1="1915.3" y1="1063.7" x2="1915.3" y2="1542.2" stroke="#fff" stroke-width="1.6" stroke-dasharray="2 3" opacity="0.45"/>
<line x1="2006.7" y1="1063.7" x2="2006.7" y2="1542.2" stroke="#fff" stroke-width="1.6" stroke-dasharray="2 3" opacity="0.45"/>
<line x1="1564.4" y1="1110.8" x2="2072.0" y2="1110.8" stroke="#fff" stroke-width="1.6" stroke-dasharray="2 3" opacity="0.45"/>
<line x1="1564.4" y1="1206.7" x2="2072.0" y2="1206.7" stroke="#fff" stroke-width="1.6" stroke-dasharray="2 3" opacity="0.45"/>
<line x1="1564.4" y1="1302.6" x2="2072.0" y2="1302.6" stroke="#fff" stroke-width="1.6" stroke-dasharray="2 3" opacity="0.45"/>
<line x1="1564.4" y1="1398.5" x2="2072.0" y2="1398.5" stroke="#fff" stroke-width="1.6" stroke-dasharray="2 3" opacity="0.45"/>
<line x1="1564.4" y1="1494.4" x2="2072.0" y2="1494.4" stroke="#fff" stroke-width="1.6" stroke-dasharray="2 3" opacity="0.45"/>
<line x1="1816.4" y1="1212.0" x2="1816.4" y2="1542.0" stroke="#fff" stroke-width="2.2"/>
<line x1="1651.9" y1="1149.0" x2="1651.9" y2="1220.0" stroke="#fff" stroke-width="2.2"/>
</g>
<rect x="1613.3" y="1235.2" width="46" height="46" fill="none" stroke="#f28b5b" stroke-width="10.7"/>
<rect x="1644.9" y="1371.7" width="46" height="46" fill="none" stroke="#0bb47f" stroke-width="10.7"/>
<rect x="1972.2" y="1341.0" width="46" height="46" fill="none" stroke="#308ac0" stroke-width="10.7"/></g>
<rect x="1562.4" y="1061.7" width="511.6" height="482.5" fill="none" stroke="#262a2c" stroke-width="4.2"/>
<line x1="1641.1" y1="1059.7" x2="1641.1" y2="1040.7" stroke="#1c1c1c" stroke-width="4.3"/>
<line x1="1641.1" y1="1546.2" x2="1641.1" y2="1565.2" stroke="#1c1c1c" stroke-width="4.3"/>
<line x1="1732.5" y1="1059.7" x2="1732.5" y2="1040.7" stroke="#1c1c1c" stroke-width="4.3"/>
<line x1="1732.5" y1="1546.2" x2="1732.5" y2="1565.2" stroke="#1c1c1c" stroke-width="4.3"/>
<line x1="1823.9" y1="1059.7" x2="1823.9" y2="1040.7" stroke="#1c1c1c" stroke-width="4.3"/>
<line x1="1823.9" y1="1546.2" x2="1823.9" y2="1565.2" stroke="#1c1c1c" stroke-width="4.3"/>
<line x1="1915.3" y1="1059.7" x2="1915.3" y2="1040.7" stroke="#1c1c1c" stroke-width="4.3"/>
<line x1="1915.3" y1="1546.2" x2="1915.3" y2="1565.2" stroke="#1c1c1c" stroke-width="4.3"/>
<line x1="2006.7" y1="1059.7" x2="2006.7" y2="1040.7" stroke="#1c1c1c" stroke-width="4.3"/>
<line x1="2006.7" y1="1546.2" x2="2006.7" y2="1565.2" stroke="#1c1c1c" stroke-width="4.3"/>
<line x1="1560.4" y1="1110.8" x2="1541.4" y2="1110.8" stroke="#1c1c1c" stroke-width="4.3"/>
<line x1="2076.0" y1="1110.8" x2="2095.0" y2="1110.8" stroke="#1c1c1c" stroke-width="4.3"/>
<line x1="1560.4" y1="1206.7" x2="1541.4" y2="1206.7" stroke="#1c1c1c" stroke-width="4.3"/>
<line x1="2076.0" y1="1206.7" x2="2095.0" y2="1206.7" stroke="#1c1c1c" stroke-width="4.3"/>
<line x1="1560.4" y1="1302.6" x2="1541.4" y2="1302.6" stroke="#1c1c1c" stroke-width="4.3"/>
<line x1="2076.0" y1="1302.6" x2="2095.0" y2="1302.6" stroke="#1c1c1c" stroke-width="4.3"/>
<line x1="1560.4" y1="1398.5" x2="1541.4" y2="1398.5" stroke="#1c1c1c" stroke-width="4.3"/>
<line x1="2076.0" y1="1398.5" x2="2095.0" y2="1398.5" stroke="#1c1c1c" stroke-width="4.3"/>
<line x1="1560.4" y1="1494.4" x2="1541.4" y2="1494.4" stroke="#1c1c1c" stroke-width="4.3"/>
<line x1="2076.0" y1="1494.4" x2="2095.0" y2="1494.4" stroke="#1c1c1c" stroke-width="4.3"/>
<text x="1641.1" y="1605.6" font-size="38.4" text-anchor="middle">-420"</text>
<text x="1732.5" y="1605.6" font-size="38.4" text-anchor="middle">-400"</text>
<text x="1823.9" y="1605.6" font-size="38.4" text-anchor="middle">-380"</text>
<text x="1915.3" y="1605.6" font-size="38.4" text-anchor="middle">-360"</text>
<text x="2006.7" y="1605.6" font-size="38.4" text-anchor="middle">-340"</text>
<text x="1818.2" y="1665.6" font-size="42.2" text-anchor="middle">Solar X (arcsec)</text>
<text x="1819.2" y="918.8" font-size="42.2" text-anchor="middle">f) C II 1336<tspan font-style="italic">Å</tspan> Line width</text>
<rect x="1564.5" y="1006.4" width="507.4" height="25.4" fill="url(#cbar)" stroke="#262a2c" stroke-width="4"/>
<line x1="1741.0" y1="1004.4" x2="1741.0" y2="985.4" stroke="#1c1c1c" stroke-width="4.3"/>
<text x="1741.0" y="962.0" font-size="38.4" text-anchor="middle">0.1</text>
<line x1="1961.6" y1="1004.4" x2="1961.6" y2="985.4" stroke="#1c1c1c" stroke-width="4.3"/>
<text x="1961.6" y="962.0" font-size="38.4" text-anchor="middle">0.2</text>
<text x="199.5" y="1118.8" font-size="38.4" text-anchor="end">580"</text>
<text x="199.5" y="1214.7" font-size="38.4" text-anchor="end">560"</text>
<text x="199.5" y="1310.6" font-size="38.4" text-anchor="end">540"</text>
<text x="199.5" y="1406.5" font-size="38.4" text-anchor="end">520"</text>
<text x="199.5" y="1502.4" font-size="38.4" text-anchor="end">500"</text>
<text x="91.0" y="1300.4" font-size="42.2" text-anchor="middle" transform="rotate(-90 91.0 1300.4)">Solar Y (arcsec)</text>
<rect x="514.1" y="1682.5" width="77" height="28" fill="#8fb0d6" stroke="#308ac0" stroke-width="3"/>
<text x="621.9" y="1709.6" font-size="38.4" text-anchor="start">Leading polarity</text>
<rect x="969.3" y="1682.5" width="77" height="28" fill="#f8be9b" stroke="#f28b5b" stroke-width="3"/>
<text x="1077.1" y="1709.6" font-size="38.4" text-anchor="start">Following polarity</text>
<rect x="1448.7" y="1682.5" width="77" height="28" fill="#93d2b4" stroke="#0bb47f" stroke-width="3"/>
<text x="1556.5" y="1709.6" font-size="38.4" text-anchor="start">Emerging flux</text>
<clipPath id="clipg"><rect x="171.0" y="1755.8" width="632.8" height="602.2"/></clipPath>
<g clip-path="url(#clipg)">
<path d="M171.0,2103.0 C171.5,2104.4 171.8,2100.3 174.0,2110.8 C176.2,2121.3 179.8,2146.0 183.0,2161.5 C186.2,2177.0 188.4,2187.6 191.9,2197.0 C195.4,2206.4 198.6,2211.4 202.3,2213.6 C206.0,2215.8 208.1,2213.6 212.7,2209.0 C217.3,2204.4 222.2,2195.2 227.6,2188.3 C233.0,2181.4 237.1,2175.5 242.5,2170.4 C247.9,2165.3 252.0,2162.6 257.4,2160.0 C262.8,2157.4 264.4,2156.5 272.4,2156.0 C280.4,2155.5 290.7,2156.3 302.0,2157.0 C313.3,2157.7 326.9,2159.7 335.0,2160.0 C343.1,2160.3 339.5,2161.5 347.0,2158.5 C354.5,2155.5 367.1,2147.4 376.7,2143.6 C386.3,2139.8 390.9,2138.1 400.6,2137.6 C410.3,2137.1 421.8,2141.1 430.4,2140.6 C439.0,2140.1 441.9,2138.9 448.3,2134.6 C454.7,2130.3 460.3,2120.7 466.0,2116.7 C471.7,2112.7 475.9,2113.5 480.0,2112.2 C484.1,2110.9 485.2,2108.8 489.0,2109.3 C492.8,2109.8 496.1,2111.5 500.9,2115.2 C505.7,2118.9 510.4,2123.9 515.8,2130.1 C521.2,2136.3 525.3,2142.2 530.7,2149.5 C536.1,2156.8 540.2,2164.2 545.6,2170.4 C551.0,2176.6 555.1,2180.8 560.5,2183.8 C565.9,2186.8 569.5,2186.0 575.4,2186.8 C581.3,2187.6 587.4,2186.7 593.3,2188.3 C599.2,2189.9 602.8,2192.0 608.2,2195.7 C613.6,2199.4 616.7,2204.0 623.1,2209.1 C629.5,2214.2 636.0,2218.1 644.0,2224.0 C652.0,2229.9 659.8,2236.1 667.8,2242.0 C675.8,2247.9 680.6,2251.5 688.7,2256.9 C696.8,2262.3 704.6,2265.9 712.6,2271.8 C720.6,2277.7 725.9,2283.3 733.4,2289.7 C740.9,2296.1 746.2,2302.1 754.3,2307.5 C762.4,2312.9 769.3,2316.2 778.2,2319.5 C787.1,2322.8 799.4,2324.8 804.0,2326.0 L804.0,2363.0 L171.0,2363.0 Z" fill="#48b482" fill-opacity="0.6" stroke="none"/>
<path d="M171.0,2103.0 C171.5,2104.4 171.8,2100.3 174.0,2110.8 C176.2,2121.3 179.8,2146.0 183.0,2161.5 C186.2,2177.0 188.4,2187.6 191.9,2197.0 C195.4,2206.4 198.6,2211.4 202.3,2213.6 C206.0,2215.8 208.1,2213.6 212.7,2209.0 C217.3,2204.4 222.2,2195.2 227.6,2188.3 C233.0,2181.4 237.1,2175.5 242.5,2170.4 C247.9,2165.3 252.0,2162.6 257.4,2160.0 C262.8,2157.4 264.4,2156.5 272.4,2156.0 C280.4,2155.5 290.7,2156.3 302.0,2157.0 C313.3,2157.7 326.9,2159.7 335.0,2160.0 C343.1,2160.3 339.5,2161.5 347.0,2158.5 C354.5,2155.5 367.1,2147.4 376.7,2143.6 C386.3,2139.8 390.9,2138.1 400.6,2137.6 C410.3,2137.1 421.8,2141.1 430.4,2140.6 C439.0,2140.1 441.9,2138.9 448.3,2134.6 C454.7,2130.3 460.3,2120.7 466.0,2116.7 C471.7,2112.7 475.9,2113.5 480.0,2112.2 C484.1,2110.9 485.2,2108.8 489.0,2109.3 C492.8,2109.8 496.1,2111.5 500.9,2115.2 C505.7,2118.9 510.4,2123.9 515.8,2130.1 C521.2,2136.3 525.3,2142.2 530.7,2149.5 C536.1,2156.8 540.2,2164.2 545.6,2170.4 C551.0,2176.6 555.1,2180.8 560.5,2183.8 C565.9,2186.8 569.5,2186.0 575.4,2186.8 C581.3,2187.6 587.4,2186.7 593.3,2188.3 C599.2,2189.9 602.8,2192.0 608.2,2195.7 C613.6,2199.4 616.7,2204.0 623.1,2209.1 C629.5,2214.2 636.0,2218.1 644.0,2224.0 C652.0,2229.9 659.8,2236.1 667.8,2242.0 C675.8,2247.9 680.6,2251.5 688.7,2256.9 C696.8,2262.3 704.6,2265.9 712.6,2271.8 C720.6,2277.7 725.9,2283.3 733.4,2289.7 C740.9,2296.1 746.2,2302.1 754.3,2307.5 C762.4,2312.9 769.3,2316.2 778.2,2319.5 C787.1,2322.8 799.4,2324.8 804.0,2326.0" fill="none" stroke="#14ad72" stroke-width="3.0" stroke-linejoin="round"/>
<path d="M171.0,2358.0 C187.0,2357.6 238.6,2357.3 260.0,2356.0 C281.4,2354.7 278.7,2350.7 290.0,2350.8 C301.3,2350.9 306.3,2356.0 323.0,2356.8 C339.7,2357.6 366.6,2356.4 382.7,2355.0 C398.8,2353.6 401.8,2351.4 412.5,2349.0 C423.2,2346.6 433.8,2344.5 442.3,2341.8 C450.9,2339.1 454.1,2338.6 460.0,2334.0 C465.9,2329.4 471.4,2321.3 475.0,2316.5 C478.6,2311.7 477.8,2312.9 480.0,2307.5 C482.2,2302.1 484.8,2294.7 487.0,2286.7 C489.2,2278.7 489.0,2277.3 492.0,2262.8 C495.0,2248.3 499.1,2230.3 503.9,2206.2 C508.7,2182.1 514.0,2156.1 518.8,2128.7 C523.6,2101.3 526.4,2080.3 530.7,2054.0 C535.0,2027.7 538.3,2007.8 542.6,1982.6 C546.9,1957.4 550.7,1934.4 554.5,1914.0 C558.3,1893.6 559.5,1882.8 563.5,1869.3 C567.5,1855.8 569.9,1840.7 576.9,1838.8 C583.9,1836.9 595.5,1857.6 602.2,1858.8 C608.9,1860.0 609.6,1848.9 614.2,1845.4 C618.8,1841.9 623.0,1835.6 627.6,1839.4 C632.2,1843.2 634.9,1853.1 639.5,1866.3 C644.1,1879.5 648.3,1899.6 652.9,1912.5 C657.5,1925.4 660.6,1931.1 664.9,1937.8 C669.2,1944.5 672.0,1943.4 676.8,1949.8 C681.6,1956.2 685.3,1962.3 691.7,1973.6 C698.1,1984.9 706.2,2000.9 712.6,2012.4 C719.0,2023.9 722.7,2031.8 727.5,2037.7 C732.3,2043.6 735.1,2044.0 739.4,2045.2 C743.7,2046.4 746.5,2042.7 751.3,2044.6 C756.1,2046.5 761.4,2046.9 766.2,2055.6 C771.0,2064.3 774.2,2079.2 778.2,2092.9 C782.2,2106.6 784.0,2119.9 788.6,2131.6 C793.2,2143.3 801.2,2153.2 804.0,2158.0 L804.0,2363.0 L171.0,2363.0 Z" fill="#f39358" fill-opacity="0.6" stroke="none"/>
<path d="M171.0,2358.0 C187.0,2357.6 238.6,2357.3 260.0,2356.0 C281.4,2354.7 278.7,2350.7 290.0,2350.8 C301.3,2350.9 306.3,2356.0 323.0,2356.8 C339.7,2357.6 366.6,2356.4 382.7,2355.0 C398.8,2353.6 401.8,2351.4 412.5,2349.0 C423.2,2346.6 433.8,2344.5 442.3,2341.8 C450.9,2339.1 454.1,2338.6 460.0,2334.0 C465.9,2329.4 471.4,2321.3 475.0,2316.5 C478.6,2311.7 477.8,2312.9 480.0,2307.5 C482.2,2302.1 484.8,2294.7 487.0,2286.7 C489.2,2278.7 489.0,2277.3 492.0,2262.8 C495.0,2248.3 499.1,2230.3 503.9,2206.2 C508.7,2182.1 514.0,2156.1 518.8,2128.7 C523.6,2101.3 526.4,2080.3 530.7,2054.0 C535.0,2027.7 538.3,2007.8 542.6,1982.6 C546.9,1957.4 550.7,1934.4 554.5,1914.0 C558.3,1893.6 559.5,1882.8 563.5,1869.3 C567.5,1855.8 569.9,1840.7 576.9,1838.8 C583.9,1836.9 595.5,1857.6 602.2,1858.8 C608.9,1860.0 609.6,1848.9 614.2,1845.4 C618.8,1841.9 623.0,1835.6 627.6,1839.4 C632.2,1843.2 634.9,1853.1 639.5,1866.3 C644.1,1879.5 648.3,1899.6 652.9,1912.5 C657.5,1925.4 660.6,1931.1 664.9,1937.8 C669.2,1944.5 672.0,1943.4 676.8,1949.8 C681.6,1956.2 685.3,1962.3 691.7,1973.6 C698.1,1984.9 706.2,2000.9 712.6,2012.4 C719.0,2023.9 722.7,2031.8 727.5,2037.7 C732.3,2043.6 735.1,2044.0 739.4,2045.2 C743.7,2046.4 746.5,2042.7 751.3,2044.6 C756.1,2046.5 761.4,2046.9 766.2,2055.6 C771.0,2064.3 774.2,2079.2 778.2,2092.9 C782.2,2106.6 784.0,2119.9 788.6,2131.6 C793.2,2143.3 801.2,2153.2 804.0,2158.0" fill="none" stroke="#ee7d45" stroke-width="3.0" stroke-linejoin="round"/>
<path d="M171.0,2331.0 C174.4,2329.9 183.6,2327.3 190.0,2325.0 C196.4,2322.7 200.5,2319.6 206.8,2318.0 C213.1,2316.4 218.6,2316.0 225.0,2316.0 C231.4,2316.0 237.2,2318.4 242.5,2318.0 C247.8,2317.6 249.7,2318.6 254.5,2313.5 C259.3,2308.4 263.5,2301.9 269.4,2289.6 C275.3,2277.3 281.9,2261.7 287.3,2245.0 C292.7,2228.3 295.5,2216.3 299.2,2197.0 C302.9,2177.7 303.7,2165.0 308.0,2137.6 C312.3,2110.2 317.1,2082.5 323.0,2045.0 C328.9,2007.5 335.9,1959.6 341.0,1929.0 C346.1,1898.4 347.7,1889.2 351.4,1875.0 C355.1,1860.8 357.8,1856.7 361.8,1850.0 C365.8,1843.3 370.5,1840.4 373.7,1838.0 C376.9,1835.6 377.0,1838.4 379.7,1836.5 C382.4,1834.6 384.3,1836.1 388.6,1827.5 C392.9,1818.9 399.5,1798.0 403.5,1788.8 C407.5,1779.6 407.8,1775.7 411.0,1776.2 C414.2,1776.7 417.9,1782.5 421.4,1791.7 C424.9,1800.9 426.6,1809.3 430.4,1827.5 C434.2,1845.7 438.0,1868.3 442.3,1893.0 C446.6,1917.7 450.4,1944.8 454.2,1964.7 C458.0,1984.6 460.0,1992.9 463.2,2003.4 C466.4,2013.9 469.3,2018.9 472.0,2022.8 C474.7,2026.7 475.3,2025.9 478.0,2025.0 C480.7,2024.1 484.5,2019.7 487.0,2018.0 C489.5,2016.3 489.2,2017.5 492.0,2015.4 C494.8,2013.3 498.7,2005.9 502.4,2006.4 C506.1,2006.9 508.2,2007.6 512.8,2018.3 C517.4,2029.0 522.9,2052.6 527.7,2066.0 C532.5,2079.4 535.3,2087.0 539.6,2092.9 C543.9,2098.8 546.8,2096.7 551.6,2098.8 C556.4,2100.9 561.7,2101.6 566.5,2104.8 C571.3,2108.0 574.1,2110.8 578.4,2116.7 C582.7,2122.6 585.5,2126.9 590.3,2137.6 C595.1,2148.3 599.8,2164.1 605.2,2176.4 C610.6,2188.7 614.7,2194.4 620.1,2206.2 C625.5,2218.0 630.2,2230.7 635.0,2242.0 C639.8,2253.3 642.7,2262.1 647.0,2268.8 C651.3,2275.5 653.5,2276.0 658.9,2279.2 C664.3,2282.4 670.4,2282.1 676.8,2286.7 C683.2,2291.3 688.3,2297.1 694.7,2304.6 C701.1,2312.1 707.2,2322.8 712.6,2328.4 C718.0,2334.0 719.1,2334.8 724.5,2335.9 C729.9,2337.0 734.9,2334.4 742.4,2334.4 C749.9,2334.4 758.2,2336.4 766.2,2335.9 C774.2,2335.4 780.3,2331.9 787.1,2331.4 C793.9,2330.9 801.0,2332.7 804.0,2333.0 L804.0,2363.0 L171.0,2363.0 Z" fill="#3f7bbc" fill-opacity="0.6" stroke="none"/>
<path d="M171.0,2331.0 C174.4,2329.9 183.6,2327.3 190.0,2325.0 C196.4,2322.7 200.5,2319.6 206.8,2318.0 C213.1,2316.4 218.6,2316.0 225.0,2316.0 C231.4,2316.0 237.2,2318.4 242.5,2318.0 C247.8,2317.6 249.7,2318.6 254.5,2313.5 C259.3,2308.4 263.5,2301.9 269.4,2289.6 C275.3,2277.3 281.9,2261.7 287.3,2245.0 C292.7,2228.3 295.5,2216.3 299.2,2197.0 C302.9,2177.7 303.7,2165.0 308.0,2137.6 C312.3,2110.2 317.1,2082.5 323.0,2045.0 C328.9,2007.5 335.9,1959.6 341.0,1929.0 C346.1,1898.4 347.7,1889.2 351.4,1875.0 C355.1,1860.8 357.8,1856.7 361.8,1850.0 C365.8,1843.3 370.5,1840.4 373.7,1838.0 C376.9,1835.6 377.0,1838.4 379.7,1836.5 C382.4,1834.6 384.3,1836.1 388.6,1827.5 C392.9,1818.9 399.5,1798.0 403.5,1788.8 C407.5,1779.6 407.8,1775.7 411.0,1776.2 C414.2,1776.7 417.9,1782.5 421.4,1791.7 C424.9,1800.9 426.6,1809.3 430.4,1827.5 C434.2,1845.7 438.0,1868.3 442.3,1893.0 C446.6,1917.7 450.4,1944.8 454.2,1964.7 C458.0,1984.6 460.0,1992.9 463.2,2003.4 C466.4,2013.9 469.3,2018.9 472.0,2022.8 C474.7,2026.7 475.3,2025.9 478.0,2025.0 C480.7,2024.1 484.5,2019.7 487.0,2018.0 C489.5,2016.3 489.2,2017.5 492.0,2015.4 C494.8,2013.3 498.7,2005.9 502.4,2006.4 C506.1,2006.9 508.2,2007.6 512.8,2018.3 C517.4,2029.0 522.9,2052.6 527.7,2066.0 C532.5,2079.4 535.3,2087.0 539.6,2092.9 C543.9,2098.8 546.8,2096.7 551.6,2098.8 C556.4,2100.9 561.7,2101.6 566.5,2104.8 C571.3,2108.0 574.1,2110.8 578.4,2116.7 C582.7,2122.6 585.5,2126.9 590.3,2137.6 C595.1,2148.3 599.8,2164.1 605.2,2176.4 C610.6,2188.7 614.7,2194.4 620.1,2206.2 C625.5,2218.0 630.2,2230.7 635.0,2242.0 C639.8,2253.3 642.7,2262.1 647.0,2268.8 C651.3,2275.5 653.5,2276.0 658.9,2279.2 C664.3,2282.4 670.4,2282.1 676.8,2286.7 C683.2,2291.3 688.3,2297.1 694.7,2304.6 C701.1,2312.1 707.2,2322.8 712.6,2328.4 C718.0,2334.0 719.1,2334.8 724.5,2335.9 C729.9,2337.0 734.9,2334.4 742.4,2334.4 C749.9,2334.4 758.2,2336.4 766.2,2335.9 C774.2,2335.4 780.3,2331.9 787.1,2331.4 C793.9,2330.9 801.0,2332.7 804.0,2333.0" fill="none" stroke="#1b7dc0" stroke-width="3.0" stroke-linejoin="round"/>
</g>
<clipPath id="cliph"><rect x="836.2" y="1755.8" width="632.8" height="602.2"/></clipPath>
<g clip-path="url(#cliph)">
<path d="M836.2,1873.0 C836.6,1874.5 836.7,1870.1 838.5,1881.2 C840.3,1892.3 843.0,1915.6 846.0,1934.9 C849.0,1954.2 851.4,1977.2 854.9,1988.5 C858.4,1999.8 861.6,1996.4 865.3,1997.5 C869.0,1998.6 871.9,1994.0 875.7,1994.5 C879.5,1995.0 882.4,1995.6 886.2,2000.4 C890.0,2005.2 892.0,2008.4 896.6,2021.3 C901.2,2034.2 906.1,2053.2 911.5,2072.0 C916.9,2090.8 921.0,2108.5 926.4,2125.7 C931.8,2142.9 935.4,2152.4 941.3,2167.4 C947.2,2182.4 952.8,2195.7 959.2,2209.1 C965.6,2222.5 971.2,2233.1 977.1,2242.0 C983.0,2250.9 986.9,2254.6 992.0,2258.3 C997.1,2262.0 1000.6,2263.1 1005.4,2262.8 C1010.2,2262.5 1012.2,2262.3 1018.9,2256.9 C1025.6,2251.5 1034.1,2242.1 1042.7,2233.0 C1051.3,2223.9 1059.6,2213.7 1066.6,2206.2 C1073.6,2198.7 1076.1,2194.5 1081.5,2191.3 C1086.9,2188.1 1090.5,2187.8 1096.4,2188.3 C1102.3,2188.8 1107.9,2191.0 1114.3,2194.2 C1120.7,2197.4 1125.7,2201.9 1132.1,2206.2 C1138.5,2210.5 1143.6,2214.9 1150.0,2218.1 C1156.4,2221.3 1162.5,2224.0 1167.9,2224.0 C1173.3,2224.0 1174.4,2221.3 1179.8,2218.1 C1185.2,2214.9 1190.7,2209.4 1197.7,2206.2 C1204.7,2203.0 1211.1,2199.7 1218.6,2200.2 C1226.1,2200.7 1231.9,2203.7 1239.4,2209.1 C1246.9,2214.5 1252.8,2221.9 1260.3,2230.0 C1267.8,2238.1 1273.2,2245.9 1281.2,2253.9 C1289.2,2261.9 1296.4,2267.7 1305.0,2274.7 C1313.6,2281.7 1319.2,2287.8 1328.9,2292.6 C1338.6,2297.4 1348.0,2297.3 1358.7,2301.6 C1369.4,2305.9 1377.8,2312.2 1388.5,2316.5 C1399.2,2320.8 1403.8,2322.7 1418.3,2325.4 C1432.8,2328.1 1459.9,2330.3 1469.0,2331.4 L1469.0,2363.0 L836.2,2363.0 Z" fill="#48b482" fill-opacity="0.6" stroke="none"/>
<path d="M836.2,1873.0 C836.6,1874.5 836.7,1870.1 838.5,1881.2 C840.3,1892.3 843.0,1915.6 846.0,1934.9 C849.0,1954.2 851.4,1977.2 854.9,1988.5 C858.4,1999.8 861.6,1996.4 865.3,1997.5 C869.0,1998.6 871.9,1994.0 875.7,1994.5 C879.5,1995.0 882.4,1995.6 886.2,2000.4 C890.0,2005.2 892.0,2008.4 896.6,2021.3 C901.2,2034.2 906.1,2053.2 911.5,2072.0 C916.9,2090.8 921.0,2108.5 926.4,2125.7 C931.8,2142.9 935.4,2152.4 941.3,2167.4 C947.2,2182.4 952.8,2195.7 959.2,2209.1 C965.6,2222.5 971.2,2233.1 977.1,2242.0 C983.0,2250.9 986.9,2254.6 992.0,2258.3 C997.1,2262.0 1000.6,2263.1 1005.4,2262.8 C1010.2,2262.5 1012.2,2262.3 1018.9,2256.9 C1025.6,2251.5 1034.1,2242.1 1042.7,2233.0 C1051.3,2223.9 1059.6,2213.7 1066.6,2206.2 C1073.6,2198.7 1076.1,2194.5 1081.5,2191.3 C1086.9,2188.1 1090.5,2187.8 1096.4,2188.3 C1102.3,2188.8 1107.9,2191.0 1114.3,2194.2 C1120.7,2197.4 1125.7,2201.9 1132.1,2206.2 C1138.5,2210.5 1143.6,2214.9 1150.0,2218.1 C1156.4,2221.3 1162.5,2224.0 1167.9,2224.0 C1173.3,2224.0 1174.4,2221.3 1179.8,2218.1 C1185.2,2214.9 1190.7,2209.4 1197.7,2206.2 C1204.7,2203.0 1211.1,2199.7 1218.6,2200.2 C1226.1,2200.7 1231.9,2203.7 1239.4,2209.1 C1246.9,2214.5 1252.8,2221.9 1260.3,2230.0 C1267.8,2238.1 1273.2,2245.9 1281.2,2253.9 C1289.2,2261.9 1296.4,2267.7 1305.0,2274.7 C1313.6,2281.7 1319.2,2287.8 1328.9,2292.6 C1338.6,2297.4 1348.0,2297.3 1358.7,2301.6 C1369.4,2305.9 1377.8,2312.2 1388.5,2316.5 C1399.2,2320.8 1403.8,2322.7 1418.3,2325.4 C1432.8,2328.1 1459.9,2330.3 1469.0,2331.4" fill="none" stroke="#14ad72" stroke-width="3.0" stroke-linejoin="round"/>
<path d="M836.2,2341.5 C842.3,2342.5 854.4,2345.3 870.0,2347.0 C885.6,2348.7 905.9,2351.2 923.0,2350.8 C940.1,2350.4 951.1,2344.0 965.0,2344.8 C978.9,2345.6 988.3,2353.2 1000.0,2355.0 C1011.7,2356.8 1018.1,2356.8 1030.0,2355.0 C1041.9,2353.2 1054.7,2346.1 1066.0,2344.8 C1077.3,2343.5 1083.8,2349.1 1093.0,2347.8 C1102.2,2346.5 1108.4,2343.6 1117.0,2337.4 C1125.6,2331.2 1135.1,2319.4 1141.0,2313.5 C1146.9,2307.6 1146.2,2313.7 1150.0,2304.6 C1153.8,2295.5 1157.6,2282.1 1161.9,2262.8 C1166.2,2243.5 1169.1,2225.1 1173.9,2197.2 C1178.7,2169.3 1182.9,2140.0 1188.8,2107.8 C1194.7,2075.6 1201.2,2046.2 1206.6,2018.3 C1212.0,1990.4 1214.3,1972.6 1218.6,1952.7 C1222.9,1932.8 1226.2,1919.5 1230.5,1908.0 C1234.8,1896.5 1238.1,1892.6 1242.4,1888.6 C1246.7,1884.6 1248.5,1885.2 1254.4,1885.7 C1260.3,1886.2 1268.2,1888.9 1275.2,1891.6 C1282.2,1894.3 1287.7,1896.8 1293.1,1900.6 C1298.5,1904.4 1300.2,1905.3 1305.0,1912.5 C1309.8,1919.7 1315.2,1930.3 1320.0,1940.8 C1324.8,1951.3 1327.6,1962.6 1331.9,1970.6 C1336.2,1978.6 1339.0,1981.5 1343.8,1985.5 C1348.6,1989.5 1352.8,1988.2 1358.7,1993.0 C1364.6,1997.8 1369.6,2003.5 1376.6,2012.4 C1383.6,2021.3 1391.1,2033.1 1397.5,2042.2 C1403.9,2051.3 1407.0,2053.3 1412.4,2063.0 C1417.8,2072.7 1421.9,2086.2 1427.3,2095.9 C1432.7,2105.6 1436.8,2114.0 1442.2,2116.7 C1447.6,2119.4 1452.3,2111.6 1457.1,2110.8 C1461.9,2110.0 1466.9,2112.2 1469.0,2112.5 L1469.0,2363.0 L836.2,2363.0 Z" fill="#f39358" fill-opacity="0.6" stroke="none"/>
<path d="M836.2,2341.5 C842.3,2342.5 854.4,2345.3 870.0,2347.0 C885.6,2348.7 905.9,2351.2 923.0,2350.8 C940.1,2350.4 951.1,2344.0 965.0,2344.8 C978.9,2345.6 988.3,2353.2 1000.0,2355.0 C1011.7,2356.8 1018.1,2356.8 1030.0,2355.0 C1041.9,2353.2 1054.7,2346.1 1066.0,2344.8 C1077.3,2343.5 1083.8,2349.1 1093.0,2347.8 C1102.2,2346.5 1108.4,2343.6 1117.0,2337.4 C1125.6,2331.2 1135.1,2319.4 1141.0,2313.5 C1146.9,2307.6 1146.2,2313.7 1150.0,2304.6 C1153.8,2295.5 1157.6,2282.1 1161.9,2262.8 C1166.2,2243.5 1169.1,2225.1 1173.9,2197.2 C1178.7,2169.3 1182.9,2140.0 1188.8,2107.8 C1194.7,2075.6 1201.2,2046.2 1206.6,2018.3 C1212.0,1990.4 1214.3,1972.6 1218.6,1952.7 C1222.9,1932.8 1226.2,1919.5 1230.5,1908.0 C1234.8,1896.5 1238.1,1892.6 1242.4,1888.6 C1246.7,1884.6 1248.5,1885.2 1254.4,1885.7 C1260.3,1886.2 1268.2,1888.9 1275.2,1891.6 C1282.2,1894.3 1287.7,1896.8 1293.1,1900.6 C1298.5,1904.4 1300.2,1905.3 1305.0,1912.5 C1309.8,1919.7 1315.2,1930.3 1320.0,1940.8 C1324.8,1951.3 1327.6,1962.6 1331.9,1970.6 C1336.2,1978.6 1339.0,1981.5 1343.8,1985.5 C1348.6,1989.5 1352.8,1988.2 1358.7,1993.0 C1364.6,1997.8 1369.6,2003.5 1376.6,2012.4 C1383.6,2021.3 1391.1,2033.1 1397.5,2042.2 C1403.9,2051.3 1407.0,2053.3 1412.4,2063.0 C1417.8,2072.7 1421.9,2086.2 1427.3,2095.9 C1432.7,2105.6 1436.8,2114.0 1442.2,2116.7 C1447.6,2119.4 1452.3,2111.6 1457.1,2110.8 C1461.9,2110.0 1466.9,2112.2 1469.0,2112.5" fill="none" stroke="#ee7d45" stroke-width="3.0" stroke-linejoin="round"/>
<path d="M836.2,2285.0 C836.6,2285.3 834.6,2284.8 838.5,2286.7 C842.4,2288.6 851.7,2295.1 857.9,2295.6 C864.1,2296.1 866.4,2294.0 872.8,2289.7 C879.2,2285.4 886.6,2276.4 893.6,2271.8 C900.6,2267.2 905.6,2266.2 911.5,2264.3 C917.4,2262.4 921.0,2264.3 926.4,2261.3 C931.8,2258.3 935.4,2256.2 941.3,2247.9 C947.2,2239.6 952.8,2226.9 959.2,2215.1 C965.6,2203.3 970.1,2193.0 977.1,2182.3 C984.1,2171.6 991.6,2166.2 998.0,2155.5 C1004.4,2144.8 1007.5,2136.6 1012.9,2122.7 C1018.3,2108.8 1022.4,2096.8 1027.8,2078.0 C1033.2,2059.2 1037.3,2040.3 1042.7,2018.3 C1048.1,1996.3 1052.2,1972.3 1057.6,1955.7 C1063.0,1939.1 1066.1,1933.7 1072.5,1925.9 C1078.9,1918.1 1086.4,1913.0 1093.4,1912.5 C1100.4,1912.0 1105.4,1915.7 1111.3,1922.9 C1117.2,1930.1 1120.3,1939.3 1126.2,1952.7 C1132.1,1966.1 1139.8,1988.4 1144.1,1997.5 C1148.4,2006.6 1146.8,1998.8 1150.0,2003.4 C1153.2,2008.0 1157.9,2018.5 1161.9,2022.8 C1165.9,2027.1 1168.6,2027.3 1172.4,2027.3 C1176.2,2027.3 1178.8,2024.4 1182.8,2022.8 C1186.8,2021.2 1190.4,2018.3 1194.7,2018.3 C1199.0,2018.3 1201.8,2018.0 1206.6,2022.8 C1211.4,2027.6 1216.2,2035.8 1221.6,2045.2 C1227.0,2054.6 1231.1,2062.7 1236.5,2075.0 C1241.9,2087.3 1246.0,2099.2 1251.4,2113.7 C1256.8,2128.2 1260.9,2140.5 1266.3,2155.5 C1271.7,2170.5 1275.8,2184.3 1281.2,2197.2 C1286.6,2210.1 1290.2,2218.4 1296.1,2227.0 C1302.0,2235.6 1308.1,2239.6 1314.0,2245.0 C1319.9,2250.4 1323.0,2251.6 1328.9,2256.9 C1334.8,2262.2 1340.4,2268.3 1346.8,2274.7 C1353.2,2281.1 1357.2,2286.2 1364.7,2292.6 C1372.2,2299.0 1379.9,2305.7 1388.5,2310.5 C1397.1,2315.3 1403.8,2316.8 1412.4,2319.5 C1421.0,2322.2 1426.0,2323.5 1436.2,2325.4 C1446.4,2327.3 1463.1,2329.2 1469.0,2330.0 L1469.0,2363.0 L836.2,2363.0 Z" fill="#3f7bbc" fill-opacity="0.6" stroke="none"/>
<path d="M836.2,2285.0 C836.6,2285.3 834.6,2284.8 838.5,2286.7 C842.4,2288.6 851.7,2295.1 857.9,2295.6 C864.1,2296.1 866.4,2294.0 872.8,2289.7 C879.2,2285.4 886.6,2276.4 893.6,2271.8 C900.6,2267.2 905.6,2266.2 911.5,2264.3 C917.4,2262.4 921.0,2264.3 926.4,2261.3 C931.8,2258.3 935.4,2256.2 941.3,2247.9 C947.2,2239.6 952.8,2226.9 959.2,2215.1 C965.6,2203.3 970.1,2193.0 977.1,2182.3 C984.1,2171.6 991.6,2166.2 998.0,2155.5 C1004.4,2144.8 1007.5,2136.6 1012.9,2122.7 C1018.3,2108.8 1022.4,2096.8 1027.8,2078.0 C1033.2,2059.2 1037.3,2040.3 1042.7,2018.3 C1048.1,1996.3 1052.2,1972.3 1057.6,1955.7 C1063.0,1939.1 1066.1,1933.7 1072.5,1925.9 C1078.9,1918.1 1086.4,1913.0 1093.4,1912.5 C1100.4,1912.0 1105.4,1915.7 1111.3,1922.9 C1117.2,1930.1 1120.3,1939.3 1126.2,1952.7 C1132.1,1966.1 1139.8,1988.4 1144.1,1997.5 C1148.4,2006.6 1146.8,1998.8 1150.0,2003.4 C1153.2,2008.0 1157.9,2018.5 1161.9,2022.8 C1165.9,2027.1 1168.6,2027.3 1172.4,2027.3 C1176.2,2027.3 1178.8,2024.4 1182.8,2022.8 C1186.8,2021.2 1190.4,2018.3 1194.7,2018.3 C1199.0,2018.3 1201.8,2018.0 1206.6,2022.8 C1211.4,2027.6 1216.2,2035.8 1221.6,2045.2 C1227.0,2054.6 1231.1,2062.7 1236.5,2075.0 C1241.9,2087.3 1246.0,2099.2 1251.4,2113.7 C1256.8,2128.2 1260.9,2140.5 1266.3,2155.5 C1271.7,2170.5 1275.8,2184.3 1281.2,2197.2 C1286.6,2210.1 1290.2,2218.4 1296.1,2227.0 C1302.0,2235.6 1308.1,2239.6 1314.0,2245.0 C1319.9,2250.4 1323.0,2251.6 1328.9,2256.9 C1334.8,2262.2 1340.4,2268.3 1346.8,2274.7 C1353.2,2281.1 1357.2,2286.2 1364.7,2292.6 C1372.2,2299.0 1379.9,2305.7 1388.5,2310.5 C1397.1,2315.3 1403.8,2316.8 1412.4,2319.5 C1421.0,2322.2 1426.0,2323.5 1436.2,2325.4 C1446.4,2327.3 1463.1,2329.2 1469.0,2330.0" fill="none" stroke="#1b7dc0" stroke-width="3.0" stroke-linejoin="round"/>
</g>
<clipPath id="clipi"><rect x="1501.5" y="1755.8" width="632.8" height="602.2"/></clipPath>
<g clip-path="url(#clipi)">
<path d="M1501.5,2188.0 C1501.9,2189.1 1501.8,2188.2 1503.5,2194.2 C1505.2,2200.2 1507.9,2212.5 1510.9,2221.1 C1513.9,2229.7 1516.4,2236.9 1519.9,2242.0 C1523.4,2247.1 1526.6,2248.9 1530.3,2249.4 C1534.0,2249.9 1535.6,2248.4 1540.7,2244.9 C1545.8,2241.4 1551.6,2234.8 1558.6,2230.0 C1565.6,2225.2 1571.4,2221.1 1579.5,2218.1 C1587.6,2215.1 1595.4,2213.3 1603.4,2213.6 C1611.4,2213.9 1616.7,2216.1 1624.2,2219.6 C1631.7,2223.1 1638.1,2228.7 1645.1,2233.0 C1652.1,2237.3 1656.0,2240.4 1663.0,2243.4 C1670.0,2246.4 1675.9,2249.1 1683.9,2249.4 C1691.9,2249.7 1698.1,2246.5 1707.7,2244.9 C1717.3,2243.3 1726.8,2241.1 1737.5,2240.5 C1748.2,2239.9 1756.6,2241.7 1767.3,2241.4 C1778.0,2241.1 1788.6,2239.7 1797.2,2239.0 C1805.8,2238.3 1808.6,2239.1 1815.0,2237.5 C1821.4,2235.9 1826.5,2233.5 1832.9,2230.0 C1839.3,2226.5 1843.3,2222.4 1850.8,2218.1 C1858.3,2213.8 1865.5,2210.5 1874.6,2206.2 C1883.7,2201.9 1892.9,2199.0 1901.5,2194.2 C1910.1,2189.4 1914.8,2186.3 1922.3,2179.3 C1929.8,2172.3 1935.1,2161.9 1943.2,2155.5 C1951.3,2149.1 1959.6,2144.7 1967.1,2143.6 C1974.6,2142.5 1979.1,2146.3 1985.0,2149.5 C1990.9,2152.7 1993.0,2157.1 2000.0,2161.4 C2007.0,2165.7 2014.6,2170.4 2023.7,2173.4 C2032.8,2176.4 2041.9,2175.7 2050.5,2177.8 C2059.1,2179.9 2063.9,2180.7 2071.4,2185.3 C2078.9,2189.9 2084.8,2197.3 2092.3,2203.2 C2099.8,2209.1 2105.6,2213.6 2113.2,2218.1 C2120.8,2222.6 2130.5,2226.2 2134.3,2228.0 L2134.3,2363.0 L1501.5,2363.0 Z" fill="#48b482" fill-opacity="0.6" stroke="none"/>
<path d="M1501.5,2188.0 C1501.9,2189.1 1501.8,2188.2 1503.5,2194.2 C1505.2,2200.2 1507.9,2212.5 1510.9,2221.1 C1513.9,2229.7 1516.4,2236.9 1519.9,2242.0 C1523.4,2247.1 1526.6,2248.9 1530.3,2249.4 C1534.0,2249.9 1535.6,2248.4 1540.7,2244.9 C1545.8,2241.4 1551.6,2234.8 1558.6,2230.0 C1565.6,2225.2 1571.4,2221.1 1579.5,2218.1 C1587.6,2215.1 1595.4,2213.3 1603.4,2213.6 C1611.4,2213.9 1616.7,2216.1 1624.2,2219.6 C1631.7,2223.1 1638.1,2228.7 1645.1,2233.0 C1652.1,2237.3 1656.0,2240.4 1663.0,2243.4 C1670.0,2246.4 1675.9,2249.1 1683.9,2249.4 C1691.9,2249.7 1698.1,2246.5 1707.7,2244.9 C1717.3,2243.3 1726.8,2241.1 1737.5,2240.5 C1748.2,2239.9 1756.6,2241.7 1767.3,2241.4 C1778.0,2241.1 1788.6,2239.7 1797.2,2239.0 C1805.8,2238.3 1808.6,2239.1 1815.0,2237.5 C1821.4,2235.9 1826.5,2233.5 1832.9,2230.0 C1839.3,2226.5 1843.3,2222.4 1850.8,2218.1 C1858.3,2213.8 1865.5,2210.5 1874.6,2206.2 C1883.7,2201.9 1892.9,2199.0 1901.5,2194.2 C1910.1,2189.4 1914.8,2186.3 1922.3,2179.3 C1929.8,2172.3 1935.1,2161.9 1943.2,2155.5 C1951.3,2149.1 1959.6,2144.7 1967.1,2143.6 C1974.6,2142.5 1979.1,2146.3 1985.0,2149.5 C1990.9,2152.7 1993.0,2157.1 2000.0,2161.4 C2007.0,2165.7 2014.6,2170.4 2023.7,2173.4 C2032.8,2176.4 2041.9,2175.7 2050.5,2177.8 C2059.1,2179.9 2063.9,2180.7 2071.4,2185.3 C2078.9,2189.9 2084.8,2197.3 2092.3,2203.2 C2099.8,2209.1 2105.6,2213.6 2113.2,2218.1 C2120.8,2222.6 2130.5,2226.2 2134.3,2228.0" fill="none" stroke="#14ad72" stroke-width="3.0" stroke-linejoin="round"/>
<path d="M1501.5,2357.0 C1512.0,2356.3 1542.3,2353.8 1560.0,2353.0 C1577.7,2352.2 1585.6,2352.0 1600.0,2352.5 C1614.4,2353.0 1622.0,2355.2 1640.0,2356.0 C1658.0,2356.8 1678.4,2357.3 1700.0,2357.0 C1721.6,2356.7 1742.9,2356.3 1760.0,2354.5 C1777.1,2352.7 1785.1,2349.6 1795.0,2347.0 C1804.9,2344.4 1809.3,2345.8 1815.0,2340.3 C1820.7,2334.8 1822.1,2327.8 1826.9,2316.5 C1831.7,2305.2 1836.4,2299.2 1841.8,2277.7 C1847.2,2256.2 1851.3,2227.8 1856.7,2197.2 C1862.1,2166.6 1866.2,2140.0 1871.6,2107.8 C1877.0,2075.6 1881.2,2046.2 1886.6,2018.3 C1892.0,1990.4 1895.6,1975.8 1901.5,1952.7 C1907.4,1929.6 1913.5,1907.3 1919.4,1890.1 C1925.3,1872.9 1928.9,1869.6 1934.3,1857.3 C1939.7,1845.0 1943.3,1834.5 1949.2,1821.6 C1955.1,1808.7 1960.9,1790.6 1967.1,1785.8 C1973.3,1781.0 1978.1,1786.1 1983.5,1794.7 C1988.9,1803.3 1991.5,1818.5 1996.9,1833.5 C2002.3,1848.5 2007.9,1865.9 2013.3,1878.2 C2018.7,1890.5 2021.1,1892.4 2026.7,1902.1 C2032.3,1911.8 2038.2,1916.9 2044.6,1931.9 C2051.0,1946.9 2056.6,1966.7 2062.5,1985.5 C2068.4,2004.3 2072.0,2020.6 2077.4,2036.2 C2082.8,2051.8 2087.5,2061.8 2092.3,2072.0 C2097.1,2082.2 2099.4,2083.8 2104.2,2092.9 C2109.0,2102.0 2113.7,2111.5 2119.1,2122.7 C2124.5,2133.9 2131.6,2149.2 2134.3,2155.0 L2134.3,2363.0 L1501.5,2363.0 Z" fill="#f39358" fill-opacity="0.6" stroke="none"/>
<path d="M1501.5,2357.0 C1512.0,2356.3 1542.3,2353.8 1560.0,2353.0 C1577.7,2352.2 1585.6,2352.0 1600.0,2352.5 C1614.4,2353.0 1622.0,2355.2 1640.0,2356.0 C1658.0,2356.8 1678.4,2357.3 1700.0,2357.0 C1721.6,2356.7 1742.9,2356.3 1760.0,2354.5 C1777.1,2352.7 1785.1,2349.6 1795.0,2347.0 C1804.9,2344.4 1809.3,2345.8 1815.0,2340.3 C1820.7,2334.8 1822.1,2327.8 1826.9,2316.5 C1831.7,2305.2 1836.4,2299.2 1841.8,2277.7 C1847.2,2256.2 1851.3,2227.8 1856.7,2197.2 C1862.1,2166.6 1866.2,2140.0 1871.6,2107.8 C1877.0,2075.6 1881.2,2046.2 1886.6,2018.3 C1892.0,1990.4 1895.6,1975.8 1901.5,1952.7 C1907.4,1929.6 1913.5,1907.3 1919.4,1890.1 C1925.3,1872.9 1928.9,1869.6 1934.3,1857.3 C1939.7,1845.0 1943.3,1834.5 1949.2,1821.6 C1955.1,1808.7 1960.9,1790.6 1967.1,1785.8 C1973.3,1781.0 1978.1,1786.1 1983.5,1794.7 C1988.9,1803.3 1991.5,1818.5 1996.9,1833.5 C2002.3,1848.5 2007.9,1865.9 2013.3,1878.2 C2018.7,1890.5 2021.1,1892.4 2026.7,1902.1 C2032.3,1911.8 2038.2,1916.9 2044.6,1931.9 C2051.0,1946.9 2056.6,1966.7 2062.5,1985.5 C2068.4,2004.3 2072.0,2020.6 2077.4,2036.2 C2082.8,2051.8 2087.5,2061.8 2092.3,2072.0 C2097.1,2082.2 2099.4,2083.8 2104.2,2092.9 C2109.0,2102.0 2113.7,2111.5 2119.1,2122.7 C2124.5,2133.9 2131.6,2149.2 2134.3,2155.0" fill="none" stroke="#ee7d45" stroke-width="3.0" stroke-linejoin="round"/>
<path d="M1501.5,2300.5 C1501.9,2300.7 1500.7,2299.8 1503.5,2301.6 C1506.3,2303.4 1511.3,2308.4 1516.9,2310.5 C1522.5,2312.6 1527.3,2312.7 1534.8,2313.5 C1542.3,2314.3 1549.0,2313.9 1558.6,2315.0 C1568.2,2316.1 1579.8,2319.2 1588.4,2319.5 C1597.0,2319.8 1599.9,2319.2 1606.3,2316.5 C1612.7,2313.8 1617.8,2310.5 1624.2,2304.6 C1630.6,2298.7 1636.2,2292.3 1642.1,2283.7 C1648.0,2275.1 1651.6,2268.2 1657.0,2256.9 C1662.4,2245.6 1666.5,2235.6 1671.9,2221.1 C1677.3,2206.6 1681.4,2193.0 1686.8,2176.4 C1692.2,2159.8 1696.9,2144.8 1701.7,2128.7 C1706.5,2112.6 1709.4,2101.4 1713.7,2086.9 C1718.0,2072.4 1721.3,2059.5 1725.6,2048.2 C1729.9,2036.9 1732.7,2031.8 1737.5,2024.3 C1742.3,2016.8 1746.0,2013.4 1752.4,2006.4 C1758.8,1999.4 1766.3,1993.0 1773.3,1985.5 C1780.3,1978.0 1784.8,1972.5 1791.2,1964.7 C1797.6,1956.9 1803.7,1946.6 1809.1,1942.3 C1814.5,1938.0 1816.7,1938.9 1821.0,1940.8 C1825.3,1942.7 1827.8,1948.4 1832.9,1952.7 C1838.0,1957.0 1843.9,1964.2 1849.3,1964.7 C1854.7,1965.2 1857.6,1958.9 1862.7,1955.7 C1867.8,1952.5 1873.0,1947.1 1877.6,1946.8 C1882.2,1946.5 1884.2,1948.8 1888.0,1954.2 C1891.8,1959.6 1894.5,1966.1 1898.5,1976.6 C1902.5,1987.1 1906.1,1999.0 1910.4,2012.4 C1914.7,2025.8 1918.0,2039.8 1922.3,2051.1 C1926.6,2062.4 1929.5,2069.9 1934.3,2075.0 C1939.1,2080.1 1943.8,2077.4 1949.2,2079.5 C1954.6,2081.6 1958.7,2080.7 1964.1,2086.9 C1969.5,2093.1 1974.2,2103.0 1979.0,2113.7 C1983.8,2124.4 1986.1,2132.6 1990.9,2146.6 C1995.7,2160.6 2000.4,2176.8 2005.8,2191.3 C2011.2,2205.8 2014.8,2215.7 2020.7,2227.0 C2026.6,2238.3 2031.6,2243.7 2038.6,2253.9 C2045.6,2264.1 2051.5,2273.5 2059.5,2283.7 C2067.5,2293.9 2074.7,2303.0 2083.3,2310.5 C2091.9,2318.0 2098.0,2320.2 2107.2,2325.4 C2116.4,2330.6 2129.4,2337.0 2134.3,2339.5 L2134.3,2363.0 L1501.5,2363.0 Z" fill="#3f7bbc" fill-opacity="0.6" stroke="none"/>
<path d="M1501.5,2300.5 C1501.9,2300.7 1500.7,2299.8 1503.5,2301.6 C1506.3,2303.4 1511.3,2308.4 1516.9,2310.5 C1522.5,2312.6 1527.3,2312.7 1534.8,2313.5 C1542.3,2314.3 1549.0,2313.9 1558.6,2315.0 C1568.2,2316.1 1579.8,2319.2 1588.4,2319.5 C1597.0,2319.8 1599.9,2319.2 1606.3,2316.5 C1612.7,2313.8 1617.8,2310.5 1624.2,2304.6 C1630.6,2298.7 1636.2,2292.3 1642.1,2283.7 C1648.0,2275.1 1651.6,2268.2 1657.0,2256.9 C1662.4,2245.6 1666.5,2235.6 1671.9,2221.1 C1677.3,2206.6 1681.4,2193.0 1686.8,2176.4 C1692.2,2159.8 1696.9,2144.8 1701.7,2128.7 C1706.5,2112.6 1709.4,2101.4 1713.7,2086.9 C1718.0,2072.4 1721.3,2059.5 1725.6,2048.2 C1729.9,2036.9 1732.7,2031.8 1737.5,2024.3 C1742.3,2016.8 1746.0,2013.4 1752.4,2006.4 C1758.8,1999.4 1766.3,1993.0 1773.3,1985.5 C1780.3,1978.0 1784.8,1972.5 1791.2,1964.7 C1797.6,1956.9 1803.7,1946.6 1809.1,1942.3 C1814.5,1938.0 1816.7,1938.9 1821.0,1940.8 C1825.3,1942.7 1827.8,1948.4 1832.9,1952.7 C1838.0,1957.0 1843.9,1964.2 1849.3,1964.7 C1854.7,1965.2 1857.6,1958.9 1862.7,1955.7 C1867.8,1952.5 1873.0,1947.1 1877.6,1946.8 C1882.2,1946.5 1884.2,1948.8 1888.0,1954.2 C1891.8,1959.6 1894.5,1966.1 1898.5,1976.6 C1902.5,1987.1 1906.1,1999.0 1910.4,2012.4 C1914.7,2025.8 1918.0,2039.8 1922.3,2051.1 C1926.6,2062.4 1929.5,2069.9 1934.3,2075.0 C1939.1,2080.1 1943.8,2077.4 1949.2,2079.5 C1954.6,2081.6 1958.7,2080.7 1964.1,2086.9 C1969.5,2093.1 1974.2,2103.0 1979.0,2113.7 C1983.8,2124.4 1986.1,2132.6 1990.9,2146.6 C1995.7,2160.6 2000.4,2176.8 2005.8,2191.3 C2011.2,2205.8 2014.8,2215.7 2020.7,2227.0 C2026.6,2238.3 2031.6,2243.7 2038.6,2253.9 C2045.6,2264.1 2051.5,2273.5 2059.5,2283.7 C2067.5,2293.9 2074.7,2303.0 2083.3,2310.5 C2091.9,2318.0 2098.0,2320.2 2107.2,2325.4 C2116.4,2330.6 2129.4,2337.0 2134.3,2339.5" fill="none" stroke="#1b7dc0" stroke-width="3.0" stroke-linejoin="round"/>
</g>
<rect x="171.0" y="1755.8" width="632.8" height="602.2" fill="none" stroke="#262a2c" stroke-width="4.6"/>
<text x="253.5" y="2416.0" font-size="38.4" text-anchor="middle">0.05</text>
<text x="391.1" y="2416.0" font-size="38.4" text-anchor="middle">0.10</text>
<text x="528.7" y="2416.0" font-size="38.4" text-anchor="middle">0.15</text>
<text x="666.2" y="2416.0" font-size="38.4" text-anchor="middle">0.20</text>
<text x="803.8" y="2416.0" font-size="38.4" text-anchor="middle">0.25</text>
<text x="487.4" y="2472.0" font-size="42.2" text-anchor="middle">Line width (<tspan font-style="italic">Å</tspan>)</text>
<text x="186.0" y="1827.0" font-size="32" text-anchor="start">g)</text>
<rect x="836.2" y="1755.8" width="632.8" height="602.2" fill="none" stroke="#262a2c" stroke-width="4.6"/>
<text x="918.7" y="2416.0" font-size="38.4" text-anchor="middle">0.05</text>
<text x="1056.3" y="2416.0" font-size="38.4" text-anchor="middle">0.10</text>
<text x="1193.9" y="2416.0" font-size="38.4" text-anchor="middle">0.15</text>
<text x="1331.4" y="2416.0" font-size="38.4" text-anchor="middle">0.20</text>
<text x="1469.0" y="2416.0" font-size="38.4" text-anchor="middle">0.25</text>
<text x="1152.6" y="2472.0" font-size="42.2" text-anchor="middle">Line width (<tspan font-style="italic">Å</tspan>)</text>
<text x="851.2" y="1827.0" font-size="32" text-anchor="start">h)</text>
<rect x="1501.5" y="1755.8" width="632.8" height="602.2" fill="none" stroke="#262a2c" stroke-width="4.6"/>
<text x="1584.0" y="2416.0" font-size="38.4" text-anchor="middle">0.05</text>
<text x="1721.6" y="2416.0" font-size="38.4" text-anchor="middle">0.10</text>
<text x="1859.2" y="2416.0" font-size="38.4" text-anchor="middle">0.15</text>
<text x="1996.7" y="2416.0" font-size="38.4" text-anchor="middle">0.20</text>
<text x="2134.3" y="2416.0" font-size="38.4" text-anchor="middle">0.25</text>
<text x="1817.9" y="2472.0" font-size="42.2" text-anchor="middle">Line width (<tspan font-style="italic">Å</tspan>)</text>
<text x="1516.5" y="1827.0" font-size="32" text-anchor="start">i)</text>
<text x="139.5" y="2367.8" font-size="38.4" text-anchor="end">0</text>
<text x="139.5" y="2217.2" font-size="38.4" text-anchor="end">1</text>
<text x="139.5" y="2066.7" font-size="38.4" text-anchor="end">2</text>
<text x="139.5" y="1916.1" font-size="38.4" text-anchor="end">3</text>
<text x="139.5" y="1765.6" font-size="38.4" text-anchor="end">4</text>
<text x="93.6" y="2055.5" font-size="42.2" text-anchor="middle" transform="rotate(-90 93.6 2055.5)">Density</text>
</svg></body></html>
